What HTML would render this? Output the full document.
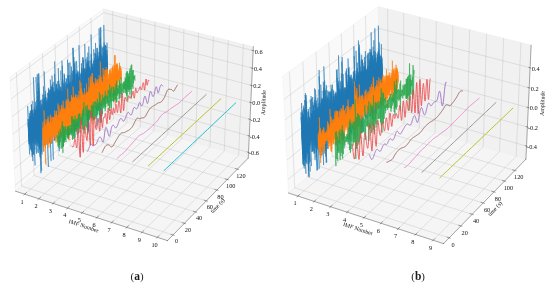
<!DOCTYPE html>
<html><head><meta charset="utf-8"><title>IMF decomposition</title>
<style>
html,body{margin:0;padding:0;background:#fff;}
body{width:550px;height:287px;overflow:hidden;font-family:"Liberation Serif",serif;}
svg{display:block;position:absolute;left:0;top:0;}
svg text{font-family:"Liberation Serif",serif;}
.cap{position:absolute;top:268.4px;width:40px;text-align:center;font-size:11.5px;line-height:16px;color:#1a1a1a;}
.cap b{font-weight:bold;}
.cap span{font-size:10.8px;position:relative;top:-0.2px;}
</style></head><body>
<svg width="550" height="287" viewBox="0 0 550 287">
<g id="panel-a">
<polygon points="15.47,191.16 104.84,116.51 103.59,8.83 9.95,76.94" fill="#f9f9f9" stroke="#ececec" stroke-width="0.40" stroke-linejoin="round"/>
<polygon points="104.84,116.51 248.25,158.05 253.36,46.67 103.59,8.83" fill="#f1f1f1" stroke="#ececec" stroke-width="0.40" stroke-linejoin="round"/>
<polygon points="15.47,191.16 167.49,240.64 248.25,158.05 104.84,116.51" fill="#f5f5f5" stroke="#ececec" stroke-width="0.40" stroke-linejoin="round"/>
<g fill="none" stroke="#b0b0b0" stroke-width="0.32">
<polyline points="24.67,194.16 113.56,119.03 112.68,11.13"/>
<polyline points="38.82,198.76 126.95,122.91 126.64,14.66"/>
<polyline points="53.11,203.42 140.46,126.83 140.74,18.22"/>
<polyline points="67.54,208.11 154.11,130.78 154.98,21.81"/>
<polyline points="82.12,212.86 167.88,134.77 169.35,25.45"/>
<polyline points="96.86,217.66 181.77,138.79 183.87,29.11"/>
<polyline points="111.74,222.50 195.80,142.86 198.52,32.81"/>
<polyline points="126.78,227.39 209.97,146.96 213.33,36.55"/>
<polyline points="141.97,232.34 224.27,151.10 228.28,40.33"/>
<polyline points="157.33,237.34 238.70,155.28 243.38,44.14"/>
<polyline points="173.05,234.96 21.59,186.04 16.39,72.26"/>
<polyline points="184.42,223.32 34.14,175.56 29.58,62.67"/>
<polyline points="195.53,211.97 46.41,165.32 42.45,53.30"/>
<polyline points="206.37,200.88 58.39,155.30 55.02,44.16"/>
<polyline points="216.95,190.05 70.11,145.51 67.29,35.24"/>
<polyline points="227.29,179.48 81.57,135.94 79.29,26.51"/>
<polyline points="237.40,169.14 92.78,126.57 91.01,17.99"/>
<polyline points="15.18,185.34 104.77,111.00 248.51,152.36"/>
<polyline points="14.37,168.55 104.59,95.12 249.26,135.96"/>
<polyline points="13.55,151.53 104.40,79.05 250.02,119.35"/>
<polyline points="12.72,134.27 104.22,62.77 250.80,102.52"/>
<polyline points="11.87,116.77 104.03,46.28 251.58,85.46"/>
<polyline points="11.01,99.02 103.83,29.58 252.37,68.17"/>
<polyline points="10.14,81.03 103.64,12.67 253.18,50.64"/>
</g>
<g fill="none" stroke-width="0.98" stroke-linejoin="round">
<polyline stroke="#1f77b4" stroke-width="0.52" points="28.16,126.95 27.86,119.09 28.08,123.44 28.99,144.12 28.51,131.96 28.70,135.42 28.23,123.45 28.79,135.83 28.35,124.43 29.64,154.42 27.65,105.94 29.18,141.80 28.51,124.76 29.06,137.04 28.99,134.65 28.63,125.15 28.73,126.51 29.26,138.37 29.03,131.99 28.74,124.22 29.60,143.81 29.52,141.04 28.64,119.08 29.56,140.18 29.83,145.92 29.13,128.27 29.29,131.27 29.70,140.11 29.91,144.33 29.04,122.46 29.10,122.97 29.78,138.67 29.75,137.05 29.22,123.31 29.39,126.59 29.91,138.18 29.37,124.23 29.41,124.28 30.06,139.08 30.04,137.69 29.47,123.03 29.82,130.67 29.49,121.85 30.67,149.55 29.90,129.91 30.15,135.18 30.50,142.74 29.58,119.54 29.89,126.09 30.54,141.01 29.41,112.91 30.19,130.86 30.17,129.43 30.25,130.46 30.01,123.67 31.09,149.18 29.79,116.68 30.31,128.29 31.29,151.37 29.90,116.57 30.69,135.04 30.16,121.21 30.95,139.45 30.51,127.98 30.50,126.86 31.13,141.15 30.26,119.02 30.95,134.97 30.56,124.68 31.16,138.49 30.28,115.99 30.92,130.72 31.16,135.67 30.66,122.59 30.63,121.09 30.60,119.44 32.18,156.97 30.33,111.08 31.17,130.68 31.34,133.83 31.62,139.77 30.46,110.43 32.14,150.73 30.75,115.96 30.95,119.73 32.40,154.55 31.15,122.85 31.95,141.59 31.05,118.80 30.94,115.13 31.09,117.78 32.89,161.09 31.43,124.36 31.22,118.33 31.20,117.10 31.98,135.17 32.22,140.21 31.49,121.42 32.02,133.49 31.97,131.52 32.47,142.77 31.59,120.34 31.96,128.51 32.15,132.33 32.14,131.09 32.61,141.79 32.01,126.10 31.50,112.65 32.61,139.18 32.83,143.64 31.29,104.65 32.43,132.07 31.54,109.13 32.92,142.26 32.64,134.51 32.97,141.88 31.50,104.40 31.72,109.07 33.61,154.85 32.66,130.58 32.19,117.85 33.19,141.95 32.60,126.24 32.82,130.83 32.59,124.24 32.37,117.75 33.12,135.71 32.46,118.29 33.34,139.37 32.69,122.12 34.01,154.24 33.09,130.38 32.31,109.87 33.56,140.26 32.71,118.05 33.07,126.26 32.46,110.04 33.22,128.16 32.81,116.95 33.62,136.25 33.61,135.22 33.51,131.69 33.43,128.76 33.81,137.35 33.42,126.73 33.41,125.55 33.41,124.75 33.80,133.42 35.11,165.49 33.18,116.19 33.57,125.07 33.31,117.62 33.79,128.73 34.22,138.58 33.97,131.53 32.80,101.22 34.09,132.66 33.34,112.91 33.53,116.67 34.89,149.99 33.67,118.32 33.98,125.27 33.99,124.63 34.06,125.44 34.23,128.91 34.18,126.76 34.92,144.45 33.98,119.72 34.59,134.32 34.12,121.40 34.62,133.15 34.05,117.93 34.28,122.67 34.57,129.27 34.48,125.96 34.61,128.31 34.81,132.53 34.60,126.16 34.84,131.36 34.43,120.02 34.83,129.44 34.23,113.15 35.50,144.46 34.15,109.40 35.41,140.47 35.03,129.90 34.85,124.46 35.17,131.60 34.77,120.36 35.37,134.70 35.39,134.43 35.21,128.99 34.41,107.66 35.50,134.55 35.72,139.22 34.98,119.29 35.94,143.01 33.40,77.28 36.44,153.75 34.83,111.84 35.34,123.89 36.21,145.26 34.93,111.51 34.92,110.37 35.64,127.89 35.63,126.68 35.32,117.92 35.86,130.80 35.63,123.80 35.90,129.90 35.50,118.64 36.39,140.57 35.29,111.40 36.32,136.92 36.27,134.82 35.53,114.93 35.37,109.79 36.07,126.73 36.55,138.19 35.67,114.80 36.53,135.78 36.12,124.36 36.15,124.15 37.28,152.49 35.35,101.65 36.83,138.88 36.39,126.80 36.99,141.13 36.71,133.08 36.48,126.19 35.87,109.54 36.00,112.05 37.03,137.63 36.10,112.65 37.06,136.43 37.47,146.18 36.11,110.14 36.58,121.34 37.10,133.84 36.55,118.80 36.67,120.78 37.44,139.96 37.36,137.01 36.64,117.30 37.03,126.34 37.13,128.13 36.49,110.49 36.38,106.78 37.82,143.15 36.56,109.63 36.95,118.69 37.16,123.33 36.97,117.34 38.01,143.45 36.86,112.70 36.60,104.80 37.84,136.23 37.98,139.09 36.99,112.32 37.07,113.31 37.74,129.98 37.97,135.10 36.67,100.04 38.73,153.11 37.05,108.20 38.04,133.11 38.36,140.41 35.97,76.99 38.02,129.85 38.56,143.04 37.22,107.00 38.34,135.32 38.81,146.73 37.77,118.40 37.68,115.27 37.67,113.91 38.22,127.47 38.17,125.22 37.94,118.30 38.47,131.24 37.55,106.11 38.58,132.12 38.21,121.47 38.13,118.56 39.12,143.56 38.46,125.31 37.40,96.32 38.97,136.74 38.95,135.42 38.29,116.87 38.97,133.84 38.33,115.98 39.11,135.88 38.34,114.35 39.67,148.68 37.52,90.97 40.05,156.83 39.53,142.03 38.48,113.47 39.04,127.25 38.74,118.45 39.64,141.42 37.77,90.82 37.19,74.46 40.95,173.24 38.52,107.79 39.43,131.00 38.74,111.77 40.25,150.84 39.30,124.56 38.68,107.07 39.50,128.00 38.47,99.73 40.29,147.16 39.12,114.97 37.96,83.11 40.81,158.35 39.77,129.61 39.31,116.20 39.62,123.64 39.19,111.06 39.87,128.50 40.14,134.78 39.40,113.95 38.47,87.98 39.98,127.43 41.64,170.89 39.10,102.01 40.32,133.80 39.37,107.34 40.27,130.40 38.19,73.72 40.18,126.03 39.86,116.57 40.30,127.53 40.24,124.90 40.02,118.02 39.70,108.36 40.39,125.97 40.63,131.51 39.62,103.27 40.65,130.10 40.50,125.16 41.08,139.86 40.52,123.79 40.65,126.35 41.66,152.62 38.76,73.30 40.64,123.06 40.91,129.34 40.15,107.90 40.81,124.76 40.71,121.08 41.98,154.63 40.27,107.20 40.56,114.05 40.33,106.88 40.55,111.91 40.83,118.47 41.86,145.47 41.67,139.41 40.26,100.30 41.24,125.71 40.74,111.36 41.46,129.95 41.09,118.76 41.90,139.94 40.73,107.12 41.60,129.71 41.10,115.26 41.26,118.47 41.57,126.06 41.30,117.77 41.56,123.96 41.23,113.81 41.54,121.30 41.91,130.39 41.72,124.35 40.88,100.41 42.11,133.08 41.35,111.16 41.84,123.59 42.08,129.38 41.98,125.53 41.67,116.03 41.84,119.74 41.78,117.10 42.53,136.78 41.95,119.87 41.95,118.95 41.51,105.93 43.21,151.52 41.52,104.22 42.45,128.57 41.97,114.40 42.50,127.97 42.07,115.27 41.88,109.09 42.54,126.34 42.32,119.16 42.39,120.09 42.77,129.62 42.17,112.27 42.70,125.69 42.78,126.98 42.45,117.02 42.76,124.38 42.38,113.10 42.86,125.18 42.89,125.23 41.99,99.32 42.77,119.78 42.62,114.83 42.92,122.08 43.06,124.86 43.05,123.78 42.99,120.90 42.66,110.73 43.19,124.64 43.58,134.28 42.84,112.93 43.60,132.93 42.86,111.32 43.64,132.17 43.43,125.33 43.00,112.40 43.37,121.74 43.89,135.10 42.81,104.11 42.85,104.30 44.38,145.91 42.58,94.61 44.13,136.86 43.59,120.96 43.56,119.04 44.18,135.42 42.92,99.12 43.80,122.84 44.10,130.17 43.71,118.33 44.56,141.09 43.64,114.42 43.26,102.61 44.71,142.37 43.73,113.94 43.83,115.75 43.67,110.10 43.79,112.48 44.54,132.62 44.47,129.53 43.82,110.49 44.42,126.22 44.26,120.62 43.79,106.37 43.90,108.66 44.60,127.43 44.56,125.12 44.14,112.23 45.26,143.04 44.04,107.50 44.90,130.67 43.36,86.36 44.84,127.10 44.71,122.52 44.74,122.38 45.59,145.33 43.83,94.59 43.89,95.19 45.44,138.02 44.37,106.66 44.72,115.68 45.66,141.20 44.17,97.93 44.63,110.09 45.21,125.68 45.10,121.32 44.72,109.53 45.89,141.89 44.70,107.18 44.75,107.34 45.95,140.46 44.51,98.49 45.67,130.63 46.04,140.07 44.85,105.30 45.73,129.42 45.02,108.03 46.13,138.54 44.73,97.68 46.07,134.86 45.20,109.05 45.90,128.23 45.59,118.17 45.05,101.79 45.88,124.52 45.93,124.80 46.17,130.67 44.13,71.45 45.79,117.97 46.17,127.65 45.69,113.01 46.41,132.55 46.11,123.13 46.07,120.92 45.65,107.86 46.01,117.20 46.47,129.40 45.29,94.36 45.81,108.25 46.31,121.74 45.82,106.63 46.64,129.11 46.27,117.31 46.10,111.40 46.49,121.84 46.05,108.00 47.15,138.78 45.54,91.16 47.18,137.58 46.40,114.15 47.10,133.21 46.00,100.40 46.25,106.67 46.54,114.02 46.62,115.40 48.44,166.96 46.71,115.82 46.80,117.54 47.11,125.45 46.17,97.26 47.11,123.37 47.00,119.13 46.77,111.49 47.52,132.17 47.18,121.43 47.22,121.39 46.70,105.17 47.13,116.84 47.03,112.91 46.92,108.65 48.06,140.64 47.18,114.26 47.01,108.16 47.93,133.92 47.28,113.92 46.89,101.46 47.26,111.33 47.33,112.23 47.77,124.06 47.66,119.79 47.11,102.90 48.03,128.76 47.44,110.41 47.15,100.88 48.20,130.59 47.92,121.37 47.66,112.70 47.60,109.81 47.82,115.36 48.03,120.36 47.76,111.38 48.73,138.78 47.97,115.52 47.78,108.81 48.75,136.34 48.42,125.58 48.30,121.19 48.36,121.75 48.07,112.22 48.60,126.96 47.95,106.67 47.71,98.44 48.80,129.71 47.85,100.63 48.60,121.80 48.95,131.07 48.15,106.28 48.84,125.73 48.03,100.58 49.21,134.58 47.84,92.88 48.85,121.85 49.60,142.98 47.95,93.02 48.34,103.63 49.46,135.60 48.26,99.23 49.77,143.00 48.38,100.68 49.62,136.45 48.40,98.95 49.79,139.31 49.63,133.47 48.31,93.20 48.32,92.35 49.88,137.87 48.72,102.26 49.35,120.09 49.39,120.08 48.97,106.54 48.83,101.28 50.17,140.24 48.89,100.93 49.41,115.49 50.05,133.54 48.56,87.83 48.74,92.15 51.07,160.88 48.73,89.77 49.98,126.17 49.72,117.52 49.10,97.77 49.96,122.63 49.69,113.27 49.31,100.90 49.69,111.17 49.81,113.92 50.57,135.70 50.18,122.92 49.22,92.99 50.55,131.92 49.78,107.64 50.46,127.20 49.94,110.20 50.82,135.69 49.33,89.83 50.88,135.44 50.07,109.86 50.31,116.07 49.85,101.27 51.05,136.54 50.09,106.44 50.50,117.77 50.22,108.10 50.42,113.17 50.75,122.20 50.37,109.45 50.75,119.83 50.38,107.66 50.77,118.42 50.97,123.60 50.59,110.89 50.62,110.72 50.10,93.95 51.41,132.71 50.65,108.44 50.46,101.64 51.87,143.38 51.25,123.66 51.03,115.74 50.82,108.33 50.23,89.09 51.43,124.86 50.65,99.75 51.46,123.59 51.94,137.21 51.49,122.46 50.46,89.77 51.43,118.35 51.78,128.15 50.73,94.76 52.11,136.13 50.31,79.63 51.20,106.09 52.03,130.47 51.74,120.51 51.06,98.30 52.13,130.20 51.12,98.04 52.24,131.38 51.18,97.82 51.90,118.95 52.03,121.79 52.02,120.34 51.57,105.45 53.36,159.58 51.61,104.43 52.02,116.02 51.65,103.69 52.58,131.24 51.17,86.60 52.54,127.89 52.44,123.74 51.40,90.61 51.88,104.23 52.63,126.33 52.52,121.89 52.08,107.17 52.56,121.04 52.30,111.90 51.74,93.49 52.61,119.29 52.48,114.18 52.39,110.20 52.64,116.82 52.23,103.04 52.45,108.76 53.13,128.91 52.53,109.23 51.80,85.51 53.10,124.79 53.13,124.78 51.97,87.45 53.28,127.05 53.27,125.70 52.38,97.06 53.41,128.05 52.94,112.26 52.75,105.33 53.15,116.52 53.32,120.81 53.13,113.76 53.23,115.75 51.98,75.55 53.73,129.42 53.28,114.21 52.34,83.70 53.97,133.59 52.63,90.45 53.20,107.37 53.76,123.66 54.34,141.02 52.97,96.61 53.19,102.66 53.32,105.52 53.76,118.36 53.16,98.26 53.10,95.30 54.38,134.57 52.92,87.31 54.20,126.56 54.02,120.07 53.80,111.84 53.06,87.29 53.93,113.72 54.79,139.79 53.51,98.28 54.05,114.18 54.07,113.83 54.19,116.65 54.50,125.17 53.47,91.56 54.67,128.54 54.11,109.56 54.51,121.34 54.38,115.92 53.86,98.21 54.34,112.39 54.67,121.82 54.57,117.69 54.38,110.51 54.01,97.60 54.64,116.58 54.40,107.79 54.71,116.63 54.61,112.14 54.49,107.40 55.32,132.60 53.76,81.77 55.31,130.04 54.79,112.60 54.23,93.35 55.01,117.41 54.89,112.22 55.09,117.59 55.32,123.77 54.59,99.48 54.64,99.89 55.54,127.66 54.45,91.43 55.71,130.78 55.15,111.63 54.86,101.38 55.36,116.44 55.01,103.98 55.62,122.50 55.48,116.77 55.72,123.29 55.39,111.69 55.51,114.34 55.67,118.53 55.11,99.19 55.76,119.11 56.02,126.31 54.43,73.95 56.30,133.34 55.86,118.04 55.06,90.89 55.45,102.37 56.59,138.28 56.01,118.19 55.84,111.64 55.31,93.41 56.17,120.12 56.09,116.52 55.79,105.63 55.39,91.30 56.64,130.94 55.90,105.89 56.42,121.60 54.61,61.51 55.99,105.15 56.22,111.60 56.42,117.14 56.02,102.81 57.03,134.70 55.84,94.71 56.80,124.97 56.54,115.27 56.38,109.12 56.42,109.27 56.24,102.06 56.40,106.35 56.60,111.51 56.92,121.00 56.23,97.19 56.81,115.19 56.04,88.75 57.22,126.30 57.43,132.25 56.41,97.53 56.04,84.33 57.12,118.53 57.03,114.58 56.60,99.18 56.96,109.88 56.93,107.91 57.27,117.81 56.93,105.47 57.04,107.85 57.64,126.61 57.39,117.20 56.93,100.75 56.93,99.90 57.23,108.65 57.25,108.20 57.25,107.06 56.60,84.35 57.81,123.19 57.13,99.54 56.69,83.75 57.86,121.40 57.45,106.59 57.26,99.32 57.24,97.30 58.15,126.31 57.52,104.49 57.79,112.27 58.15,123.01 57.13,88.13 58.11,119.28 58.36,126.48 57.56,98.80 58.71,135.85 57.92,108.47 57.75,101.66 58.31,119.36 57.47,89.98 59.34,151.26 57.70,95.41 57.99,104.01 57.77,95.52 58.18,108.04 58.37,113.34 58.30,109.83 58.33,109.74 57.92,94.70 59.46,145.12 57.82,89.11 58.57,113.13 58.36,104.87 58.64,113.09 57.72,81.06 59.24,130.88 58.37,100.59 58.59,106.75 58.51,102.96 58.67,107.15 58.68,106.31 58.51,99.48 59.53,132.63 58.51,97.19 59.30,122.63 58.56,96.41 59.40,123.56 59.06,110.91 58.82,101.78 58.53,90.76 59.16,110.95 59.12,108.43 58.62,90.32 59.79,128.86 59.74,125.76 58.95,97.80 59.28,107.99 58.81,90.89 58.85,90.90 60.28,138.33 58.24,68.02 59.41,106.64 59.51,108.73 59.55,109.12 58.76,80.99 60.05,123.70 59.79,113.62 59.49,102.37 60.47,134.66 59.26,91.90 59.88,111.98 59.64,102.59 59.75,105.35 60.28,122.27 59.19,83.90 60.53,128.37 59.42,89.34 60.70,132.02 59.54,91.11 60.40,119.33 59.89,100.74 60.34,114.98 60.75,127.93 60.11,104.68 59.96,98.26 60.04,100.07 60.90,128.32 60.73,121.34 60.21,102.13 60.27,103.17 60.58,112.68 60.59,111.76 60.02,90.93 60.36,101.42 60.49,104.81 61.39,134.74 60.40,99.24 60.73,109.36 61.11,121.56 60.13,86.46 60.89,111.57 60.96,112.62 60.25,86.87 60.88,107.43 60.75,101.91 60.69,98.62 60.95,106.40 61.52,125.26 60.89,102.16 60.65,92.40 61.52,121.45 60.96,100.69 60.90,97.65 60.80,92.83 61.08,101.38 61.21,104.83 61.51,114.03 60.99,94.83 61.36,106.29 61.53,111.22 60.96,90.17 61.55,109.43 61.80,117.24 60.99,87.34 61.86,116.73 61.35,97.89 62.18,125.73 61.38,96.29 61.96,115.67 61.84,110.06 62.15,119.68 60.79,70.64 62.24,120.70 61.75,102.24 61.60,95.52 62.34,120.48 61.78,99.48 62.51,124.26 61.72,95.00 62.21,111.03 61.86,97.72 62.15,106.71 62.59,120.79 62.48,115.91 62.19,104.41 61.86,91.44 62.29,105.53 62.28,103.80 63.52,146.69 62.81,120.34 62.09,93.44 62.44,104.80 62.60,109.32 62.31,97.83 62.66,109.06 62.90,116.13 62.67,106.81 62.46,98.21 62.69,105.18 62.75,106.22 62.09,81.26 63.25,121.37 62.74,102.12 63.16,115.72 62.82,102.47 62.71,97.35 62.88,102.29 63.13,109.85 62.88,99.84 63.10,106.61 63.62,123.94 63.72,126.21 61.93,60.81 63.54,117.28 63.38,110.23 63.73,121.66 63.35,106.93 62.24,65.78 64.35,140.22 63.01,90.90 63.12,93.77 63.59,109.39 63.30,97.71 63.68,110.25 62.86,79.38 64.26,128.78 63.83,111.77 63.35,93.33 63.33,91.56 63.97,113.35 63.45,93.36 64.10,115.74 64.06,112.80 63.27,82.88 63.68,96.82 63.55,90.90 64.32,117.56 64.23,112.92 64.15,108.76 63.92,99.21 63.89,96.77 64.03,100.59 64.63,121.19 63.89,93.27 64.25,104.85 64.23,103.03 64.31,104.58 64.37,105.65 64.15,96.57 64.45,106.02 64.38,102.20 64.68,111.94 64.26,95.48 64.62,107.22 65.11,123.98 64.10,85.79 64.85,111.98 64.35,92.52 64.88,110.71 64.72,103.44 64.68,100.71 64.82,104.81 64.94,107.83 65.27,118.72 64.07,73.37 65.65,130.27 64.78,97.10 64.74,94.49 65.02,103.34 64.96,99.73 64.96,98.79 64.89,94.93 65.28,107.82 64.42,74.86 65.97,131.00 65.02,94.44 65.42,108.11 65.51,110.38 65.18,96.62 65.02,89.62 65.85,119.15 65.53,105.82 65.16,90.90 65.48,101.70 65.06,84.74 65.66,105.88 65.72,106.77 65.78,107.57 65.56,98.39 65.80,105.84 66.30,123.33 65.55,93.95 65.86,104.48 65.88,103.90 65.96,105.58 65.36,81.90 66.03,105.83 65.83,96.99 66.34,114.70 66.23,109.33 65.98,98.69 65.99,97.98 66.28,107.52 66.17,102.10 65.90,90.84 66.32,105.20 66.60,114.52 66.26,100.47 66.46,106.43 66.21,96.01 66.77,115.64 66.29,96.53 66.25,93.51 66.73,110.33 66.80,111.91 66.59,102.72 66.47,96.68 66.52,97.57 66.52,96.05 66.89,108.78 67.11,115.92 66.14,77.94 66.96,107.75 66.77,99.35 66.85,101.09 67.25,114.71 66.85,98.46 66.84,96.87 66.76,92.24 67.19,107.58 67.95,134.85 66.64,84.05 67.00,96.23 66.86,89.92 67.22,102.19 66.65,79.27 67.29,102.19 67.16,96.15 67.30,99.96 68.36,139.37 66.93,83.35 67.41,100.34 67.71,110.69 67.25,91.61 67.51,100.53 67.76,108.81 67.56,99.52 67.69,103.17 67.56,96.98 67.85,107.09 67.51,92.52 68.38,124.77 67.56,91.72 68.25,117.08 67.72,95.32 67.67,92.29 68.01,104.00 68.00,102.32 67.96,99.42 67.60,84.34 68.63,122.62 67.66,84.00 68.69,122.59 68.04,95.98 68.07,95.91 68.52,111.90 68.06,92.88 68.12,94.05 68.78,118.21 68.18,93.61 68.48,104.15 68.90,119.13 68.18,89.75 68.68,107.98 67.47,59.68 69.03,118.80 67.95,75.58 69.06,117.46 68.01,75.03 68.87,107.24 68.68,98.84 68.60,94.29 68.67,95.54 68.57,90.50 68.60,90.12 69.28,115.71 69.22,111.87 69.50,121.71 68.63,86.20 68.73,88.71 69.09,101.44 69.12,101.28 69.24,104.77 69.28,104.88 69.15,98.77 69.05,93.45 69.83,122.71 68.75,79.03 69.87,121.56 69.14,91.47 69.54,106.01 69.41,99.62 69.69,109.28 69.63,105.81 69.38,94.30 69.82,110.63 68.65,62.90 70.16,121.46 69.76,104.32 69.72,101.38 69.93,108.16 70.27,120.46 69.42,85.23 69.67,94.05 70.33,118.95 69.61,88.82 70.26,113.41 69.74,91.33 69.86,94.91 69.93,96.18 70.00,97.62 70.35,110.38 69.73,84.09 70.42,110.43 69.99,92.03 70.06,93.45 70.45,107.47 70.59,111.71 69.90,83.09 70.76,115.97 70.43,101.56 70.56,105.49 70.00,81.67 70.66,106.57 71.11,123.22 69.94,74.93 70.10,80.18 70.44,92.49 71.09,117.42 70.55,94.04 70.57,93.52 70.56,92.06 70.90,104.40 71.11,111.28 69.93,62.42 70.82,96.81 71.37,117.73 70.81,93.71 70.82,93.02 71.04,100.41 70.88,92.55 70.92,93.04 71.07,97.74 71.25,103.42 71.51,112.85 70.79,82.13 70.93,86.61 70.94,85.40 71.63,112.08 71.33,98.47 70.94,81.48 71.23,91.73 71.57,104.15 71.31,92.39 71.82,111.64 71.23,86.23 71.88,111.46 71.49,94.09 71.63,98.48 71.76,102.54 72.19,118.76 71.59,92.94 71.51,88.45 71.85,100.92 71.91,102.00 71.66,90.25 71.76,92.91 71.79,92.85 72.31,112.81 71.84,91.98 72.11,101.74 72.23,105.50 72.35,108.80 71.88,88.47 72.37,106.99 71.42,66.49 72.59,113.51 72.29,99.49 72.35,100.59 71.71,72.96 73.16,131.60 72.26,92.82 72.59,105.20 72.34,93.54 72.46,96.89 72.19,84.38 73.11,121.11 72.33,87.71 72.14,78.32 73.04,114.29 72.63,95.77 72.91,106.24 73.31,121.17 72.35,80.04 72.45,82.69 73.15,110.69 73.30,115.19 72.51,80.97 72.97,98.95 72.69,85.86 72.91,93.37 73.25,106.48 72.90,90.36 73.66,120.57 72.50,70.93 73.29,102.51 72.91,85.36 73.00,87.42 73.51,107.62 73.28,96.49 73.54,105.96 74.36,138.99 73.07,83.54 73.33,92.82 73.78,110.49 73.10,80.37 73.61,100.47 73.32,87.12 73.87,108.83 73.98,111.88 73.12,74.47 73.63,94.54 73.84,102.08 73.84,100.63 73.78,96.67 73.80,96.00 73.96,101.40 74.35,116.48 72.77,48.01 74.49,119.48 73.81,89.48 74.03,97.47 73.91,90.85 74.56,117.10 73.49,69.89 74.15,96.90 74.02,89.93 73.97,86.39 74.67,114.45 75.00,127.24 73.17,47.72 74.02,82.59 74.26,91.41 74.77,111.88 74.36,93.09 74.37,91.74 75.04,119.04 74.41,90.77 74.62,98.50 74.04,72.20 75.06,114.45 74.11,72.23 74.94,106.51 75.43,126.12 73.86,57.00 75.41,122.30 74.49,81.28 74.48,79.68 75.72,131.69 75.47,119.47 74.46,74.41 75.13,101.85 75.35,109.98 75.14,99.29 75.01,92.26 74.38,63.49 75.37,105.19 74.96,85.61 74.87,80.56 75.17,91.94 75.09,87.33 75.21,90.85 75.95,121.62 74.79,69.83 75.51,99.61 75.52,98.63 75.73,106.34 75.74,105.49 75.57,96.68 75.40,87.61 75.90,107.81 75.66,96.15 75.70,96.21 75.43,83.21 75.90,102.42 75.75,94.38 75.04,61.53 76.24,112.59 75.66,85.96 76.24,109.96 75.69,84.09 75.98,95.41 75.93,91.98 76.16,100.65 76.24,102.51 76.01,91.06 76.19,97.50 75.83,80.42 76.12,91.35 77.13,134.49 75.93,80.12 76.48,103.23 76.14,86.49 76.52,102.10 76.65,106.42 75.97,74.46 76.48,95.81 76.82,109.43 76.78,105.91 76.40,87.96 76.77,102.82 76.53,90.55 76.45,85.50 76.42,82.86 76.98,106.43 76.37,77.81 76.66,88.93 77.06,105.24 77.15,107.92 76.45,75.12 76.88,92.84 76.48,73.73 76.96,93.38 77.01,94.50 76.76,81.46 77.52,114.13 76.91,85.40 77.21,97.52 76.73,74.38 77.30,98.37 77.97,127.14 76.53,60.97 77.67,110.72 77.02,80.12 77.56,102.90 77.27,88.03 77.31,88.43 77.49,95.23 77.78,106.97 77.07,73.15 77.65,97.74 77.64,95.82 77.25,76.77 77.86,102.93 77.17,70.35 77.91,102.38 77.69,90.71 77.74,91.74 78.41,120.38 77.98,99.49 77.66,83.36 77.85,90.64 77.67,81.00 78.05,96.63 78.31,107.11 77.76,80.32 77.95,87.39 77.98,87.39 78.19,95.63 78.49,107.89 77.74,72.17 78.56,108.03 78.02,81.63 79.06,127.80 77.88,72.18 78.83,114.25 78.01,75.32 78.15,80.14 78.43,91.28 78.94,113.20 78.58,95.19 78.62,95.86 78.29,78.93 78.63,92.98 78.66,92.92 78.63,89.88 78.61,87.77 78.67,88.77 78.45,77.09 79.08,104.66 78.78,89.44 79.37,115.24 78.96,94.65 78.90,90.18 79.17,101.26 78.76,80.93 78.80,81.15 79.34,104.74 79.16,94.74 79.19,94.68 79.05,86.68 79.36,99.54 79.03,82.73 79.25,91.38 79.25,89.90 79.18,85.02 79.47,97.11 79.36,90.30 78.98,70.98 79.75,105.34 79.27,81.51 79.63,97.01 79.68,97.80 79.63,93.97 79.76,98.45 79.52,85.37 79.84,99.21 79.73,92.36 79.35,73.11 80.01,102.28 79.49,76.26 79.95,96.70 79.69,82.72 80.20,105.39 79.81,85.04 78.99,45.13 80.20,100.69 79.90,84.70 80.17,95.88 79.91,82.43 80.57,111.77 80.21,93.16 79.96,79.66 80.09,84.31 80.49,102.18 80.28,90.46 80.39,94.18 80.35,90.77 80.67,104.21 80.61,99.66 80.26,81.65 80.91,111.18 80.51,90.25 80.57,91.87 80.75,98.78 80.40,80.58 80.80,97.89 80.64,88.71 80.95,102.17 80.78,92.47 80.55,79.61 80.80,90.19 81.01,98.72 80.72,83.33 80.92,91.13 80.93,90.21 80.62,73.45 81.33,106.10 80.88,83.16 81.03,88.74 81.22,96.12 81.37,102.07 80.84,74.95 81.24,92.27 81.26,91.74 81.27,90.60 81.30,90.43 81.53,100.39 81.17,81.39 81.83,111.78 81.19,78.95 81.78,106.27 81.37,84.52 81.32,80.42 81.71,97.65 81.66,93.75 81.45,81.82 81.78,96.33 81.75,93.42 81.75,91.78 81.38,71.95 81.83,92.69 81.80,89.32 82.15,105.19 81.60,76.45 82.25,106.88 81.68,77.32 82.26,104.10 81.47,63.46 82.61,118.20 81.62,67.58 82.09,89.28 82.58,111.99 82.00,81.77 81.88,74.23 82.18,87.22 82.72,112.36 82.20,85.19 82.49,98.06 82.46,94.89 82.40,89.99 81.99,68.28 82.64,98.88 82.55,92.55 82.56,91.51 82.39,81.41 82.53,86.84 82.87,101.97 82.27,70.55 83.04,107.63 82.64,86.01 82.63,83.73 82.51,76.07 83.06,101.96 82.75,84.83 82.67,78.95 82.94,91.03 82.80,82.42 82.90,85.97 83.07,92.53 82.95,84.91 82.97,84.32 83.20,94.35 82.84,74.54 83.68,115.25 83.15,86.66 82.59,57.25 83.42,97.33 83.45,97.00 83.06,75.61 83.20,81.30 83.60,99.61 83.22,79.11 83.55,94.01 83.49,89.20 83.51,88.83 83.34,78.61 83.89,104.37 83.53,84.58 83.49,80.96 83.95,102.78 83.85,96.08 83.17,59.99 83.83,91.58 83.83,89.89 83.79,86.55 84.05,97.73 83.29,57.66 84.39,112.09 83.94,87.11 84.19,98.52 83.95,84.60 83.75,72.81 84.24,96.16 84.02,83.24 84.30,95.63 83.83,69.79 84.37,96.31 84.48,99.96 84.02,74.85 84.46,95.45 84.20,80.87 84.42,90.11 84.38,86.53 84.45,88.28 84.64,96.75 84.69,97.36 84.17,68.88 84.69,94.37 84.54,84.70 84.74,93.59 84.96,103.40 84.71,88.46 84.35,68.33 85.04,102.35 84.78,87.02 85.04,98.93 84.80,84.57 84.90,88.26 84.92,87.71 84.94,87.16 85.18,97.74 85.05,89.45 84.99,84.57 85.02,84.54 85.17,90.70 84.82,70.39 85.33,95.38 85.20,87.16 85.38,94.57 85.02,73.94 85.60,102.94 85.52,96.97 85.37,87.44 85.18,75.73 85.71,101.92 85.10,67.95 85.64,95.07 85.81,101.91 85.43,80.55 84.77,44.02 85.98,106.23 85.81,95.08 85.44,74.10 85.53,77.05 85.68,83.12 85.96,96.59 85.74,83.14 85.81,84.87 85.69,76.90 85.63,71.97 86.22,101.42 85.71,72.62 86.23,98.67 85.88,78.49 86.58,113.91 86.14,89.03 85.96,77.45 86.40,99.07 85.91,71.30 86.45,98.46 86.18,82.28 86.32,88.14 86.39,89.81 86.29,83.00 86.04,67.93 85.91,58.88 87.08,120.35 86.27,75.11 86.59,90.57 86.72,95.68 86.40,76.93 86.84,98.51 86.43,74.80 86.40,71.44 87.30,118.17 86.42,69.21 86.71,82.86 87.07,100.69 86.58,72.64 86.86,85.85 87.02,92.93 86.62,69.10 87.84,133.92 86.68,68.84 87.17,93.65 87.39,104.34 86.99,80.54 87.18,89.07 86.92,73.37 87.63,110.32 87.06,77.30 87.33,90.20 86.86,62.77 87.78,111.46 86.95,64.08 87.92,115.61 87.09,68.16 87.52,90.19 87.32,77.15 87.72,97.58 88.34,130.20 87.66,90.56 87.08,56.84 87.77,93.08 87.89,98.39 87.36,67.37 88.03,102.12 87.83,89.43 87.97,95.54 87.38,60.79 87.52,67.02 88.38,113.00 87.72,74.28 87.73,73.34 87.62,65.55 88.85,132.22 87.68,64.82 87.95,78.17 88.86,127.15 87.84,68.49 88.19,86.01 87.96,71.57 88.47,98.47 88.09,75.34 88.50,96.35 88.11,72.67 88.41,87.91 88.51,91.32 88.70,100.48 87.88,52.56 88.46,83.61 88.47,82.37 88.83,100.34 88.58,84.46 88.19,60.73 88.71,88.32 88.97,101.48 88.59,77.84 88.72,83.50 88.84,88.53 88.99,95.29 88.43,61.60 88.91,86.89 89.03,91.72 89.26,102.95 88.89,80.20 88.92,80.37 88.84,73.74 89.26,95.72 88.80,67.93 89.24,91.09 89.34,94.80 89.69,113.26 89.11,78.28 89.42,94.13 89.12,75.25 89.19,77.21 89.09,69.68 89.56,94.68 89.65,98.31 88.78,46.53 89.70,97.60 89.60,89.70 89.56,85.47 89.82,98.58 89.29,66.50 89.63,84.21 89.37,67.50 89.63,80.65 89.68,81.53 89.58,73.83 90.00,96.38 89.88,87.21 89.81,81.31 90.13,98.34 89.72,72.68 90.00,86.72 89.80,73.42 90.09,88.69 90.42,106.10 89.83,69.67 89.82,66.99 90.67,115.03 90.10,79.56 90.10,77.99 90.50,99.21 90.21,80.61 90.22,78.95 90.59,99.26 90.14,70.63 90.34,80.67 90.78,104.67 90.26,72.17 90.10,60.54 90.68,92.85 90.44,76.94 90.50,78.78 90.73,90.38 90.42,70.08 90.71,85.50 90.94,97.15 90.52,70.12 90.55,70.39 90.74,79.72 91.05,95.86 90.70,73.22 90.68,70.31 91.04,89.65 90.75,70.87 90.87,76.10 91.17,92.06 90.92,75.01 91.21,90.50 90.88,68.60 91.28,90.91 91.39,95.39 91.15,79.21 91.25,83.25 91.19,77.81 91.26,79.91 91.91,117.46 91.36,81.97 91.26,74.13 91.38,79.51 91.50,84.63 91.01,53.74 91.60,87.37 91.69,90.43 91.44,73.84 91.45,72.46 91.72,86.92 92.02,103.13 91.51,69.84 91.74,82.20 91.40,59.55 92.34,114.63 91.05,34.42 92.29,107.76 91.72,71.21 92.07,90.76 91.90,78.27 91.82,71.24 92.12,87.94 91.67,58.46 92.29,94.46 92.18,85.45 92.15,81.46 92.24,85.44 92.18,79.86 92.01,67.30 92.59,101.16 92.46,91.01 92.18,71.93 92.10,64.86 92.40,81.16 92.32,74.74 92.31,72.01 92.72,95.55 92.44,76.07 92.98,107.11 92.42,70.99 92.47,72.10 92.94,99.23 92.85,91.77 92.73,81.82 92.60,71.89 92.51,64.72 92.53,63.61 92.86,82.22 93.22,102.66 93.11,93.88 92.71,66.88 92.83,72.14 93.32,101.22 92.96,76.86 93.08,82.12 93.01,75.40 93.15,82.62 93.07,75.18 93.08,74.05 93.30,85.74 93.15,74.37 93.06,66.85 93.62,100.22 93.40,84.46 93.21,70.43 93.19,66.74 93.57,88.86 93.33,71.65 93.63,88.97 93.38,70.62 93.73,90.77 93.45,71.01 93.63,80.41 93.63,78.90 93.53,70.10 93.68,78.08 93.92,91.16 93.61,69.05 94.12,99.81 93.56,62.08 93.57,60.70 94.19,98.24 93.91,78.29 94.00,82.11 93.89,72.79 94.16,88.37 93.93,71.37 94.19,85.86 94.16,82.13 94.10,76.33 94.21,80.93 94.46,94.96 93.78,49.18 94.44,89.62 94.56,95.67 94.05,60.35 94.47,85.69 94.34,75.18 94.36,74.13 94.66,91.52 94.84,101.39 94.29,63.96 94.52,76.60 94.47,71.40 94.82,91.88 94.61,76.18 94.61,74.06 94.80,84.44 94.76,79.81 94.72,75.40 94.98,89.96 94.53,58.39 95.15,96.74 94.82,73.50 94.99,82.42 95.04,83.92 94.86,69.81 94.93,72.37 94.94,70.78 95.14,81.77 95.24,86.63 94.99,67.88 95.48,97.83 95.09,69.90 95.13,70.91 95.25,76.36 95.54,93.38 95.47,86.71 94.99,53.19 95.63,93.61 95.64,91.98 95.51,81.20 95.39,71.10 95.15,53.25 95.71,88.15 95.42,66.47 95.70,83.59 95.61,75.19 95.59,71.44 95.87,88.34 95.68,73.20 95.87,84.28 95.88,82.62 95.69,67.77 96.06,90.89 95.82,72.51 96.07,87.05 95.91,74.40 96.08,83.28 95.51,42.91 96.16,84.34 96.08,77.30 95.88,61.46 96.87,126.35 95.98,63.83 96.54,99.86 96.00,60.94 96.22,73.59 96.26,74.22 96.37,79.47 96.54,89.09 96.06,53.87 96.56,86.06 96.55,82.86 96.66,88.34 96.37,66.46 96.69,85.99 96.63,79.74 96.56,72.98 96.65,77.05 96.84,88.13 96.45,59.26 97.03,96.56 96.87,83.46 96.67,67.47 96.86,78.54 96.88,77.98 97.07,88.97 96.90,74.78 97.07,84.12 97.21,91.76 96.77,59.24 97.29,93.23 96.97,68.86 97.00,68.42 97.23,82.14 96.77,48.18 97.69,109.83 97.24,76.67 97.21,71.86 97.12,63.57 97.51,88.91 97.58,91.23 97.11,55.89 97.69,94.64 97.42,73.68 97.34,65.85 97.72,90.26 97.58,77.97 97.49,69.22 97.71,82.72 97.60,72.95 97.87,89.35 97.66,72.46 97.91,88.28 97.93,87.00 97.40,47.77 97.94,83.71 97.78,70.19 98.14,93.58 97.86,71.13 98.00,79.19 98.20,91.20 97.82,61.70 98.23,88.51 98.07,74.51 98.34,92.26 97.87,55.87 98.17,75.16 98.23,77.64 98.43,89.52 98.29,76.76 98.06,58.62 98.55,91.31 98.31,71.99 98.42,77.21 98.63,90.15 98.13,51.91 98.95,108.85 98.32,60.69 98.60,79.17 98.84,94.20 98.43,61.80 98.61,72.96 98.73,79.53 98.86,86.28 98.61,65.69 98.65,66.82 98.97,88.03 98.60,58.08 98.91,78.44 98.84,71.46 98.79,65.62 99.21,93.52 99.02,77.76 98.90,66.65 99.03,73.83 98.91,62.23 99.09,73.42 99.24,82.16 99.17,74.83 99.28,80.89 99.28,78.45 99.32,78.81 99.12,62.11 99.50,87.93 99.39,76.84 99.35,71.53 99.53,83.12 99.46,74.95 100.10,120.58 99.26,55.58 99.65,82.09 99.49,68.55 99.58,72.67 99.98,100.33 99.05,28.47 99.92,90.85 99.73,74.45 100.08,97.98 99.53,54.71 99.83,74.76 99.96,82.49 99.82,69.47 99.74,61.21 100.13,88.29 100.10,83.42 99.71,51.89 100.13,81.28 100.13,78.87 99.72,45.09 100.55,105.92 100.22,77.97 100.14,70.14 100.32,81.48 100.19,69.06 100.29,74.35 100.45,83.67 100.34,72.94 100.24,62.75 100.39,72.14 100.40,70.20 100.41,69.17 100.55,77.20 100.49,69.97 100.69,82.88 100.61,74.79 100.45,59.78 101.08,105.77 100.45,55.29 100.26,38.04 101.39,122.56 100.19,27.63 101.24,106.35 100.63,57.07 100.67,57.22 100.84,68.19 101.23,96.05 101.10,83.54 101.12,82.34 100.80,55.20 101.20,84.26 101.02,67.78 101.05,67.73 101.13,71.30 101.16,70.89 101.26,76.70 101.64,104.23 100.92,45.20 101.86,116.55 100.76,27.20 101.59,90.04 101.39,72.29 101.51,78.95 101.49,74.85 101.48,71.44 101.58,77.26 101.81,92.59 101.38,56.50 101.79,86.62 101.42,54.42 101.84,85.01 101.82,81.03 101.64,64.13 101.60,59.00 102.03,90.38 101.78,68.46 101.66,55.74 102.17,94.58 101.98,76.66 101.88,66.24 102.19,88.39 102.28,92.95 102.09,75.85 101.91,58.43 102.07,68.95 102.13,71.49 102.19,73.27 102.42,89.61 102.06,58.03 102.18,65.43 102.50,88.59 102.16,58.67 102.50,83.58 102.35,69.04 102.41,70.72 102.69,91.72 102.19,47.76 102.76,91.92 102.51,68.92 102.72,83.57 102.52,65.19 102.63,71.60 102.72,75.81 102.53,58.15 102.82,79.25 102.85,79.25 103.15,101.08 102.65,57.59 102.90,75.13 102.99,80.51 102.98,76.67 102.82,61.12 102.90,65.63 102.86,59.36 103.05,72.90 103.26,87.76 103.03,65.61 103.34,89.03 102.98,56.17 103.22,73.71 103.35,81.64 103.21,67.56 103.33,74.78 103.40,77.96 103.14,54.28 103.10,47.56 103.56,83.81 103.29,58.79 103.55,77.72 103.57,77.39 103.24,46.32 103.79,90.61 103.53,65.84 103.69,76.35 103.59,65.27 103.75,76.81 103.65,65.64 103.97,89.90 103.71,65.19 103.64,56.68 104.09,92.37 103.89,72.91 103.69,52.81 104.03,79.40 103.87,63.17 104.37,103.29 103.85,55.79 104.24,87.00 104.18,78.98 103.97,58.36 104.04,61.75 104.47,96.09 104.25,74.35 104.25,71.13 104.26,69.53 104.48,85.74 103.81,24.94 104.48,80.39 104.50,79.77 104.48,75.23 104.13,42.32 104.39,62.42 104.76,92.01 104.48,64.66 104.46,60.04 104.87,93.16 104.64,70.36 104.47,52.60 104.91,88.34 104.75,71.85 104.92,83.73 104.80,71.10 104.70,58.80 105.03,85.31 105.01,80.61 104.91,69.83 104.69,47.30 105.11,81.38 105.11,78.93 105.00,65.99 105.04,67.53 105.14,73.05 105.38,92.24 105.01,55.87 105.26,75.75 105.12,60.48 105.50,91.88 105.07,50.44 105.47,83.74 105.54,86.85 105.10,44.85 105.59,85.72 105.37,63.63 105.53,75.45 105.37,57.97 105.49,66.19 105.50,63.73 105.60,70.61 105.89,93.29 105.76,78.84 105.56,57.78 105.86,82.66 105.48,45.04 105.81,72.21 106.00,87.22 105.88,72.96 105.95,76.41 105.94,73.11 105.91,67.38 105.88,62.22 105.90,60.88 106.24,89.48 106.07,70.57 105.88,50.63 106.14,71.12 106.20,73.86 106.47,96.40 106.18,66.47 106.17,62.68 106.36,77.67 106.05,46.16 106.47,81.85 106.35,68.18 106.55,83.41 106.48,74.39 106.47,70.86 106.52,72.72 106.51,68.98 106.46,60.89 106.59,70.23 106.53,61.72 106.92,95.45 106.57,60.09 106.69,68.10 106.59,55.90 106.90,81.70 106.76,65.70 106.98,83.58 106.77,61.20 106.88,68.72 107.02,78.49 106.96,70.67 106.97,67.81 106.96,64.23 107.33,96.30 106.92,54.77 107.26,84.60 106.93,49.72 107.14,66.83 107.33,82.00 107.27,73.49 106.98,42.69 107.38,77.77 107.31,67.98 107.43,76.93 107.37,68.56 107.33,61.38 107.43,68.44 107.59,80.81"/>
<polyline stroke="#ff7f0e" stroke-width="0.60" points="42.56,130.19 42.59,129.77 43.07,141.53 43.33,147.41 43.18,142.05 42.92,133.33 42.79,128.56 42.80,127.54 43.01,131.98 43.51,144.47 43.82,151.52 43.47,140.65 42.95,124.87 42.91,122.39 43.35,133.19 43.81,144.58 43.90,145.98 43.70,139.07 43.47,131.30 43.38,127.51 43.58,131.63 43.96,140.80 44.07,142.64 43.82,134.30 43.71,129.77 43.98,136.08 44.21,141.14 44.10,136.76 43.95,131.24 44.02,131.85 44.23,136.16 44.40,139.59 44.38,137.71 44.19,131.10 44.20,129.92 44.56,138.64 44.84,145.34 44.61,137.33 44.09,121.47 44.10,120.55 45.07,146.30 45.76,164.34 45.02,142.24 43.94,110.36 44.19,116.14 45.14,141.46 45.42,147.94 45.11,137.90 44.80,127.97 44.87,128.47 45.14,134.76 45.27,136.90 45.23,134.52 45.36,136.89 45.57,141.42 45.39,134.87 45.06,124.28 45.23,127.63 45.68,138.97 45.82,141.84 45.65,135.60 45.64,133.95 45.80,137.15 45.72,133.39 45.48,125.35 45.60,127.23 45.99,136.96 46.18,141.04 46.15,138.75 46.09,135.64 45.96,130.67 45.90,127.57 46.03,129.83 46.14,131.63 46.30,135.00 46.65,143.61 46.74,144.79 46.32,131.18 45.95,119.29 46.12,122.92 46.62,135.92 46.99,144.92 46.91,141.41 46.63,132.03 46.56,128.67 46.63,129.22 46.64,128.12 46.84,132.39 47.21,141.84 47.26,141.80 46.95,131.58 46.75,124.36 46.86,126.04 47.12,132.24 47.37,137.99 47.57,142.53 47.49,138.86 47.10,126.02 47.02,122.31 47.39,131.71 47.61,136.58 47.55,133.59 47.64,134.91 47.84,139.27 47.67,132.75 47.34,121.87 47.61,128.35 48.11,141.56 48.01,137.09 47.60,123.91 47.79,128.03 48.40,144.27 48.28,139.49 47.62,118.77 47.72,120.38 48.35,137.48 48.54,141.48 48.43,136.79 48.29,131.48 48.07,123.63 48.00,120.08 48.44,131.71 49.03,147.56 48.99,144.88 48.40,126.24 48.11,116.31 48.42,123.87 48.91,136.87 49.18,143.45 49.06,138.52 48.71,126.96 48.60,122.18 48.87,128.90 49.17,136.32 49.16,134.55 49.01,128.58 49.12,130.38 49.37,136.51 49.34,134.25 49.14,126.79 49.17,126.23 49.43,132.49 49.52,134.02 49.41,129.18 49.51,130.89 49.79,137.66 49.71,133.92 49.41,123.61 49.45,123.13 49.81,132.54 50.08,139.28 50.04,136.58 49.80,127.98 49.69,123.30 49.86,127.09 50.08,132.09 50.23,135.20 50.36,137.69 50.24,132.50 49.91,121.16 49.96,121.27 50.47,135.20 50.72,141.22 50.41,130.62 50.19,122.44 50.42,128.02 50.73,135.98 50.80,136.48 50.53,127.13 50.27,117.80 50.61,126.59 51.23,143.84 51.21,141.72 50.61,122.10 50.41,114.79 50.97,130.38 51.47,143.96 51.21,134.51 50.70,117.75 50.89,122.07 51.47,138.24 51.54,138.86 51.21,127.46 51.08,122.04 51.25,125.80 51.55,133.51 51.70,136.47 51.54,130.26 51.37,123.52 51.46,124.81 51.71,131.02 51.83,133.42 51.82,131.50 51.83,130.49 51.83,128.84 51.75,124.95 51.80,125.23 52.04,131.15 52.17,133.43 52.07,129.17 52.02,126.09 52.22,130.77 52.42,135.41 52.20,127.04 51.91,116.71 52.22,124.81 52.78,140.77 52.79,139.53 52.32,123.70 52.18,117.66 52.51,126.45 52.77,133.17 52.80,132.63 52.80,131.11 52.75,128.13 52.66,123.69 52.74,124.79 52.97,130.63 53.06,131.95 53.03,129.39 53.03,127.95 53.04,126.76 53.10,127.16 53.21,128.98 53.21,127.61 53.17,125.06 53.31,127.85 53.57,134.54 53.62,134.46 53.34,124.19 53.15,116.91 53.40,123.19 53.81,134.42 53.95,137.38 53.74,129.40 53.47,119.40 53.60,122.04 54.03,134.10 54.12,135.48 53.79,123.72 53.63,117.18 53.91,124.29 54.28,134.44 54.39,136.39 54.23,130.07 54.03,122.34 53.99,119.42 54.20,124.66 54.47,131.62 54.49,130.60 54.41,126.62 54.48,127.44 54.58,129.26 54.57,127.29 54.47,122.65 54.50,122.00 54.78,129.59 55.04,136.13 54.88,129.58 54.53,117.10 54.60,117.81 55.07,131.08 55.34,138.17 55.20,132.36 54.83,119.06 54.61,110.44 54.98,120.71 55.57,138.23 55.69,140.43 55.41,130.00 55.20,121.84 55.05,115.50 55.07,114.53 55.63,131.16 56.04,142.82 55.69,129.84 55.34,117.21 55.54,122.14 55.90,132.21 55.84,128.76 55.55,117.93 55.68,120.48 56.11,132.99 56.23,135.24 56.02,126.85 55.85,120.06 55.88,119.42 56.09,124.62 56.28,129.37 56.26,127.17 56.29,126.56 56.48,131.16 56.36,125.86 56.06,114.57 56.28,120.03 56.83,136.55 56.87,136.18 56.32,116.92 56.19,111.09 56.83,130.50 57.21,141.31 56.77,125.49 56.37,110.82 56.67,118.97 57.13,132.48 57.19,133.01 57.02,125.85 56.95,122.20 57.03,123.02 57.04,122.10 57.08,121.58 57.32,128.20 57.51,132.80 57.31,124.62 57.13,117.15 57.36,123.08 57.60,129.66 57.58,127.21 57.51,123.67 57.53,122.56 57.53,121.07 57.62,122.44 57.88,129.66 58.02,132.53 57.77,122.73 57.58,114.95 57.84,122.06 58.14,130.30 58.07,126.38 57.94,120.77 58.11,124.93 58.25,127.71 58.14,122.57 58.17,122.10 58.35,126.37 58.28,122.50 58.16,117.22 58.45,125.05 58.83,136.45 58.74,131.62 58.16,110.86 57.99,103.53 58.69,125.32 59.24,142.37 58.99,132.23 58.65,119.47 58.66,117.99 58.70,117.89 58.81,120.16 59.14,129.46 59.30,133.30 59.05,123.20 58.84,114.63 59.06,120.66 59.35,128.89 59.28,124.86 59.09,116.82 59.23,120.04 59.60,130.90 59.75,134.55 59.43,122.06 59.00,105.85 59.18,110.30 59.76,128.56 59.93,132.75 59.80,126.53 59.81,125.26 59.82,124.11 59.69,118.23 59.62,114.17 59.79,118.51 60.13,128.37 60.32,133.29 60.20,127.68 59.94,117.18 59.84,112.19 60.07,118.43 60.44,129.39 60.53,130.89 60.28,120.72 60.14,114.44 60.38,121.07 60.66,128.95 60.61,125.74 60.42,117.40 60.46,117.40 60.68,123.22 60.81,126.02 60.86,126.44 60.80,122.57 60.55,112.51 60.56,111.07 61.04,126.23 61.44,138.20 61.26,130.60 60.84,114.23 60.73,109.07 61.09,119.66 61.52,133.19 61.45,129.20 61.04,113.34 61.06,112.34 61.49,125.70 61.70,131.18 61.53,123.72 61.33,115.23 61.38,115.21 61.53,119.07 61.69,122.80 61.94,130.09 62.01,130.74 61.63,115.74 61.38,105.63 61.75,116.95 62.20,130.88 62.24,130.75 62.12,125.09 61.92,116.31 61.69,106.46 61.95,114.21 62.58,134.47 62.67,136.21 62.15,116.34 61.87,104.66 62.23,115.70 62.74,131.96 62.82,133.31 62.56,122.47 62.24,109.39 62.27,108.86 62.70,122.42 63.01,131.88 62.91,126.69 62.57,112.88 62.54,110.13 62.94,122.72 63.15,128.51 62.95,119.90 62.89,116.08 63.12,122.66 63.22,124.38 63.03,116.19 62.95,111.76 63.26,121.01 63.58,130.96 63.50,126.20 63.17,112.97 63.08,107.96 63.37,116.82 63.83,131.49 63.98,135.17 63.53,117.38 63.11,100.70 63.42,110.35 63.96,127.91 64.06,129.82 63.89,122.10 63.76,115.75 63.74,113.51 63.90,117.57 64.14,124.55 64.15,122.99 63.98,115.25 64.03,115.57 64.30,123.66 64.40,125.38 64.18,115.89 64.07,110.39 64.34,118.23 64.63,127.30 64.66,126.68 64.44,117.09 64.23,107.75 64.37,110.91 64.81,125.32 65.04,132.17 64.84,123.21 64.59,112.13 64.58,110.19 64.76,114.95 64.95,120.25 65.07,122.93 65.11,122.93 65.14,122.38 65.12,119.90 64.99,113.49 64.95,110.07 65.12,114.83 65.42,123.96 65.59,128.61 65.42,120.80 65.17,109.91 65.29,112.69 65.64,123.59 65.69,124.03 65.43,112.55 65.39,109.47 65.78,121.98 66.03,129.68 65.85,121.39 65.58,109.76 65.60,108.47 65.87,116.85 66.15,125.61 66.22,126.60 66.04,118.12 65.85,109.34 65.94,110.84 66.20,119.03 66.43,125.93 66.51,127.09 66.27,116.27 65.90,100.88 66.11,107.13 66.73,128.43 66.86,131.79 66.55,118.19 66.29,106.94 66.33,106.59 66.62,115.62 67.01,128.50 67.18,133.24 66.86,119.54 66.41,100.95 66.41,99.26 66.90,115.75 67.40,132.94 67.54,136.77 67.23,123.06 66.84,106.83 66.85,105.22 67.10,112.93 67.33,120.13 67.47,123.69 67.50,123.12 67.36,116.06 67.11,104.90 67.15,104.42 67.59,119.42 67.93,130.69 67.82,124.62 67.51,111.15 67.42,105.95 67.70,115.08 68.03,125.72 67.94,120.77 67.67,108.53 67.78,111.06 68.18,124.54 68.28,126.62 67.97,113.03 67.72,101.50 67.93,107.77 68.48,127.26 68.79,137.60 68.35,118.74 67.61,88.64 67.81,94.45 68.75,129.00 69.09,140.25 68.59,119.17 68.14,100.16 68.26,102.92 68.75,119.97 69.09,131.37 69.00,126.08 68.60,109.13 68.39,99.26 68.68,108.37 69.12,123.79 69.23,126.40 69.03,117.00 68.92,110.77 69.00,111.95 69.14,115.62 69.19,116.04 69.18,113.60 69.28,116.05 69.42,119.70 69.35,115.14 69.20,107.46 69.33,110.77 69.71,123.83 69.82,126.45 69.50,111.99 69.28,101.70 69.50,108.47 69.84,119.96 69.97,123.39 69.89,118.35 69.79,112.71 69.81,111.74 69.87,112.17 69.91,111.82 70.01,114.19 70.18,118.88 70.23,119.13 70.13,113.47 70.12,111.27 70.27,115.38 70.29,114.49 70.18,108.24 70.28,110.44 70.63,122.42 70.79,126.86 70.50,113.45 70.24,101.54 70.42,106.69 70.66,114.51 70.79,118.06 70.92,121.21 70.94,120.25 70.86,115.31 70.75,108.94 70.60,101.04 70.72,104.14 71.24,123.18 71.50,131.90 71.19,117.77 70.91,104.68 70.98,105.60 71.10,108.43 71.23,111.76 71.50,120.99 71.65,125.29 71.44,115.06 71.20,103.41 71.29,105.18 71.54,113.52 71.69,117.74 71.78,119.49 71.89,122.03 71.81,116.95 71.48,101.55 71.36,95.05 71.75,109.06 72.25,127.33 72.35,129.77 72.00,113.58 71.64,96.91 71.76,99.95 72.24,117.96 72.49,126.40 72.34,118.08 72.06,104.98 71.99,100.02 72.34,112.71 72.77,128.63 72.67,122.68 72.24,102.93 72.15,97.49 72.49,109.50 72.81,120.85 72.90,122.81 72.85,118.70 72.66,109.09 72.46,98.74 72.56,101.20 72.96,115.75 73.26,126.50 73.26,124.73 73.02,112.56 72.74,99.19 72.73,97.05 73.07,109.29 73.47,124.06 73.56,125.87 73.28,112.16 73.06,101.33 73.27,107.93 73.54,117.54 73.44,111.34 73.24,101.23 73.36,104.27 73.89,124.51 74.16,133.88 73.65,110.72 73.12,86.43 73.48,99.90 74.23,129.22 74.25,128.24 73.73,104.39 73.58,96.46 74.03,113.30 74.36,125.42 74.13,113.91 73.80,97.94 73.92,101.03 74.34,116.91 74.58,125.23 74.41,115.86 74.11,101.58 74.21,103.68 74.52,115.12 74.58,115.58 74.47,109.09 74.47,107.10 74.52,107.45 74.69,112.76 74.96,122.19 74.90,117.74 74.56,101.11 74.51,97.23 74.83,109.07 75.08,117.65 75.11,117.25 75.10,114.77 75.07,111.59 75.00,106.42 74.94,101.92 75.04,104.27 75.35,115.89 75.56,122.94 75.37,112.97 75.10,99.30 75.23,102.85 75.60,117.03 75.68,118.43 75.43,105.77 75.34,99.66 75.59,108.87 75.90,120.18 75.94,119.83 75.68,106.69 75.49,96.34 75.65,101.53 76.02,115.50 76.28,124.99 76.15,117.24 75.69,95.55 75.71,94.17 76.32,119.01 76.53,126.18 76.09,105.15 75.91,94.95 76.32,111.29 76.62,122.33 76.38,109.80 76.16,97.99 76.37,105.34 76.68,117.20 76.72,116.76 76.54,107.12 76.51,103.75 76.65,108.01 76.72,108.83 76.78,109.58 76.93,114.49 76.95,113.01 76.76,102.97 76.74,99.91 77.02,110.21 77.27,119.36 77.23,115.47 77.02,104.52 76.95,98.99 77.10,104.10 77.38,114.31 77.53,119.05 77.40,111.36 77.14,97.78 77.21,98.53 77.64,115.83 77.81,121.61 77.53,106.93 77.40,99.36 77.65,108.63 77.75,110.93 77.64,103.71 77.76,107.27 77.99,115.66 77.96,112.18 77.85,105.31 77.91,105.98 77.98,107.17 77.95,103.79 78.01,104.65 78.30,115.50 78.43,119.30 78.15,104.90 77.98,95.04 78.26,105.42 78.56,117.41 78.50,112.29 78.27,99.78 78.35,101.71 78.71,115.76 78.79,117.68 78.52,103.17 78.42,96.72 78.68,106.45 78.88,113.67 78.87,110.83 78.86,108.34 78.84,105.67 78.78,100.89 78.97,107.36 79.24,117.59 79.13,110.76 78.87,96.49 78.96,98.45 79.35,114.85 79.53,121.13 79.23,104.97 78.97,90.91 79.27,102.70 79.67,119.03 79.65,116.01 79.44,104.42 79.38,99.67 79.49,102.43 79.67,108.80 79.77,111.42 79.72,106.89 79.70,103.92 79.83,107.80 79.93,110.34 79.88,105.98 79.84,102.16 79.96,105.68 80.11,110.45 80.12,108.81 80.07,104.41 80.07,102.60 80.13,103.36 80.27,107.51 80.58,120.35 80.70,123.67 80.15,95.50 79.87,80.33 80.40,103.32 80.76,118.38 80.66,111.58 80.52,102.77 80.60,104.59 80.70,106.82 80.66,103.13 80.71,103.30 80.90,110.16 80.96,111.08 80.80,101.09 80.76,97.02 81.08,110.31 81.31,118.96 81.05,104.60 80.76,88.76 81.03,99.58 81.55,122.27 81.58,121.40 81.10,96.37 80.86,82.60 81.26,99.92 81.79,123.34 81.83,123.07 81.46,102.92 81.20,88.16 81.34,92.91 81.72,109.28 82.00,120.54 81.94,115.34 81.63,98.44 81.52,90.84 81.79,101.74 82.04,111.78 82.04,109.47 82.04,107.19 82.09,107.60 82.01,101.53 81.95,96.27 82.14,103.37 82.38,113.24 82.36,110.06 82.17,98.59 82.20,98.02 82.50,110.56 82.61,113.61 82.35,98.49 82.26,91.85 82.63,107.93 82.87,117.86 82.66,105.09 82.50,95.06 82.70,102.82 82.87,108.75 82.79,103.07 82.79,100.80 82.98,107.86 83.08,110.47 82.95,101.93 82.86,95.38 83.04,102.29 83.29,112.08 83.28,109.72 83.12,99.64 83.08,95.33 83.26,101.81 83.51,112.16 83.59,113.95 83.41,103.03 83.28,93.86 83.39,97.57 83.61,106.39 83.75,111.21 83.72,107.07 83.60,98.79 83.63,98.46 83.78,103.90 83.86,105.62 83.88,104.36 83.94,104.91 84.01,106.13 83.97,102.05 83.91,96.67 84.03,100.61 84.22,108.11 84.24,106.91 84.16,100.73 84.21,100.79 84.37,106.60 84.40,106.22 84.32,99.85 84.32,97.56 84.43,100.90 84.61,107.63 84.76,113.26 84.64,104.95 84.37,88.38 84.45,90.47 84.83,107.88 85.03,115.80 84.88,105.60 84.70,94.10 84.80,97.06 85.01,105.49 85.05,105.19 85.05,103.31 85.11,103.81 85.12,102.00 85.13,100.47 85.21,102.42 85.26,102.47 85.25,99.92 85.32,101.38 85.47,106.79 85.54,107.86 85.44,100.51 85.37,94.64 85.50,98.87 85.66,105.09 85.72,105.74 85.72,103.67 85.73,101.95 85.75,100.65 85.78,99.92 85.83,100.13 85.91,102.01 86.01,105.01 86.03,103.85 85.97,98.23 86.03,99.27 86.22,107.11 86.23,105.04 86.06,93.78 86.10,93.74 86.40,106.95 86.55,112.82 86.41,102.82 86.26,92.64 86.37,96.39 86.59,105.32 86.61,104.14 86.50,96.13 86.58,97.93 86.85,110.26 86.93,112.32 86.67,95.70 86.49,83.50 86.75,95.45 87.13,113.45 87.17,113.45 86.98,100.85 86.87,92.19 86.92,92.70 87.11,100.35 87.29,108.05 87.32,107.00 87.22,99.11 87.19,95.28 87.29,98.40 87.42,103.24 87.49,104.70 87.50,102.55 87.46,97.93 87.41,93.09 87.55,98.32 87.76,107.33 87.79,106.68 87.69,98.80 87.62,92.22 87.71,94.80 87.92,104.08 88.06,109.49 88.01,104.16 87.86,93.48 87.87,91.84 88.09,101.24 88.25,107.67 88.21,103.04 88.10,94.51 88.15,95.07 88.34,102.97 88.41,104.45 88.36,99.53 88.39,98.56 88.44,98.90 88.42,95.31 88.48,96.10 88.68,105.00 88.82,110.22 88.70,101.54 88.56,90.94 88.66,94.05 88.84,101.66 88.90,102.89 88.96,103.74 88.99,102.92 88.84,91.96 88.80,86.95 89.12,103.01 89.46,119.65 89.27,106.67 88.81,77.70 88.91,80.80 89.40,106.57 89.55,112.23 89.40,101.65 89.36,96.41 89.41,97.15 89.46,97.41 89.49,96.77 89.59,99.79 89.70,103.38 89.66,98.74 89.58,91.45 89.72,97.24 89.96,108.77 89.94,105.16 89.76,91.86 89.74,88.41 89.92,96.49 90.12,104.98 90.17,105.76 90.10,99.07 90.04,92.84 90.09,93.38 90.24,99.86 90.39,105.56 90.36,101.29 90.22,90.60 90.25,89.78 90.50,102.28 90.68,109.98 90.54,99.44 90.34,85.23 90.50,92.05 90.89,112.49 90.90,110.50 90.50,84.04 90.41,76.05 90.87,100.73 91.25,120.82 91.13,111.20 90.78,87.87 90.69,79.71 90.91,90.33 91.17,103.43 91.31,109.04 91.27,104.17 91.16,94.72 91.15,91.61 91.23,94.08 91.30,95.30 91.38,97.46 91.52,103.46 91.58,104.23 91.46,94.57 91.36,86.18 91.52,93.12 91.82,108.27 91.84,107.12 91.59,89.52 91.56,84.79 91.86,100.28 92.05,109.42 91.90,97.58 91.71,83.45 91.86,90.00 92.22,109.14 92.33,113.30 92.07,94.79 91.82,76.80 91.97,83.56 92.37,105.28 92.57,114.69 92.48,106.61 92.29,91.93 92.12,79.02 92.07,73.51 92.31,85.46 92.78,111.86 93.03,124.59 92.76,105.40 92.32,75.19 92.33,73.26 92.85,102.41 93.11,116.05 92.93,102.27 92.81,92.05 92.84,91.46 92.79,85.63 92.89,89.38 93.27,109.75 93.34,111.46 93.06,91.70 93.02,86.47 93.18,93.91 93.22,93.44 93.27,93.62 93.44,101.97 93.55,105.70 93.47,98.02 93.32,86.43 93.32,83.38 93.53,93.68 93.77,106.33 93.84,108.30 93.71,97.37 93.53,83.00 93.56,82.40 93.86,98.39 94.08,109.67 94.00,102.00 93.83,88.21 93.84,85.83 94.00,93.44 94.14,99.78 94.19,100.03 94.19,97.20 94.21,95.68 94.23,94.24 94.20,89.77 94.22,88.19 94.38,95.63 94.55,104.01 94.57,102.31 94.47,92.91 94.42,87.15 94.52,90.85 94.65,96.56 94.71,97.37 94.75,97.41 94.77,96.13 94.73,90.31 94.77,90.35 94.95,99.18 95.04,102.08 94.94,92.64 94.84,83.87 94.99,90.83 95.25,104.98 95.26,102.61 95.06,86.57 95.08,84.95 95.34,99.41 95.44,103.39 95.30,90.84 95.22,82.75 95.42,93.26 95.69,108.13 95.66,103.29 95.41,84.04 95.36,78.13 95.62,92.20 95.89,107.41 95.90,105.08 95.71,89.39 95.66,83.67 95.83,92.08 95.94,96.23 95.94,93.88 96.02,95.86 96.08,97.48 96.07,93.33 96.08,91.39 96.12,91.06 96.14,89.89 96.26,95.05 96.38,99.76 96.33,93.61 96.29,88.00 96.43,94.87 96.56,100.36 96.46,90.94 96.38,82.45 96.55,91.09 96.76,102.54 96.75,99.24 96.66,89.93 96.71,90.71 96.82,94.91 96.77,88.83 96.75,84.51 96.97,96.24 97.16,106.82 97.09,98.74 96.90,82.90 96.89,79.37 97.11,91.69 97.34,104.57 97.36,102.48 97.21,89.08 97.15,82.39 97.28,88.43 97.43,95.95 97.51,98.53 97.54,97.40 97.49,91.05 97.45,85.05 97.55,88.85 97.67,94.47 97.71,94.14 97.78,96.46 97.85,98.56 97.75,88.42 97.67,79.29 97.86,89.74 98.10,103.92 98.09,100.39 97.96,87.59 97.94,83.44 98.06,88.89 98.19,95.13 98.27,97.40 98.27,94.34 98.23,88.46 98.26,87.82 98.39,93.81 98.46,95.96 98.42,89.97 98.40,85.65 98.51,90.59 98.66,98.12 98.69,96.94 98.60,87.99 98.60,84.75 98.75,92.62 98.87,97.93 98.81,90.70 98.76,83.60 98.88,89.62 99.06,99.05 99.09,98.62 99.01,89.22 98.93,80.73 99.02,83.68 99.24,96.81 99.39,104.89 99.32,96.88 99.15,80.63 99.12,75.26 99.34,88.60 99.61,105.12 99.64,104.29 99.47,88.48 99.37,77.94 99.49,83.90 99.70,96.40 99.76,97.48 99.67,87.88 99.69,85.97 99.83,93.70 99.91,96.43 99.89,91.19 99.86,86.03 99.90,85.85 99.99,89.66 100.07,92.49 100.12,92.55 100.17,93.04 100.21,92.95 100.20,89.57 100.20,86.15 100.26,87.49 100.39,93.82 100.46,95.77 100.37,86.27 100.32,78.75 100.51,89.87 100.77,106.71 100.77,103.52 100.46,76.42 100.31,61.61 100.57,78.72 100.93,103.02 101.03,107.62 100.92,95.18 100.85,87.01 100.86,84.12 100.88,82.44 101.00,88.52 101.08,91.88 101.10,89.37 101.17,92.19 101.24,94.41 101.17,85.61 101.15,80.09 101.32,90.44 101.50,101.13 101.47,95.12 101.31,79.83 101.32,76.71 101.54,90.67 101.71,101.01 101.69,95.88 101.60,85.67 101.59,81.63 101.68,85.20 101.79,90.94 101.87,93.50 101.88,90.77 101.87,87.25 101.93,88.14 101.99,89.99 102.01,87.55 102.03,86.12 102.15,92.09 102.20,93.07 102.12,83.46 102.15,82.09 102.32,92.10 102.41,96.56 102.39,91.14 102.34,83.66 102.36,82.25 102.49,88.66 102.58,92.91 102.57,88.59 102.58,85.90 102.67,89.96 102.74,91.92 102.73,87.80 102.73,84.02 102.79,85.98 102.88,90.16 102.94,90.81 102.95,88.56 102.99,88.24 103.03,88.20 103.02,83.79 103.03,81.50 103.20,91.74 103.39,104.38 103.36,97.77 103.15,76.72 103.08,67.97 103.28,80.84 103.53,98.07 103.63,102.77 103.51,89.71 103.38,74.78 103.48,79.53 103.70,95.04 103.75,95.59 103.63,81.39 103.62,76.99 103.82,90.93 103.98,100.82 103.91,91.07 103.80,78.03 103.85,78.64 103.98,86.48 104.09,92.33 104.15,93.39 104.13,88.41 104.12,84.09 104.19,86.19 104.24,86.65 104.24,83.40 104.30,84.82 104.39,89.34 104.45,90.39 104.48,89.36 104.52,89.39 104.55,87.88 104.52,82.01 104.50,76.24 104.58,80.03 104.80,95.22 104.95,104.74 104.87,93.87 104.69,74.93 104.68,69.71 104.85,81.40 105.05,95.08 105.13,98.63 105.10,92.35 105.06,85.15 105.04,79.63 105.08,79.19 105.18,84.14 105.23,85.08 105.28,85.48 105.37,90.01 105.43,91.43 105.43,87.70 105.43,84.24 105.44,81.09 105.46,79.65 105.56,84.32 105.70,93.72 105.79,97.74 105.70,85.83 105.57,70.26 105.69,77.01 105.98,99.63 106.02,99.23 105.78,74.29 105.82,73.64 106.08,93.48 106.14,95.58 106.06,84.28 106.03,77.88 106.08,78.34 106.22,86.76 106.39,98.57 106.40,95.86 106.23,76.53 106.17,67.27 106.37,81.98 106.58,97.35 106.59,94.67 106.55,86.55 106.54,82.18 106.53,76.61 106.60,79.47 106.78,92.38 106.81,91.24 106.70,77.23 106.79,81.81 107.00,97.97 106.96,89.86 106.79,69.55 106.88,73.82 107.12,93.30 107.23,99.34 107.15,87.66 107.03,72.42 107.09,73.80 107.30,90.55 107.41,96.66 107.33,84.81 107.26,74.66 107.34,78.42 107.51,90.22 107.62,96.96 107.56,87.07 107.42,69.32 107.48,71.06 107.74,92.56 107.88,102.02 107.77,86.96 107.67,73.31 107.75,77.52 107.86,84.25 107.92,85.26 107.96,85.03 108.00,85.02 108.04,85.21 108.09,85.40 108.11,83.27 108.13,81.85 108.20,84.83 108.25,84.72 108.24,79.71 108.28,79.77 108.40,87.93 108.50,93.43 108.47,86.02 108.39,74.14 108.44,74.76 108.59,85.64 108.69,91.51 108.69,87.35 108.66,80.41 108.69,79.45 108.78,83.43 108.83,84.98 108.87,84.47 108.90,82.90 108.92,80.69 108.96,81.48 109.04,85.35 109.10,86.63 109.11,83.38 109.12,80.76 109.17,81.42 109.22,82.41 109.28,84.00 109.33,85.18 109.34,81.46 109.35,78.32 109.45,84.70 109.58,93.06 109.55,86.47 109.44,69.84 109.48,70.08 109.69,87.94 109.82,96.77 109.79,89.02 109.72,78.08 109.72,72.88 109.78,75.34 109.92,85.64 110.04,94.22 110.03,88.24 109.93,73.16 109.94,69.64 110.12,84.84 110.28,97.28 110.23,88.07 110.13,72.31 110.17,71.69 110.30,81.75 110.41,89.59 110.46,89.89 110.43,82.42 110.39,73.62 110.45,75.17 110.60,86.96 110.67,90.72 110.63,81.08 110.62,75.93 110.70,80.18 110.76,81.55 110.80,81.74 110.90,87.74 110.93,87.09 110.85,73.61 110.87,70.88 111.06,87.99 111.17,95.08 111.07,79.12 111.01,68.09 111.15,78.91 111.30,91.17 111.31,87.79 111.26,77.37 111.27,73.73 111.36,79.74 111.48,88.44 111.51,87.13 111.45,75.67 111.47,73.19 111.60,83.02 111.68,87.06 111.68,82.59 111.70,80.14 111.74,80.50 111.77,78.37 111.79,76.86 111.88,82.53 111.97,88.05 111.97,83.22 111.94,74.45 111.99,75.08 112.10,83.88 112.17,86.63 112.17,81.43 112.17,77.59 112.20,76.13 112.27,78.76 112.38,87.28 112.43,88.52 112.36,74.70 112.33,66.29 112.49,81.20 112.67,96.85 112.62,86.34 112.50,66.73 112.58,71.06 112.76,88.11 112.78,86.29 112.73,75.13 112.81,79.88 112.92,87.13 112.87,77.04 112.85,68.56 113.00,81.89 113.14,94.05 113.09,83.34 113.01,67.91 113.07,70.91 113.23,85.62 113.30,89.25 113.26,78.29 113.27,74.73 113.37,82.41 113.40,80.72 113.39,74.21 113.47,79.40 113.56,85.36 113.56,80.53 113.56,75.55 113.61,76.69 113.69,80.39 113.76,84.92 113.78,81.96 113.75,72.39 113.80,73.36 113.94,86.81 114.01,90.68 113.92,72.93 113.89,64.83 114.06,81.41 114.17,89.92 114.12,78.51 114.11,71.35 114.21,78.51 114.31,86.77 114.33,83.64 114.30,74.59 114.32,71.22 114.40,76.70 114.48,82.47 114.53,83.10 114.58,83.83 114.62,83.54 114.59,74.47 114.57,67.17 114.64,70.42 114.74,77.97 114.84,86.03 114.92,91.59 114.90,83.55 114.78,62.10 114.78,55.21 114.99,79.19 115.22,104.81 115.22,98.26 115.05,69.91 114.98,55.17 115.09,64.49 115.27,83.18 115.40,95.47 115.41,90.48 115.33,74.34 115.30,65.24 115.37,68.55 115.49,79.09 115.60,88.96 115.62,85.59 115.57,72.92 115.60,72.14 115.70,79.96 115.72,76.93 115.72,71.02 115.81,78.62 115.92,87.77 115.93,83.72 115.91,74.67 115.92,70.66 115.96,70.43 116.03,74.02 116.13,83.02 116.21,88.94 116.21,82.76 116.17,71.60 116.20,68.94 116.27,73.41 116.33,75.89 116.40,81.36 116.50,89.03 116.48,81.02 116.41,64.37 116.48,68.00 116.62,83.53 116.66,83.10 116.65,75.81 116.72,78.97 116.77,81.22 116.75,71.88 116.74,64.27 116.84,72.59 116.96,85.36 117.02,87.21 117.03,82.84 117.03,77.16 117.01,68.14 117.02,63.14 117.12,72.34 117.27,87.90 117.33,91.13 117.29,79.01 117.26,68.50 117.30,68.02 117.36,70.54 117.44,77.15 117.55,87.29 117.58,85.90 117.53,72.10 117.52,64.56 117.61,71.24 117.71,81.60 117.77,83.21 117.77,77.95 117.79,74.98 117.83,73.63 117.86,72.30 117.91,74.20 117.97,77.23 118.02,78.71 118.07,79.74 118.10,78.06 118.11,72.97 118.13,70.44 118.19,73.37 118.26,77.47 118.32,80.51 118.35,79.71 118.36,73.55 118.38,70.41 118.44,74.22 118.51,77.70 118.55,77.81 118.58,76.90 118.61,74.73 118.64,72.85 118.69,75.10 118.75,77.97 118.78,75.31 118.79,71.34 118.85,73.81 118.93,80.34 118.97,80.94 118.97,73.34 118.98,68.34 119.04,72.04 119.11,77.24 119.16,78.05 119.19,75.96 119.22,75.27 119.28,77.50 119.31,75.90 119.31,68.31 119.34,67.11 119.45,78.85 119.54,87.98 119.55,81.70 119.51,68.22 119.52,62.76 119.60,70.09 119.70,79.53 119.75,82.22 119.77,78.92 119.78,73.49 119.79,67.12 119.82,65.78 119.91,74.94 120.01,84.55 120.04,82.51 120.01,70.38 120.03,66.00 120.10,71.95 120.16,74.83 120.19,73.76 120.23,72.32 120.27,73.61 120.34,78.44 120.38,78.65 120.38,70.68 120.40,67.73 120.48,75.05 120.54,78.55 120.56,73.09 120.59,71.04 120.64,74.47 120.69,74.84 120.72,73.96 120.77,75.47 120.81,74.68 120.83,71.66 120.87,71.09 120.91,71.79 120.97,74.22 121.03,78.52 121.06,76.07 121.06,68.46 121.11,71.41 121.20,79.34 121.21,74.57"/>
<polyline stroke="#22a447" stroke-width="0.60" points="57.38,141.89 57.38,139.57 57.35,136.70 57.37,135.01 57.46,135.75 57.62,138.73 57.80,142.57 57.96,145.62 58.05,146.66 58.08,145.44 58.07,142.72 58.05,139.82 58.05,137.78 58.09,136.86 58.15,136.57 58.21,136.39 58.27,136.34 58.36,137.02 58.49,139.06 58.65,142.36 58.82,145.84 58.95,147.90 59.00,147.32 58.96,143.91 58.87,138.79 58.79,133.92 58.78,131.24 58.86,131.81 59.03,135.27 59.24,139.98 59.42,143.81 59.52,145.11 59.54,143.55 59.51,140.15 59.47,136.79 59.49,135.15 59.58,135.78 59.70,137.92 59.83,140.08 59.93,141.14 59.99,140.98 60.04,140.44 60.11,140.48 60.20,141.31 60.29,142.14 60.34,141.72 60.34,139.30 60.29,135.29 60.23,131.19 60.23,128.79 60.31,129.27 60.47,132.66 60.69,137.88 60.91,143.29 61.10,147.29 61.21,148.78 61.23,147.44 61.19,143.81 61.12,139.19 61.07,135.13 61.07,132.73 61.11,132.10 61.19,132.43 61.26,132.71 61.33,132.63 61.40,132.78 61.50,134.20 61.66,137.42 61.85,141.82 62.03,145.79 62.15,147.48 62.17,145.78 62.09,140.95 61.97,134.43 61.86,128.26 61.82,124.69 61.92,125.69 62.16,131.78 62.49,141.00 62.79,149.36 62.95,152.85 62.93,149.70 62.76,141.33 62.54,131.32 62.38,123.65 62.38,121.00 62.51,123.54 62.74,129.36 63.00,135.94 63.22,141.39 63.38,144.85 63.48,146.09 63.52,145.13 63.49,142.01 63.42,137.22 63.34,131.94 63.29,127.81 63.31,126.12 63.41,127.25 63.56,130.51 63.74,134.64 63.92,138.45 64.06,141.27 64.17,142.83 64.24,142.93 64.26,141.33 64.23,138.03 64.17,133.60 64.12,129.34 64.11,126.87 64.19,127.36 64.35,130.79 64.56,135.81 64.74,140.18 64.86,141.95 64.88,140.40 64.84,136.52 64.79,132.45 64.80,130.38 64.89,131.32 65.04,134.55 65.21,138.09 65.32,139.90 65.36,138.87 65.33,135.32 65.27,130.77 65.23,127.19 65.27,126.14 65.39,128.11 65.57,132.33 65.77,137.15 65.93,140.77 66.03,142.00 66.06,140.70 66.04,137.66 66.01,134.13 65.99,131.22 66.01,129.56 66.07,129.30 66.16,130.20 66.27,131.79 66.38,133.46 66.48,134.64 66.55,134.95 66.60,134.35 66.63,133.18 66.67,132.08 66.72,131.70 66.81,132.45 66.92,134.20 67.04,136.17 67.13,137.31 67.18,136.78 67.19,134.50 67.16,131.25 67.15,128.35 67.18,127.02 67.27,127.83 67.40,130.50 67.56,134.01 67.71,137.05 67.81,138.47 67.85,137.72 67.85,134.99 67.81,131.23 67.79,127.81 67.80,126.04 67.88,126.63 68.02,129.40 68.19,133.30 68.34,136.78 68.45,138.37 68.49,137.33 68.47,134.03 68.42,129.92 68.41,126.86 68.46,126.19 68.57,128.03 68.72,131.26 68.86,134.20 68.96,135.50 69.00,134.73 69.01,132.50 69.01,130.01 69.03,128.50 69.10,128.70 69.21,130.50 69.34,132.97 69.45,134.77 69.52,134.78 69.53,132.75 69.51,129.51 69.50,126.62 69.54,125.52 69.63,126.74 69.77,129.61 69.92,132.74 70.03,134.74 70.10,134.87 70.12,133.30 70.12,130.88 70.13,128.72 70.17,127.73 70.25,128.30 70.36,130.08 70.48,132.17 70.58,133.45 70.63,133.16 70.65,131.26 70.64,128.50 70.65,126.04 70.68,124.86 70.76,125.32 70.87,127.17 71.00,129.76 71.13,132.37 71.24,134.44 71.33,135.39 71.37,134.61 71.37,131.84 71.34,127.89 71.32,124.83 71.39,124.82 71.53,128.13 71.70,132.40 71.81,134.20 71.81,131.49 71.72,125.21 71.63,118.96 71.63,116.59 71.77,119.51 71.99,125.95 72.23,132.84 72.41,137.77 72.53,139.79 72.57,138.85 72.54,135.26 72.47,129.70 72.38,123.54 72.32,118.52 72.33,116.23 72.43,117.56 72.61,122.17 72.83,128.54 73.03,134.53 73.19,138.26 73.27,138.84 73.27,136.49 73.23,132.24 73.18,127.39 73.14,123.02 73.13,119.98 73.17,118.85 73.26,119.91 73.39,122.96 73.56,127.25 73.73,131.63 73.87,134.89 73.96,136.09 74.00,134.82 73.98,131.33 73.93,126.62 73.89,122.32 73.90,120.07 73.98,120.75 74.12,124.00 74.29,128.34 74.43,131.77 74.52,132.68 74.53,130.58 74.50,126.46 74.46,122.23 74.47,119.91 74.56,121.13 74.75,126.18 74.97,133.05 75.15,137.90 75.20,137.47 75.13,131.58 75.00,123.38 74.92,117.14 74.95,115.63 75.08,118.82 75.27,124.22 75.44,128.59 75.54,129.98 75.57,128.70 75.58,126.45 75.61,124.93 75.67,124.94 75.77,126.37 75.88,128.41 75.97,129.74 76.02,129.13 76.02,126.34 76.00,122.43 75.99,119.33 76.04,118.74 76.16,121.10 76.32,125.31 76.47,129.42 76.59,131.72 76.65,131.54 76.66,129.29 76.65,125.97 76.64,122.68 76.65,120.32 76.69,119.50 76.78,120.45 76.90,122.89 77.03,125.94 77.15,128.46 77.23,129.46 77.28,128.57 77.29,126.24 77.29,123.51 77.31,121.67 77.37,121.58 77.47,123.24 77.59,125.66 77.69,127.33 77.75,127.02 77.76,124.53 77.74,120.94 77.74,118.08 77.79,117.66 77.92,120.30 78.09,125.11 78.26,130.14 78.39,133.25 78.45,133.10 78.44,129.62 78.38,124.06 78.32,118.46 78.30,114.79 78.35,114.18 78.46,116.42 78.61,120.27 78.76,124.20 78.89,127.14 78.99,128.79 79.06,129.36 79.12,129.10 79.16,127.97 79.17,125.77 79.16,122.48 79.14,118.65 79.14,115.45 79.17,114.24 79.27,115.91 79.43,120.24 79.61,125.83 79.78,130.57 79.89,132.59 79.91,131.01 79.88,126.37 79.81,120.40 79.77,115.33 79.78,113.02 79.87,114.10 80.01,117.87 80.17,122.62 80.32,126.59 80.43,128.67 80.49,128.67 80.52,127.11 80.53,124.72 80.54,122.13 80.55,119.73 80.58,117.86 80.62,116.85 80.68,116.97 80.77,118.28 80.88,120.42 80.99,122.68 81.09,124.30 81.16,124.81 81.21,124.28 81.25,123.22 81.30,122.24 81.35,121.66 81.40,121.33 81.46,120.84 81.50,119.96 81.54,118.92 81.59,118.39 81.67,119.02 81.77,120.88 81.88,123.23 81.98,124.88 82.04,124.76 82.06,122.58 82.05,119.06 82.04,115.66 82.07,113.90 82.15,114.71 82.28,118.01 82.43,122.67 82.58,126.94 82.69,129.06 82.73,127.94 82.70,123.70 82.65,117.84 82.61,112.72 82.63,110.55 82.72,112.33 82.89,117.32 83.07,123.44 83.23,128.20 83.33,129.76 83.34,127.60 83.31,122.55 83.24,116.36 83.20,111.00 83.20,108.07 83.27,108.37 83.40,111.80 83.58,117.48 83.77,124.04 83.95,129.90 84.08,133.53 84.15,133.72 84.14,129.89 84.05,122.59 83.94,113.67 83.85,105.92 83.84,102.05 83.93,103.49 84.11,109.60 84.34,117.94 84.55,125.47 84.69,129.85 84.76,130.26 84.77,127.41 84.75,122.95 84.72,118.59 84.72,115.47 84.76,113.87 84.81,113.48 84.88,113.75 84.95,114.26 85.03,114.96 85.11,116.10 85.21,118.04 85.33,120.83 85.45,123.92 85.55,126.15 85.62,126.22 85.62,123.43 85.59,118.24 85.53,112.27 85.51,107.64 85.54,105.93 85.63,107.55 85.77,111.71 85.94,116.96 86.09,121.89 86.22,125.55 86.32,127.47 86.38,127.45 86.41,125.55 86.40,122.12 86.39,117.86 86.37,113.68 86.37,110.34 86.39,108.20 86.44,107.31 86.51,107.68 86.60,109.51 86.73,113.09 86.89,118.27 87.06,124.08 87.21,128.70 87.30,130.22 87.31,127.63 87.26,121.55 87.18,114.08 87.13,107.88 87.14,104.92 87.22,105.73 87.35,109.41 87.50,114.32 87.64,118.91 87.76,122.06 87.85,123.20 87.89,122.20 87.90,119.45 87.90,115.79 87.90,112.39 87.92,110.41 87.99,110.55 88.09,112.69 88.21,115.93 88.32,118.86 88.41,120.22 88.46,119.50 88.48,117.15 88.49,114.31 88.51,112.19 88.56,111.55 88.64,112.46 88.74,114.45 88.84,116.79 88.93,118.61 89.00,119.14 89.05,117.96 89.06,115.31 89.07,112.18 89.09,109.93 89.14,109.61 89.24,111.38 89.35,114.44 89.47,117.46 89.56,119.28 89.62,119.40 89.66,118.00 89.68,115.72 89.70,113.29 89.73,111.36 89.78,110.41 89.84,110.67 89.93,112.03 90.02,114.04 90.12,116.01 90.20,117.27 90.27,117.38 90.31,116.34 90.34,114.54 90.37,112.65 90.41,111.36 90.46,111.07 90.54,111.70 90.62,112.75 90.69,113.57 90.76,113.77 90.81,113.47 90.87,113.22 90.94,113.57 91.02,114.73 91.11,116.33 91.19,117.56 91.25,117.59 91.28,115.95 91.29,112.84 91.29,109.18 91.31,106.31 91.35,105.43 91.44,106.94 91.55,110.21 91.68,113.91 91.79,116.69 91.87,117.82 91.92,117.44 91.96,116.32 92.01,115.31 92.06,114.77 92.11,114.38 92.16,113.37 92.18,111.23 92.20,108.22 92.21,105.56 92.26,104.82 92.36,106.92 92.49,111.36 92.63,116.20 92.74,119.08 92.79,118.47 92.79,114.66 92.77,109.62 92.77,106.03 92.83,105.79 92.94,109.01 93.09,114.07 93.22,118.53 93.31,120.33 93.34,118.69 93.34,114.33 93.31,108.93 93.30,104.35 93.32,101.90 93.38,101.96 93.48,104.25 93.60,108.09 93.73,112.59 93.86,116.77 93.97,119.55 94.04,120.06 94.07,118.12 94.07,114.36 94.06,110.14 94.07,106.81 94.10,105.17 94.17,105.12 94.24,106.04 94.32,107.33 94.41,108.90 94.50,110.94 94.60,113.43 94.70,115.71 94.77,116.61 94.81,115.17 94.81,111.39 94.80,106.52 94.80,102.62 94.84,101.53 94.94,103.84 95.07,108.57 95.21,113.77 95.33,117.52 95.41,118.76 95.45,117.46 95.46,114.30 95.46,110.24 95.46,106.20 95.47,103.04 95.51,101.41 95.58,101.64 95.67,103.58 95.77,106.71 95.89,110.29 96.00,113.58 96.09,115.91 96.17,116.80 96.22,115.98 96.24,113.55 96.25,110.06 96.25,106.41 96.28,103.69 96.32,102.75 96.40,103.85 96.50,106.42 96.60,109.22 96.69,110.93 96.74,110.82 96.78,109.20 96.81,107.21 96.86,106.24 96.93,107.24 97.04,110.10 97.15,113.49 97.23,115.45 97.28,114.51 97.29,110.59 97.27,105.17 97.26,100.54 97.30,98.77 97.38,100.67 97.51,105.31 97.65,110.47 97.75,113.85 97.82,114.26 97.85,111.94 97.86,108.23 97.87,104.87 97.91,103.31 97.98,104.11 98.08,106.69 98.18,109.57 98.26,111.16 98.31,110.60 98.34,108.21 98.36,105.30 98.39,103.49 98.46,103.77 98.55,105.96 98.65,108.83 98.74,110.74 98.79,110.58 98.82,108.29 98.84,104.95 98.86,102.22 98.91,101.57 99.00,103.56 99.11,107.61 99.24,112.13 99.34,115.10 99.39,114.92 99.40,111.14 99.37,104.72 99.34,97.65 99.33,92.57 99.38,92.08 99.52,97.34 99.71,106.86 99.90,116.78 100.04,122.95 100.10,123.17 100.09,117.99 100.05,109.83 100.00,101.64 99.98,96.02 100.02,94.36 100.11,96.44 100.23,100.77 100.35,105.42 100.45,108.87 100.53,110.45 100.59,110.19 100.63,108.63 100.66,106.52 100.70,104.63 100.74,103.36 100.79,102.79 100.85,102.84 100.92,103.44 100.99,104.45 101.07,105.58 101.14,106.43 101.20,106.67 101.26,106.24 101.31,105.44 101.36,104.68 101.41,104.29 101.47,104.35 101.54,104.75 101.60,105.28 101.67,105.71 101.73,105.84 101.79,105.50 101.84,104.57 101.88,103.09 101.91,101.34 101.96,99.93 102.01,99.67 102.09,101.33 102.20,105.11 102.32,110.01 102.43,113.83 102.49,114.22 102.50,110.32 102.48,103.66 102.46,97.47 102.49,94.60 102.56,95.87 102.67,99.66 102.78,103.29 102.86,104.95 102.91,104.68 102.96,103.74 103.02,103.39 103.09,104.15 103.16,105.69 103.24,107.13 103.31,107.53 103.35,106.35 103.38,103.86 103.40,100.96 103.44,98.69 103.49,97.70 103.55,98.06 103.63,99.44 103.71,101.47 103.80,103.89 103.89,106.37 103.97,108.28 104.03,108.74 104.07,107.16 104.09,103.83 104.11,99.99 104.14,97.34 104.19,97.02 104.28,99.01 104.37,102.18 104.47,105.05 104.54,106.53 104.60,106.28 104.64,104.56 104.67,101.89 104.69,98.98 104.73,96.67 104.78,95.88 104.85,97.26 104.95,100.70 105.06,105.23 105.17,109.20 105.25,110.98 105.29,109.62 105.30,105.29 105.29,99.39 105.29,94.08 105.32,91.45 105.39,92.53 105.50,96.68 105.62,101.92 105.72,105.96 105.80,107.39 105.84,106.31 105.88,104.05 105.92,102.22 105.97,101.64 106.03,101.92 106.09,101.95 106.14,100.89 106.18,98.82 106.21,96.72 106.26,95.73 106.33,96.40 106.41,98.39 106.49,100.79 106.57,102.70 106.64,103.69 106.70,103.82 106.76,103.49 106.82,103.08 106.87,102.70 106.92,102.13 106.97,101.03 107.01,99.27 107.05,97.17 107.09,95.51 107.15,95.17 107.22,96.56 107.31,99.19 107.39,101.83 107.47,103.18 107.52,102.59 107.56,100.47 107.59,98.12 107.64,97.04 107.71,98.09 107.80,100.94 107.89,104.24 107.97,106.19 108.02,105.47 108.04,101.96 108.05,96.87 108.06,92.23 108.10,89.89 108.16,90.67 108.26,94.05 108.36,98.54 108.46,102.55 108.54,104.98 108.61,105.57 108.66,104.70 108.70,103.04 108.74,101.21 108.79,99.57 108.83,98.14 108.87,96.69 108.92,94.93 108.96,92.93 109.00,91.27 109.05,90.97 109.13,92.93 109.23,97.29 109.35,103.03 109.46,108.24 109.54,110.93 109.59,109.81 109.60,104.95 109.59,97.73 109.58,90.42 109.59,85.46 109.64,84.56 109.73,88.03 109.85,94.56 109.98,101.67 110.09,106.68 110.16,107.87 110.19,105.18 110.20,100.12 110.21,95.01 110.24,91.83 110.30,91.47 110.37,93.53 110.46,96.82 110.55,99.98 110.63,101.98 110.69,102.41 110.74,101.40 110.78,99.39 110.82,96.82 110.85,94.01 110.88,91.24 110.92,89.14 110.98,88.65 111.05,90.65 111.15,95.18 111.26,101.06 111.37,106.21 111.45,108.59 111.49,107.18 111.51,102.49 111.51,96.20 111.52,90.51 111.55,87.16 111.61,86.92 111.69,89.42 111.78,93.44 111.88,97.46 111.96,100.23 112.02,101.15 112.08,100.40 112.12,98.67 112.16,96.81 112.21,95.49 112.26,94.92 112.32,94.90 112.38,94.97 112.44,94.70 112.49,94.02 112.54,93.29 112.60,93.19 112.67,94.26 112.74,96.48 112.82,99.12 112.90,100.98 112.96,100.97 112.99,98.72 113.02,94.64 113.04,89.97 113.07,86.65 113.13,86.54 113.22,90.16 113.32,95.86 113.42,100.57 113.49,101.77 113.52,99.07 113.54,94.31 113.57,90.53 113.63,90.21 113.71,93.54 113.81,98.34 113.89,101.64 113.95,101.68 113.98,98.65 114.01,94.02 114.03,89.64 114.07,87.10 114.13,87.28 114.21,89.89 114.29,93.78 114.38,97.50 114.46,99.76 114.52,99.82 114.56,97.86 114.59,94.88 114.63,92.30 114.68,91.16 114.74,91.61 114.81,93.07 114.88,94.65 114.95,95.65 115.01,95.76 115.06,95.01 115.11,93.61 115.15,91.91 115.20,90.34 115.25,89.46 115.31,89.74 115.38,91.39 115.46,94.13 115.54,97.15 115.61,99.35 115.67,99.78 115.72,97.99 115.75,94.26 115.77,89.65 115.80,85.71 115.85,83.94 115.92,85.14 116.00,89.07 116.10,94.49 116.19,99.63 116.27,102.76 116.33,102.68 116.36,99.09 116.38,92.91 116.39,86.17 116.41,81.44 116.47,80.73 116.55,84.47 116.65,91.11 116.76,97.85 116.84,101.96 116.90,102.00 116.93,98.35 116.95,92.86 116.98,87.91 117.02,85.36 117.08,85.87 117.16,88.72 117.24,92.33 117.31,94.98 117.38,95.61 117.43,94.19 117.47,91.63 117.51,89.29 117.56,88.31 117.62,89.12 117.69,91.17 117.77,93.29 117.83,94.33 117.88,93.76 117.93,91.95 117.97,89.92 118.02,88.71 118.08,88.80 118.15,89.98 118.22,91.58 118.28,92.90 118.34,93.52 118.40,93.39 118.45,92.63 118.50,91.35 118.55,89.63 118.59,87.63 118.64,85.88 118.70,85.25 118.76,86.57 118.84,89.96 118.92,94.45 119.00,98.16 119.07,99.21 119.11,96.71 119.14,91.37 119.16,85.28 119.19,81.00 119.24,80.35 119.32,83.49 119.41,89.01 119.50,94.59 119.58,98.16 119.64,98.59 119.68,96.02 119.71,91.60 119.74,87.01 119.78,83.81 119.83,82.85 119.90,84.01 119.97,86.47 120.04,89.19 120.11,91.43 120.18,92.92 120.24,93.62 120.29,93.55 120.35,92.67 120.40,91.01 120.44,88.85 120.49,86.62 120.53,84.79 120.59,83.80 120.65,84.14 120.71,86.19 120.79,89.80 120.87,93.99 120.94,97.22 121.00,98.07 121.05,95.99 121.08,91.43 121.11,85.62 121.14,80.37 121.19,77.61 121.25,78.48 121.33,82.50 121.41,87.78 121.49,92.20 121.56,94.44 121.61,94.39 121.66,92.68 121.71,90.32 121.76,88.29 121.81,87.16 121.86,86.80 121.92,86.63 121.97,86.16 122.03,85.33 122.08,84.53 122.14,84.24 122.20,84.76 122.26,86.03 122.32,87.81 122.39,89.73 122.45,91.40 122.52,92.40 122.57,92.39 122.62,91.28 122.67,89.33 122.72,87.13 122.77,85.23 122.82,83.91 122.87,83.13 122.93,82.76 122.99,82.83 123.05,83.65 123.11,85.51 123.18,88.27 123.25,91.14 123.31,92.98 123.37,92.82 123.42,90.52 123.46,86.96 123.50,83.62 123.55,81.79 123.61,81.91 123.67,83.53 123.74,85.74 123.80,87.77 123.87,89.12 123.93,89.54 123.98,88.91 124.03,87.35 124.08,85.38 124.13,83.82 124.19,83.42 124.25,84.39 124.31,86.21 124.37,87.88 124.43,88.40 124.48,87.30 124.53,84.91 124.58,82.38 124.63,81.15 124.69,82.21 124.76,85.47 124.83,89.59 124.90,92.59 124.96,92.84 125.00,89.88 125.04,84.81 125.08,79.86 125.13,77.33 125.19,78.36 125.26,82.32 125.33,87.13 125.40,90.36 125.46,90.49 125.51,87.62 125.55,83.35 125.59,79.93 125.65,79.18 125.71,81.61 125.78,86.17 125.86,90.84 125.92,93.52 125.98,92.99 126.02,89.31 126.06,83.68 126.10,77.95 126.14,74.00 126.20,73.10 126.26,75.64 126.33,80.88 126.41,87.22 126.48,92.72 126.55,95.74 126.60,95.51 126.65,92.20 126.69,86.81 126.73,80.79 126.77,75.43 126.82,71.89 126.87,71.44 126.94,75.17 127.02,82.85 127.10,92.13 127.17,99.05 127.23,100.15 127.28,94.67 127.31,85.15 127.34,76.00 127.38,71.35 127.44,72.79 127.51,78.46 127.59,84.68 127.65,88.57 127.71,89.26 127.76,87.49 127.81,84.37 127.86,80.86 127.91,77.87 127.96,76.56 128.02,77.85 128.09,81.65 128.15,86.61 128.22,90.64 128.28,91.87 128.33,89.60 128.37,84.66 128.42,79.00 128.47,74.77 128.52,73.49 128.58,75.42 128.65,79.67 128.71,84.64 128.78,88.53 128.83,89.76 128.89,87.71 128.93,83.25 128.98,78.58 129.03,76.15 129.09,77.22 129.15,81.24 129.22,86.21 129.28,89.67 129.34,89.76 129.39,86.07 129.43,79.98 129.48,74.01 129.53,70.72 129.59,71.54 129.65,76.38 129.72,83.66 129.79,90.75 129.85,94.74 129.90,93.79 129.95,88.11 129.99,79.90 130.04,72.35 130.09,68.23 130.15,68.77 130.21,73.31 130.27,79.77 130.34,85.64 130.40,88.99 130.46,89.26 130.51,87.23 130.56,84.35 130.61,82.03 130.67,81.18 130.72,81.52 130.78,81.51 130.83,79.37 130.88,74.69 130.93,69.16 130.99,65.59 131.04,66.11 131.10,71.13 131.17,79.28 131.24,88.12 131.30,95.12 131.36,98.50 131.41,97.58 131.46,92.78 131.51,85.42 131.56,77.28 131.61,70.18 131.66,65.62 131.72,64.51 131.77,66.72 131.83,71.13 131.89,76.13 131.95,80.42 132.01,83.47 132.07,85.38 132.12,86.45 132.18,86.84 132.24,86.37 132.29,84.71 132.34,81.84 132.40,78.18 132.45,74.53 132.51,71.75 132.56,70.46 132.62,70.90 132.67,72.98 132.73,76.35 132.79,80.51 132.85,84.66 132.90,87.80 132.96,88.92 133.01,87.42 133.07,83.49 133.12,78.21 133.18,73.24 133.23,70.20 133.29,70.03 133.34,72.58 133.40,76.65 133.46,80.57 133.51,82.93 133.57,83.26 133.62,81.83 133.68,79.50 133.73,77.43 133.79,76.62 133.84,77.16 133.90,78.12 133.96,78.39 134.01,77.63 134.07,76.56 134.12,76.15 134.18,76.81 134.23,78.07 134.29,79.04 134.34,79.25 134.40,78.92 134.45,78.45 134.51,78.02 134.57,77.50 134.62,76.72 134.68,75.77 134.73,75.07 134.79,75.24 134.84,76.56 134.90,78.59 134.95,80.25 135.01,80.54 135.06,79.41"/>
<polyline stroke="#ec4346" stroke-width="0.85" points="72.09,146.26 72.22,146.65 72.34,146.90 72.47,147.02 72.59,147.03 72.71,146.97 72.83,146.86 72.95,146.73 73.06,146.59 73.18,146.46 73.30,146.32 73.42,146.16 73.53,145.97 73.65,145.71 73.76,145.36 73.87,144.90 73.98,144.32 74.08,143.63 74.18,142.86 74.28,142.04 74.39,141.20 74.49,140.41 74.59,139.72 74.70,139.17 74.81,138.81 74.93,138.68 75.05,138.77 75.18,139.11 75.32,139.66 75.45,140.41 75.59,141.31 75.74,142.31 75.88,143.37 76.03,144.43 76.17,145.44 76.31,146.33 76.45,147.05 76.58,147.56 76.71,147.81 76.83,147.75 76.94,147.36 77.04,146.63 77.13,145.54 77.22,144.12 77.30,142.39 77.38,140.42 77.45,138.27 77.52,136.05 77.59,133.87 77.67,131.87 77.75,130.16 77.84,128.89 77.94,128.18 78.06,128.11 78.20,128.75 78.35,130.12 78.51,132.19 78.69,134.88 78.88,138.07 79.08,141.58 79.28,145.23 79.48,148.77 79.67,152.00 79.84,154.69 80.00,156.64 80.14,157.28 80.25,157.18 80.36,156.81 80.44,154.82 80.49,151.88 80.53,148.14 80.56,143.79 80.58,139.07 80.59,134.23 80.61,129.57 80.64,125.34 80.69,121.80 80.77,120.12 80.89,120.02 81.01,119.92 81.13,119.83 81.24,119.73 81.41,121.90 81.60,125.27 81.80,129.16 82.00,133.34 82.21,137.55 82.41,141.55 82.60,145.14 82.78,148.12 82.95,150.37 83.09,151.80 83.22,152.37 83.33,152.11 83.43,151.08 83.51,149.37 83.59,147.13 83.65,144.49 83.71,141.64 83.77,138.72 83.83,135.88 83.90,133.26 83.97,130.95 84.05,129.03 84.14,127.54 84.24,126.49 84.34,125.88 84.46,125.65 84.58,125.76 84.71,126.16 84.84,126.79 84.97,127.59 85.11,128.52 85.24,129.54 85.38,130.62 85.52,131.73 85.66,132.86 85.80,133.98 85.94,135.08 86.08,136.13 86.21,137.11 86.35,137.99 86.48,138.85 86.61,139.61 86.74,140.19 86.87,140.54 86.98,140.60 87.10,140.34 87.20,139.72 87.30,138.74 87.39,137.40 87.48,135.75 87.56,133.84 87.64,131.75 87.72,129.57 87.79,127.43 87.87,125.44 87.96,123.72 88.05,122.38 88.16,121.51 88.27,121.17 88.39,121.41 88.52,122.22 88.66,123.57 88.81,125.39 88.97,127.57 89.13,130.00 89.29,132.52 89.45,135.11 89.62,137.73 89.78,140.21 89.93,142.37 90.08,144.04 90.21,145.06 90.33,145.30 90.43,144.67 90.52,143.12 90.60,140.68 90.66,137.40 90.70,133.44 90.74,128.99 90.78,124.31 90.82,119.68 90.86,115.40 90.92,111.81 91.03,111.71 91.15,111.62 91.26,111.52 91.38,111.43 91.49,111.33 91.65,113.66 91.84,117.89 92.03,122.70 92.23,127.79 92.43,132.80 92.63,137.41 92.81,141.34 92.97,144.36 93.12,146.18 93.23,146.08 93.34,145.99 93.45,145.45 93.53,143.17 93.59,140.19 93.65,136.72 93.71,133.03 93.76,129.33 93.82,125.86 93.89,122.79 93.97,120.25 94.05,118.35 94.15,117.11 94.26,116.51 94.37,116.50 94.49,117.00 94.62,117.90 94.76,119.09 94.90,120.47 95.03,121.92 95.17,123.36 95.31,124.73 95.44,125.97 95.57,127.04 95.70,127.93 95.83,128.63 95.95,129.15 96.07,129.48 96.19,129.66 96.30,129.67 96.41,129.54 96.53,129.28 96.63,128.87 96.74,128.35 96.85,127.69 96.95,126.93 97.05,126.06 97.15,125.10 97.25,124.07 97.35,123.02 97.45,121.96 97.55,120.94 97.65,120.01 97.75,119.23 97.86,118.63 97.97,118.28 98.08,118.20 98.20,118.42 98.32,118.96 98.45,119.81 98.58,120.95 98.71,122.33 98.85,123.87 98.99,125.50 99.12,127.10 99.26,128.57 99.39,129.80 99.51,130.68 99.63,131.12 99.75,131.06 99.85,130.46 99.95,129.32 100.04,127.68 100.13,125.63 100.21,123.26 100.29,120.73 100.37,118.18 100.45,115.80 100.54,113.72 100.63,112.10 100.73,111.04 100.84,110.61 100.96,110.82 101.08,111.66 101.21,113.03 101.35,114.84 101.49,116.94 101.63,119.16 101.78,121.36 101.92,123.37 102.05,125.07 102.18,126.36 102.30,127.18 102.42,127.52 102.53,127.38 102.64,126.82 102.74,125.91 102.84,124.75 102.93,123.45 103.03,122.11 103.13,120.83 103.23,119.69 103.33,118.75 103.43,118.04 103.54,117.58 103.65,117.34 103.76,117.29 103.88,117.37 103.99,117.54 104.11,117.71 104.22,117.83 104.33,117.85 104.45,117.74 104.56,117.47 104.66,117.04 104.77,116.48 104.88,115.82 104.98,115.12 105.08,114.44 105.19,113.86 105.30,113.43 105.41,113.21 105.52,113.27 105.64,113.61 105.76,114.24 105.88,115.15 106.01,116.28 106.13,117.58 106.26,118.96 106.39,120.33 106.51,121.58 106.64,122.63 106.76,123.40 106.87,123.80 106.98,123.80 107.09,123.38 107.19,122.55 107.29,121.34 107.39,119.82 107.48,118.06 107.57,116.18 107.67,114.27 107.76,112.45 107.86,110.81 107.95,109.46 108.06,108.47 108.16,107.88 108.27,107.72 108.39,107.99 108.51,108.65 108.63,109.67 108.75,110.96 108.88,112.43 109.01,113.98 109.13,115.51 109.26,116.92 109.38,118.12 109.50,119.03 109.62,119.59 109.73,119.78 109.84,119.58 109.94,119.02 110.05,118.14 110.15,116.99 110.25,115.67 110.34,114.27 110.44,112.87 110.54,111.57 110.64,110.45 110.75,109.59 110.85,109.01 110.96,108.76 111.07,108.81 111.19,109.16 111.30,109.74 111.42,110.51 111.54,111.37 111.66,112.27 111.78,113.11 111.89,113.83 112.01,114.37 112.12,114.69 112.23,114.76 112.34,114.58 112.45,114.18 112.56,113.57 112.66,112.81 112.76,111.95 112.87,111.06 112.97,110.21 113.07,109.44 113.18,108.82 113.29,108.37 113.40,108.14 113.51,108.12 113.62,108.32 113.73,108.70 113.85,109.24 113.96,109.89 114.08,110.60 114.19,111.31 114.31,111.95 114.42,112.49 114.54,112.86 114.65,113.02 114.76,112.97 114.86,112.67 114.97,112.14 115.07,111.41 115.18,110.50 115.28,109.48 115.38,108.39 115.48,107.31 115.59,106.32 115.69,105.46 115.80,104.81 115.90,104.41 116.01,104.28 116.12,104.44 116.24,104.86 116.35,105.54 116.47,106.40 116.58,107.41 116.70,108.48 116.82,109.55 116.93,110.54 117.05,111.38 117.16,112.04 117.27,112.45 117.38,112.60 117.49,112.48 117.60,112.10 117.70,111.46 117.81,110.62 117.91,109.62 118.01,108.49 118.11,107.30 118.22,106.09 118.32,104.92 118.42,103.83 118.52,102.85 118.63,102.03 118.73,101.38 118.84,100.93 118.95,100.68 119.06,100.65 119.17,100.83 119.28,101.22 119.39,101.82 119.50,102.60 119.62,103.54 119.73,104.63 119.85,105.82 119.96,107.08 120.08,108.35 120.20,109.58 120.31,110.71 120.42,111.67 120.54,112.41 120.65,112.85 120.75,112.95 120.86,112.67 120.97,111.99 121.07,110.91 121.17,109.45 121.27,107.66 121.37,105.61 121.46,103.40 121.56,101.14 121.66,98.94 121.76,96.94 121.86,95.26 121.96,93.99 122.07,93.21 122.17,92.98 122.28,93.31 122.40,94.18 122.51,95.53 122.63,97.27 122.74,99.29 122.86,101.45 122.98,103.62 123.10,105.67 123.21,107.47 123.33,108.92 123.44,109.95 123.55,110.53 123.66,110.62 123.76,110.27 123.87,109.51 123.97,108.41 124.07,107.07 124.17,105.57 124.27,104.02 124.38,102.51 124.48,101.11 124.58,99.89 124.69,98.89 124.79,98.13 124.90,97.62 125.00,97.33 125.11,97.24 125.22,97.31 125.33,97.51 125.43,97.78 125.54,98.11 125.65,98.44 125.76,98.77 125.87,99.08 125.98,99.36 126.08,99.61 126.19,99.84 126.30,100.04 126.41,100.24 126.52,100.44 126.62,100.64 126.73,100.84 126.84,101.03 126.95,101.20 127.05,101.34 127.16,101.43 127.27,101.46 127.37,101.40 127.48,101.25 127.59,100.99 127.69,100.64 127.80,100.20 127.90,99.68 128.01,99.11 128.11,98.52 128.22,97.91 128.32,97.32 128.43,96.77 128.54,96.30 128.64,95.93 128.75,95.67 128.85,95.54 128.96,95.54 129.07,95.66 129.17,95.89 129.28,96.19 129.39,96.55 129.49,96.93 129.60,97.30 129.71,97.64 129.82,97.91 129.92,98.11 130.03,98.22 130.13,98.24 130.24,98.18 130.35,98.04 130.45,97.84 130.56,97.60 130.66,97.34 130.77,97.10 130.87,96.87 130.98,96.66 131.09,96.48 131.19,96.33 131.30,96.22 131.40,96.13 131.51,96.05 131.61,95.96 131.72,95.84 131.83,95.67 131.93,95.43 132.04,95.11 132.14,94.71 132.25,94.23 132.35,93.70 132.46,93.13 132.56,92.56 132.67,92.04 132.77,91.61 132.88,91.32 132.99,91.19 133.09,91.26 133.20,91.54 133.30,92.01 133.41,92.67 133.51,93.47 133.62,94.37 133.72,95.30 133.83,96.19 133.93,96.99 134.04,97.63 134.14,98.05 134.25,98.24 134.35,98.16 134.46,97.81 134.56,97.22 134.67,96.41 134.77,95.43 134.88,94.34 134.98,93.20 135.09,92.06 135.20,90.99 135.30,90.05 135.41,89.26 135.51,88.67 135.62,88.29 135.72,88.13 135.83,88.17 135.93,88.40 136.04,88.78 136.14,89.29 136.24,89.88 136.35,90.50 136.45,91.11 136.56,91.68 136.66,92.17 136.77,92.56 136.87,92.83 136.97,92.97 137.08,93.00 137.18,92.91 137.29,92.74 137.39,92.50 137.50,92.23 137.60,91.94 137.71,91.65 137.81,91.40 137.91,91.18 138.02,91.00 138.12,90.86 138.23,90.76 138.33,90.67 138.44,90.59 138.54,90.49 138.64,90.36 138.75,90.19 138.85,89.97 138.96,89.69 139.06,89.36 139.17,88.99 139.27,88.60 139.38,88.19 139.48,87.80 139.59,87.44 139.69,87.14 139.79,86.90 139.90,86.74 140.00,86.67 140.11,86.69 140.21,86.79 140.31,86.94 140.42,87.15 140.52,87.43 140.62,87.76 140.72,88.13 140.83,88.51 140.93,88.87 141.03,89.20 141.13,89.47 141.24,89.66 141.34,89.76 141.44,89.76 141.55,89.65 141.65,89.43 141.76,89.12 141.86,88.71 141.96,88.24 142.07,87.71 142.17,87.14 142.28,86.56 142.38,85.99 142.49,85.42 142.59,84.84 142.70,84.30 142.80,83.80 142.91,83.36 143.01,83.02 143.12,82.78 143.22,82.67 143.32,82.71 143.43,82.90 143.53,83.24 143.63,83.74 143.73,84.37 143.83,85.12 143.93,85.95 144.03,86.82 144.13,87.69 144.23,88.50 144.33,89.20 144.43,89.73 144.53,90.06 144.63,90.13 144.73,89.94 144.84,89.40 144.94,88.60 145.05,87.60 145.16,86.44 145.26,85.19 145.37,83.91 145.48,82.66 145.59,81.52 145.69,80.54 145.80,79.78 145.91,79.26 146.01,79.02 146.11,79.05 146.21,79.33 146.31,79.84 146.41,80.52 146.51,81.33 146.61,82.18 146.70,83.03 146.80,83.80 146.90,84.44 147.00,84.91 147.10,85.18 147.20,85.24 147.31,85.10 147.41,84.76 147.51,84.28 147.62,83.68 147.72,83.02 147.83,82.35 147.93,81.71 148.04,81.15 148.14,80.69 148.25,80.36 148.35,80.16 148.45,80.08 148.55,80.12 148.65,80.24 148.75,80.44 148.86,80.66 148.96,80.88 149.06,81.08"/>
<polyline stroke="#9467bd" stroke-width="0.85" points="86.96,151.65 87.17,151.56 87.38,151.39 87.58,151.15 87.78,150.83 87.99,150.46 88.19,150.03 88.39,149.56 88.59,149.07 88.79,148.56 88.99,148.06 89.19,147.58 89.39,147.07 89.59,146.56 89.79,146.06 89.99,145.59 90.19,145.15 90.39,144.77 90.59,144.47 90.80,144.26 91.00,144.14 91.21,144.12 91.42,144.18 91.63,144.33 91.84,144.53 92.05,144.79 92.26,145.02 92.48,145.21 92.68,145.36 92.89,145.45 93.10,145.49 93.31,145.49 93.51,145.45 93.72,145.38 93.92,145.29 94.13,145.19 94.33,145.09 94.54,144.99 94.74,144.91 94.95,144.84 95.15,144.77 95.36,144.71 95.56,144.64 95.77,144.53 95.97,144.34 96.17,144.09 96.37,143.79 96.57,143.42 96.77,142.99 96.97,142.50 97.16,141.98 97.36,141.43 97.56,140.87 97.75,140.34 97.95,139.85 98.15,139.40 98.35,139.02 98.55,138.68 98.75,138.28 98.95,137.91 99.15,137.60 99.35,137.34 99.55,137.15 99.75,137.04 99.95,137.00 100.16,137.04 100.36,137.14 100.57,137.31 100.77,137.53 100.98,137.80 101.19,138.10 101.40,138.51 101.61,139.01 101.82,139.59 102.03,140.21 102.24,140.82 102.45,141.38 102.65,141.81 102.86,142.08 103.06,142.12 103.26,141.90 103.45,141.40 103.65,140.61 103.84,139.57 104.02,138.30 104.21,136.86 104.39,135.32 104.57,133.77 104.76,132.27 104.94,130.90 105.13,129.72 105.32,128.77 105.51,128.07 105.71,127.62 105.91,127.42 106.11,127.43 106.31,127.63 106.52,127.99 106.73,128.48 106.93,129.07 107.14,129.74 107.35,130.48 107.56,131.27 107.77,132.09 107.97,132.92 108.18,133.74 108.39,134.50 108.60,135.18 108.80,135.73 109.00,136.11 109.20,136.30 109.40,136.27 109.60,136.01 109.79,135.54 109.99,134.88 110.18,134.06 110.37,133.13 110.56,132.13 110.74,131.12 110.93,130.14 111.12,129.21 111.31,128.38 111.51,127.66 111.70,127.05 111.89,126.55 112.09,126.15 112.28,125.79 112.48,125.49 112.67,125.29 112.87,125.18 113.07,125.16 113.27,125.22 113.46,125.29 113.66,125.40 113.86,125.58 114.06,125.82 114.26,126.10 114.46,126.42 114.66,126.76 114.86,127.09 115.06,127.39 115.26,127.65 115.45,127.84 115.65,127.95 115.85,127.99 116.04,127.94 116.24,127.81 116.43,127.61 116.62,127.34 116.82,127.01 117.01,126.62 117.20,126.18 117.40,125.71 117.59,125.21 117.78,124.69 117.97,124.15 118.16,123.61 118.35,123.07 118.55,122.53 118.74,122.00 118.93,121.49 119.12,120.99 119.31,120.53 119.51,120.09 119.70,119.70 119.89,119.34 120.08,119.04 120.28,118.79 120.47,118.60 120.66,118.47 120.86,118.41 121.05,118.43 121.25,118.51 121.44,118.67 121.64,118.88 121.83,119.14 122.03,119.44 122.22,119.76 122.41,120.08 122.61,120.39 122.80,120.67 123.00,120.91 123.19,121.09 123.38,121.19 123.58,121.21 123.77,121.15 123.96,121.00 124.15,120.77 124.34,120.47 124.53,120.10 124.72,119.69 124.91,119.24 125.10,118.76 125.29,118.26 125.48,117.75 125.67,117.23 125.86,116.70 126.05,116.17 126.24,115.64 126.43,115.13 126.62,114.63 126.81,114.17 127.00,113.74 127.19,113.35 127.38,113.02 127.57,112.74 127.77,112.53 127.96,112.40 128.15,112.33 128.34,112.34 128.53,112.42 128.72,112.56 128.91,112.75 129.10,112.99 129.29,113.25 129.48,113.54 129.67,113.83 129.86,114.11 130.05,114.38 130.24,114.61 130.43,114.80 130.62,114.94 130.81,115.02 131.00,115.03 131.19,114.97 131.38,114.81 131.57,114.56 131.75,114.21 131.94,113.76 132.13,113.21 132.32,112.58 132.51,111.88 132.70,111.15 132.88,110.40 133.07,109.69 133.26,109.03 133.45,108.47 133.64,108.02 133.82,107.70 134.01,107.50 134.20,107.42 134.39,107.43 134.58,107.51 134.76,107.64 134.95,107.79 135.14,107.95 135.33,108.10 135.51,108.25 135.70,108.40 135.89,108.55 136.07,108.67 136.26,108.75 136.45,108.79 136.64,108.82 136.82,108.79 137.01,108.70 137.20,108.53 137.38,108.27 137.57,107.91 137.76,107.47 137.94,106.94 138.13,106.35 138.32,105.70 138.50,105.03 138.69,104.37 138.88,103.75 139.06,103.22 139.25,102.82 139.44,102.55 139.62,102.45 139.81,102.51 139.99,102.72 140.18,103.06 140.36,103.48 140.55,103.96 140.73,104.45 140.91,104.91 141.10,105.31 141.28,105.63 141.47,105.85 141.65,105.96 141.83,105.96 142.02,105.83 142.20,105.58 142.39,105.21 142.57,104.71 142.76,104.10 142.95,103.38 143.13,102.57 143.32,101.70 143.51,100.78 143.69,99.86 143.88,98.97 144.07,98.15 144.25,97.44 144.44,96.86 144.63,96.44 144.81,96.20 144.99,96.14 145.18,96.26 145.36,96.56 145.54,97.02 145.72,97.62 145.90,98.34 146.08,99.13 146.26,99.97 146.44,100.81 146.61,101.60 146.79,102.30 146.97,102.88 147.15,103.29 147.33,103.51 147.51,103.53 147.70,103.33 147.88,102.92 148.06,102.32 148.25,101.53 148.44,100.59 148.62,99.53 148.81,98.40 149.00,97.24 149.19,96.09 149.38,95.00 149.56,94.02 149.75,93.17 149.93,92.47 150.12,91.95 150.30,91.61 150.48,91.45 150.66,91.46 150.84,91.63 151.02,91.93 151.20,92.33 151.38,92.82 151.55,93.34 151.73,93.88 151.91,94.42 152.08,94.92 152.26,95.39 152.44,95.80 152.61,96.14 152.79,96.40 152.97,96.56 153.15,96.62 153.33,96.54 153.51,96.33 153.69,95.97 153.87,95.48 154.06,94.86 154.24,94.12 154.43,93.30 154.61,92.40 154.80,91.48 154.99,90.55 155.17,89.65 155.36,88.81 155.54,88.07 155.73,87.47 155.91,87.03 156.09,86.78 156.27,86.74 156.45,86.91 156.62,87.28 156.79,87.84 156.97,88.55 157.14,89.36 157.31,90.20 157.48,91.03 157.65,91.76 157.82,92.35 157.99,92.74 158.17,92.91 158.35,92.84 158.53,92.54 158.71,92.05 158.89,91.40 159.07,90.65 159.26,89.85 159.44,89.06 159.63,88.30 159.81,87.61 159.99,87.01 160.18,86.51 160.36,86.10 160.54,85.69 160.72,85.34 160.90,85.07 161.07,84.88 161.25,84.78 161.43,84.76 161.60,84.81 161.78,84.93 161.95,85.10 162.12,85.30 162.30,85.52 162.47,85.75 162.64,85.95 162.82,86.13 162.99,86.26 163.17,86.33"/>
<polyline stroke="#8c564b" stroke-width="0.85" points="101.93,152.72 102.20,152.23 102.47,151.72 102.73,151.19 103.00,150.65 103.27,150.10 103.54,149.54 103.81,149.00 104.08,148.46 104.35,147.94 104.62,147.45 104.89,146.98 105.15,146.54 105.42,146.15 105.70,145.80 105.97,145.51 106.24,145.28 106.51,145.11 106.78,144.99 107.05,144.91 107.33,144.86 107.60,144.82 107.87,144.81 108.14,144.82 108.42,144.86 108.69,144.95 108.96,145.08 109.24,145.27 109.51,145.50 109.78,145.76 110.06,146.04 110.33,146.30 110.60,146.54 110.88,146.73 111.15,146.87 111.42,146.93 111.69,146.92 111.96,146.83 112.23,146.67 112.49,146.43 112.76,146.13 113.02,145.78 113.29,145.37 113.56,144.94 113.82,144.47 114.08,144.00 114.35,143.51 114.61,143.02 114.88,142.55 115.14,142.08 115.41,141.62 115.67,141.18 115.93,140.75 116.20,140.33 116.46,139.90 116.73,139.48 116.99,139.05 117.25,138.60 117.52,138.14 117.78,137.67 118.04,137.20 118.31,136.74 118.57,136.30 118.83,135.87 119.10,135.47 119.36,135.10 119.62,134.75 119.89,134.43 120.15,134.13 120.41,133.85 120.68,133.60 120.94,133.37 121.20,133.18 121.47,133.02 121.73,132.89 121.99,132.81 122.26,132.76 122.52,132.73 122.78,132.73 123.05,132.74 123.31,132.74 123.57,132.73 123.83,132.69 124.10,132.64 124.36,132.55 124.62,132.44 124.88,132.30 125.14,132.15 125.40,132.00 125.66,131.85 125.92,131.69 126.18,131.54 126.44,131.40 126.70,131.28 126.96,131.16 127.22,131.05 127.48,130.94 127.74,130.83 128.00,130.71 128.26,130.57 128.52,130.41 128.78,130.24 129.04,130.05 129.30,129.84 129.56,129.63 129.81,129.42 130.07,129.20 130.33,128.97 130.59,128.74 130.85,128.50 131.10,128.25 131.36,127.98 131.62,127.68 131.88,127.36 132.13,127.00 132.39,126.61 132.65,126.19 132.90,125.74 133.16,125.27 133.41,124.77 133.67,124.25 133.93,123.71 134.18,123.17 134.44,122.63 134.70,122.10 134.95,121.59 135.21,121.08 135.46,120.60 135.72,120.14 135.97,119.70 136.23,119.30 136.49,118.93 136.74,118.60 137.00,118.30 137.25,118.05 137.50,117.90 137.76,117.95 138.01,118.07 138.27,118.22 138.52,118.40 138.77,118.56 139.03,118.69 139.28,118.76 139.53,118.66 139.78,118.58 140.04,118.50 140.29,118.43 140.54,118.36 140.79,118.30 141.05,118.24 141.30,118.17 141.55,118.10 141.80,118.02 142.05,117.93 142.30,117.83 142.56,117.72 142.81,117.70 143.06,117.73 143.31,117.75 143.56,117.75 143.81,117.72 144.06,117.63 144.31,117.50 144.56,117.30 144.81,117.04 145.06,116.73 145.31,116.37 145.56,115.96 145.81,115.52 146.06,115.06 146.31,114.59 146.56,114.11 146.81,113.63 147.07,113.16 147.32,112.70 147.57,112.25 147.82,111.82 148.07,111.40 148.32,110.98 148.57,110.58 148.82,110.18 149.06,109.79 149.31,109.42 149.56,109.07 149.81,108.74 150.06,108.44 150.31,108.17 150.56,107.92 150.80,107.70 151.05,107.49 151.30,107.31 151.55,107.13 151.79,106.97 152.04,106.81 152.29,106.65 152.53,106.50 152.78,106.35 153.02,106.20 153.27,106.05 153.52,105.90 153.76,105.76 154.01,105.62 154.25,105.48 154.50,105.34 154.74,105.20 154.99,105.05 155.23,104.90 155.48,104.74 155.72,104.57 155.96,104.39 156.21,104.21 156.45,104.03 156.70,103.85 156.94,103.67 157.19,103.51 157.43,103.35 157.67,103.21 157.91,103.09 158.16,102.98 158.40,102.89 158.64,102.81 158.88,102.75 159.13,102.69 159.37,102.64 159.61,102.59 159.85,102.53 160.09,102.46 160.33,102.38 160.57,102.28 160.81,102.16 161.06,102.01 161.30,101.82 161.54,101.60 161.78,101.35 162.02,101.07 162.27,100.76 162.51,100.43 162.75,100.09 162.99,99.74 163.24,99.38 163.48,99.01 163.72,98.63 163.96,98.22 164.21,97.79 164.45,97.33 164.70,96.83 164.94,96.30 165.18,95.73 165.43,95.12 165.67,94.48 165.92,93.82 166.17,93.16 166.41,92.53 166.66,91.93 166.90,91.34 167.14,90.79 167.39,90.35 167.63,89.98 167.87,89.70 168.11,89.49 168.34,89.36 168.58,89.29 168.82,89.26 169.05,89.26 169.29,89.28 169.52,89.31 169.76,89.34 169.99,89.36 170.23,89.37 170.46,89.37 170.70,89.38 170.93,89.40 171.17,89.44 171.40,89.52 171.63,89.64 171.86,89.81 172.09,90.02 172.32,90.26 172.55,90.51 172.78,90.76 173.01,90.97 173.24,91.11 173.47,91.17 173.71,91.12 173.94,90.96 174.18,90.69 174.41,90.32 174.65,89.88 174.89,89.39 175.13,88.89 175.37,88.39 175.61,87.94 175.85,87.62 176.09,87.28 176.32,86.91 176.56,86.52 176.80,86.11 177.04,85.69 177.27,85.24 177.51,84.79"/>
<polyline stroke="#e377c2" stroke-width="0.85" points="117.12,158.60 117.53,158.14 117.93,157.70 118.34,157.28 118.74,156.88 119.15,156.51 119.55,156.16 119.96,155.82 120.36,155.49 120.76,155.17 121.17,154.84 121.57,154.52 121.97,154.19 122.37,153.85 122.78,153.51 123.18,153.17 123.58,152.81 123.98,152.44 124.38,152.04 124.78,151.62 125.18,151.17 125.58,150.71 125.98,150.23 126.37,149.74 126.77,149.26 127.17,148.79 127.57,148.34 127.97,147.90 128.36,147.48 128.76,147.07 129.16,146.66 129.55,146.24 129.95,145.80 130.34,145.35 130.74,144.89 131.13,144.43 131.53,143.97 131.92,143.53 132.32,143.08 132.71,142.65 133.11,142.22 133.50,141.79 133.89,141.36 134.28,140.93 134.68,140.48 135.07,140.03 135.46,139.57 135.85,139.10 136.24,138.62 136.64,138.14 137.03,137.68 137.42,137.23 137.81,136.82 138.20,136.48 138.59,136.16 138.98,135.85 139.36,135.55 139.75,135.27 140.14,135.03 140.53,134.81 140.91,134.61 141.30,134.42 141.69,134.25 142.07,134.07 142.46,133.89 142.84,133.70 143.23,133.50 143.61,133.27 144.00,133.03 144.38,132.74 144.77,132.44 145.15,132.14 145.53,131.83 145.92,131.53 146.30,131.22 146.68,130.91 147.06,130.61 147.45,130.31 147.83,130.03 148.21,129.74 148.59,129.45 148.97,129.15 149.35,128.83 149.73,128.50 150.11,128.15 150.49,127.79 150.87,127.40 151.25,127.01 151.63,126.61 152.01,126.21 152.39,125.82 152.76,125.43 153.14,125.06 153.52,124.68 153.90,124.30 154.27,123.92 154.65,123.54 155.03,123.16 155.40,122.77 155.78,122.39 156.16,122.00 156.53,121.61 156.91,121.23 157.28,120.84 157.66,120.46 158.03,119.94 158.41,119.41 158.78,118.86 159.16,118.30 159.53,117.75 159.91,117.20 160.28,116.68 160.66,116.19 161.03,115.75 161.40,115.35 161.77,115.00 162.14,114.67 162.51,114.35 162.88,114.04 163.25,113.73 163.62,113.42 163.99,113.12 164.36,112.85 164.73,112.61 165.09,112.41 165.46,112.23 165.83,112.06 166.19,111.89 166.56,111.71 166.92,111.50 167.29,111.28 167.65,111.03 168.02,110.76 168.38,110.48 168.75,110.19 169.11,109.89 169.48,109.58 169.84,109.28 170.21,108.99 170.57,108.71 170.93,108.45 171.30,108.20 171.66,107.96 172.02,107.72 172.38,107.49 172.74,107.26 173.10,107.03 173.46,106.80 173.82,106.56 174.18,106.32 174.54,106.07 174.90,105.82 175.26,105.57 175.62,105.32 175.98,105.07 176.34,104.82 176.70,104.58 177.05,104.34 177.41,104.11 177.77,103.87 178.12,103.63 178.48,103.38 178.84,103.12 179.19,102.84 179.55,102.55 179.91,102.24 180.26,101.91 180.62,101.57 180.98,101.22 181.33,100.86 181.69,100.51 182.04,100.16 182.40,99.83 182.75,99.50 183.11,99.18 183.46,98.85 183.82,98.53 184.17,98.18 184.52,97.81 184.88,97.41 185.23,97.01 185.59,96.61 185.94,96.23 186.29,95.88 186.64,95.57 186.99,95.29 187.34,95.03 187.69,94.79 188.04,94.54 188.39,94.29 188.74,94.03 189.09,93.76 189.44,93.48 189.79,93.19 190.13,92.89 190.48,92.57 190.83,92.23 191.18,91.85 191.53,91.46 191.88,91.06"/>
<polyline stroke="#7f7f7f" stroke-width="0.80" points="132.46,161.97 133.82,160.73 135.17,159.49 136.52,158.26 137.86,157.03 139.20,155.81 140.53,154.59 141.87,153.37 143.20,152.15 144.52,150.94 145.84,149.73 147.16,148.53 148.47,147.33 149.78,146.13 151.09,144.93 152.40,143.74 153.70,142.55 154.99,141.36 156.29,140.18 157.58,139.00 158.86,137.83 160.14,136.65 161.42,135.48 162.70,134.32 163.97,133.15 165.24,131.99 166.51,130.84 167.77,129.68 169.03,128.53 170.28,127.38 171.53,126.24 172.78,125.10 174.03,123.96 175.27,122.82 176.51,121.69 177.75,120.56 178.98,119.43 180.21,118.31 181.43,117.19 182.66,116.07 183.87,114.95 185.09,113.84 186.30,112.73 187.51,111.63 188.72,110.52 189.92,109.42 191.13,108.32 192.32,107.23 193.52,106.14 194.71,105.05 195.90,103.96 197.08,102.88 198.26,101.80 199.44,100.72 200.62,99.64 201.79,98.57 202.96,97.50 204.13,96.43 205.29,95.37 206.45,94.31"/>
<polyline stroke="#bcbd22" points="147.98,166.21 150.70,163.69 153.41,161.19 156.10,158.70 158.78,156.23 161.44,153.77 164.09,151.32 166.72,148.88 169.34,146.46 171.94,144.06 174.53,141.66 177.10,139.28 179.67,136.91 182.21,134.56 184.74,132.22 187.26,129.89 189.77,127.57 192.26,125.27 194.74,122.98 197.20,120.70 199.66,118.43 202.09,116.18 204.52,113.93 206.93,111.70 209.33,109.48 211.72,107.28 214.09,105.08 216.45,102.90 218.80,100.73 221.14,98.57"/>
<polyline stroke="#17becf" points="163.66,170.95 166.35,168.41 169.03,165.88 171.69,163.36 174.34,160.86 176.97,158.37 179.59,155.90 182.19,153.44 184.78,150.99 187.35,148.56 189.91,146.14 192.46,143.74 194.99,141.35 197.51,138.97 200.01,136.60 202.50,134.25 204.98,131.91 207.44,129.58 209.89,127.27 212.33,124.96 214.75,122.67 217.16,120.40 219.56,118.13 221.94,115.88 224.31,113.64 226.67,111.41 229.02,109.19 231.35,106.99 233.67,104.79 235.98,102.61"/>
</g>
<g fill="none" stroke="#000" stroke-width="0.33" stroke-linecap="square">
<polyline points="15.47,191.16 167.49,240.64"/>
<polyline points="167.49,240.64 248.25,158.05"/>
<polyline points="248.25,158.05 253.36,46.67"/>
<line x1="23.75" y1="194.93" x2="26.35" y2="192.74"/>
<line x1="37.91" y1="199.55" x2="40.48" y2="197.33"/>
<line x1="52.20" y1="204.21" x2="54.76" y2="201.96"/>
<line x1="66.65" y1="208.91" x2="69.18" y2="206.65"/>
<line x1="81.24" y1="213.67" x2="83.75" y2="211.38"/>
<line x1="95.98" y1="218.47" x2="98.47" y2="216.16"/>
<line x1="110.87" y1="223.33" x2="113.34" y2="220.99"/>
<line x1="125.92" y1="228.23" x2="128.36" y2="225.87"/>
<line x1="141.12" y1="233.18" x2="143.54" y2="230.79"/>
<line x1="156.48" y1="238.19" x2="158.88" y2="235.78"/>
<line x1="174.19" y1="235.33" x2="170.95" y2="234.28"/>
<line x1="185.57" y1="223.69" x2="182.33" y2="222.66"/>
<line x1="196.67" y1="212.32" x2="193.43" y2="211.31"/>
<line x1="207.51" y1="201.23" x2="204.26" y2="200.23"/>
<line x1="218.10" y1="190.40" x2="214.85" y2="189.41"/>
<line x1="228.44" y1="179.82" x2="225.18" y2="178.85"/>
<line x1="238.55" y1="169.48" x2="235.28" y2="168.52"/>
<line x1="249.31" y1="152.59" x2="247.24" y2="151.99"/>
<line x1="250.07" y1="136.19" x2="247.99" y2="135.61"/>
<line x1="250.83" y1="119.58" x2="248.75" y2="119.00"/>
<line x1="251.61" y1="102.74" x2="249.52" y2="102.17"/>
<line x1="252.39" y1="85.67" x2="250.30" y2="85.12"/>
<line x1="253.19" y1="68.38" x2="251.10" y2="67.84"/>
<line x1="253.99" y1="50.85" x2="251.90" y2="50.32"/>
</g>
<g font-size="6.30" text-anchor="middle" fill="#111">
<text x="21.97" y="203.54">1</text>
<text x="36.12" y="208.14">2</text>
<text x="50.41" y="212.79">3</text>
<text x="64.84" y="217.49">4</text>
<text x="79.42" y="222.24">5</text>
<text x="94.16" y="227.03">6</text>
<text x="109.04" y="231.88">7</text>
<text x="124.08" y="236.77">8</text>
<text x="139.27" y="241.72">9</text>
<text x="154.63" y="246.72">10</text>
<text x="176.55" y="243.44">0</text>
<text x="187.92" y="231.80">20</text>
<text x="199.03" y="220.44">40</text>
<text x="209.87" y="209.36">60</text>
<text x="220.45" y="198.53">80</text>
<text x="230.79" y="187.96">100</text>
<text x="240.90" y="177.62">120</text>
<text x="254.01" y="155.24">-0.6</text>
<text x="254.76" y="138.84">-0.4</text>
<text x="255.52" y="122.23">-0.2</text>
<text x="256.30" y="105.40">0.0</text>
<text x="257.08" y="88.34">0.2</text>
<text x="257.87" y="71.05">0.4</text>
<text x="258.68" y="53.52">0.6</text>
<text transform="translate(83.70 225.90) rotate(18.0)" y="1.93" font-size="5.85">IMF Number</text>
<text transform="translate(217.50 205.80) rotate(-46.0)" y="1.93" font-size="5.85">time (s)</text>
<text transform="translate(263.40 102.60) rotate(-88.0)" y="1.93" font-size="5.85">Amplitude</text>
</g>
</g>
<g id="panel-b">
<polygon points="288.48,193.03 379.64,116.67 378.37,6.53 282.85,76.20" fill="#f9f9f9" stroke="#ececec" stroke-width="0.40" stroke-linejoin="round"/>
<polygon points="379.64,116.67 525.92,159.16 531.14,45.23 378.37,6.53" fill="#f1f1f1" stroke="#ececec" stroke-width="0.40" stroke-linejoin="round"/>
<polygon points="288.48,193.03 443.54,243.65 525.92,159.16 379.64,116.67" fill="#f5f5f5" stroke="#ececec" stroke-width="0.40" stroke-linejoin="round"/>
<g fill="none" stroke="#b0b0b0" stroke-width="0.32">
<polyline points="297.86,196.10 388.53,119.25 387.64,8.88"/>
<polyline points="314.11,201.40 403.91,123.72 403.67,12.94"/>
<polyline points="330.54,206.76 419.45,128.23 419.88,17.05"/>
<polyline points="347.16,212.19 435.15,132.79 436.27,21.20"/>
<polyline points="363.97,217.67 451.01,137.40 452.83,25.39"/>
<polyline points="380.97,223.22 467.05,142.06 469.58,29.64"/>
<polyline points="398.17,228.84 483.25,146.76 486.51,33.93"/>
<polyline points="415.57,234.52 499.63,151.52 503.64,38.26"/>
<polyline points="433.18,240.27 516.19,156.33 520.95,42.65"/>
<polyline points="449.22,237.83 294.73,187.80 289.42,71.40"/>
<polyline points="460.82,225.93 307.53,177.07 302.87,61.59"/>
<polyline points="472.15,214.31 320.04,166.59 316.00,52.02"/>
<polyline points="483.20,202.97 332.26,156.35 328.82,42.67"/>
<polyline points="494.00,191.90 344.22,146.34 341.34,33.54"/>
<polyline points="504.55,181.08 355.91,136.54 353.58,24.61"/>
<polyline points="514.85,170.51 367.34,126.97 365.53,15.90"/>
<polyline points="287.83,179.68 379.49,104.04 526.52,146.12"/>
<polyline points="286.89,160.08 379.28,85.52 527.39,126.98"/>
<polyline points="285.93,140.17 379.06,66.73 528.28,107.56"/>
<polyline points="284.96,119.94 378.84,47.67 529.19,87.84"/>
<polyline points="283.96,99.39 378.62,28.33 530.11,67.82"/>
</g>
<g fill="none" stroke-width="0.98" stroke-linejoin="round">
<polyline stroke="#1f77b4" stroke-width="0.52" points="301.84,137.44 301.96,139.32 302.03,140.14 303.06,163.82 301.13,116.88 303.18,164.96 301.03,112.53 302.09,137.15 301.93,132.43 302.04,133.98 302.33,140.03 302.95,153.95 302.29,137.35 301.52,117.93 303.09,154.76 302.35,136.20 303.14,154.27 302.52,138.51 302.52,137.48 302.34,132.34 302.95,146.11 302.72,139.52 302.86,142.13 302.48,131.97 303.42,153.67 302.35,127.17 302.18,122.13 304.03,165.80 302.66,131.77 301.50,103.06 304.26,168.62 303.49,149.28 302.76,130.60 302.03,112.24 302.63,125.64 304.33,165.88 302.52,121.32 303.38,141.02 303.54,144.04 304.07,155.99 302.21,110.11 304.09,154.60 302.98,126.89 303.47,137.98 302.54,114.38 303.47,136.08 304.46,159.29 303.33,130.99 303.00,121.90 304.62,160.47 303.47,131.56 303.48,130.83 304.64,158.06 303.92,139.81 304.31,148.40 303.18,120.04 304.27,145.55 303.28,120.48 304.19,141.91 303.74,130.00 304.26,141.66 303.35,118.70 304.40,143.23 304.62,147.79 303.25,113.58 303.88,127.97 303.37,114.66 305.07,155.08 304.58,142.36 304.93,149.98 305.94,173.64 303.91,123.06 303.80,119.59 305.12,150.94 305.61,162.11 303.43,107.76 305.11,148.10 304.65,135.90 304.80,138.56 304.66,134.16 304.46,128.54 305.85,161.58 304.40,125.09 305.06,140.47 304.13,116.75 305.84,157.74 303.76,105.80 305.21,140.41 304.37,118.95 306.21,163.16 304.46,119.26 305.22,137.00 306.10,157.71 304.56,118.89 305.42,139.22 305.67,144.42 305.52,139.85 305.89,148.11 305.19,129.96 305.11,127.03 306.00,148.07 306.10,149.59 304.47,108.49 306.12,148.28 305.49,131.71 305.79,138.35 305.91,140.31 305.23,122.54 306.24,146.78 305.61,130.26 307.01,163.86 306.29,145.14 305.59,126.83 304.55,100.10 306.50,147.65 305.02,109.99 306.43,144.18 305.99,132.22 306.59,146.10 305.98,130.20 305.21,110.07 306.17,133.07 306.99,152.40 306.36,135.77 305.46,112.50 307.08,152.04 305.75,117.78 307.23,153.89 305.85,118.49 305.90,118.80 306.60,135.38 306.73,137.72 306.63,134.32 306.75,136.47 306.68,133.82 305.17,95.07 306.53,128.15 306.96,137.89 307.64,153.94 306.75,130.92 306.59,125.89 307.02,135.67 307.71,152.14 305.40,93.10 305.89,104.56 308.53,170.00 306.71,123.30 305.84,100.47 308.90,176.56 307.40,137.81 307.06,128.33 307.07,127.65 307.73,143.35 306.75,117.73 309.15,177.19 306.53,110.32 307.50,133.87 307.72,138.36 307.32,127.35 307.69,135.80 306.11,95.07 308.29,149.15 307.59,130.43 308.41,150.25 307.92,136.95 307.60,127.91 308.53,150.57 307.78,130.59 308.31,143.18 307.81,129.50 307.79,128.12 307.61,122.52 309.24,162.95 307.64,121.45 307.67,121.21 307.76,122.73 307.93,126.12 309.29,159.54 307.98,125.33 307.91,122.66 308.07,125.87 308.64,139.36 308.38,131.70 308.42,131.85 308.90,143.14 308.25,125.63 308.24,124.57 308.96,141.95 308.03,117.11 310.20,171.61 308.10,117.17 307.91,111.40 308.84,134.14 308.42,122.37 309.16,140.31 309.42,146.15 308.84,130.27 308.18,112.56 310.13,161.47 308.97,130.75 309.72,149.01 308.76,123.49 309.18,133.31 308.83,123.46 309.68,144.35 308.34,109.02 309.62,141.04 309.66,140.93 309.64,139.58 309.74,141.25 309.01,121.56 308.70,112.45 310.02,145.55 309.89,141.28 309.34,126.26 309.79,136.68 309.86,137.76 310.19,145.24 309.29,120.96 309.15,116.55 309.61,127.43 309.72,129.24 309.99,135.40 309.75,128.20 309.64,124.38 310.30,140.54 309.87,128.42 310.24,137.09 309.54,117.86 311.43,166.07 309.66,119.13 310.00,126.95 310.08,128.15 310.16,129.24 310.62,140.10 310.42,134.10 310.37,131.96 310.43,132.48 310.76,140.16 310.36,128.83 310.80,139.09 310.74,136.79 310.20,121.57 310.98,140.90 310.12,117.63 310.14,117.33 310.38,122.63 311.13,141.12 310.37,120.34 311.08,137.95 309.94,107.13 310.79,128.55 310.81,127.93 311.29,139.45 311.05,132.35 310.74,123.17 311.21,134.50 311.19,133.05 310.78,121.38 311.85,148.59 312.02,152.02 311.16,128.47 311.50,136.50 311.05,123.64 311.69,139.55 311.24,126.73 312.22,151.63 310.28,99.64 311.70,135.81 312.00,142.77 311.19,120.68 311.14,118.21 311.58,129.01 311.92,137.03 311.40,122.36 311.51,124.08 312.54,150.25 312.12,138.41 311.72,126.86 311.27,114.08 311.51,119.44 312.29,138.83 311.34,112.84 311.98,128.74 312.36,137.85 312.41,138.22 312.21,132.15 311.95,124.13 311.57,113.26 312.23,129.75 313.09,151.42 312.51,135.05 311.07,96.09 312.51,133.14 312.90,142.49 311.87,114.21 312.04,117.70 312.53,129.74 312.88,138.25 311.99,113.66 313.42,150.69 312.82,133.79 312.96,136.31 311.58,98.69 311.97,108.01 313.41,145.41 312.55,121.52 312.81,127.50 312.60,120.86 312.34,113.03 312.99,129.50 313.24,135.26 313.26,134.76 313.51,140.38 314.04,153.70 312.46,110.41 313.55,138.55 312.98,122.23 313.32,130.38 313.74,140.83 313.19,125.10 313.03,119.78 313.44,129.73 313.89,140.97 313.58,131.49 313.03,115.76 313.59,129.93 313.50,126.52 313.78,132.93 313.26,117.97 313.85,132.90 312.55,97.08 314.68,153.19 314.07,135.90 312.85,102.09 314.36,141.66 314.24,137.56 313.51,116.96 315.15,160.23 313.14,105.02 314.16,131.36 313.96,125.00 314.56,140.22 313.31,105.45 314.40,134.06 314.31,130.71 314.08,123.40 314.77,141.13 314.15,123.37 315.01,145.63 314.49,130.50 313.99,116.03 314.49,128.66 314.19,119.57 315.04,141.51 314.34,121.52 315.10,141.13 314.04,111.38 314.40,120.06 314.44,120.42 314.78,128.60 315.29,141.46 314.52,119.35 315.37,141.68 315.46,143.22 314.34,111.58 314.97,127.85 314.69,119.27 314.87,123.04 315.82,147.88 315.18,129.50 314.91,121.13 315.14,126.58 315.06,123.17 316.34,157.24 315.06,121.21 314.98,118.19 314.72,109.85 316.97,170.63 314.43,99.95 316.38,152.39 316.18,146.03 314.62,102.26 316.32,147.94 315.82,133.04 315.06,111.30 315.43,120.42 315.93,133.19 316.05,135.39 316.20,138.54 315.42,116.11 316.78,152.70 315.91,127.55 314.52,88.40 315.96,127.11 315.66,117.87 316.15,130.30 316.59,141.38 315.25,103.34 317.70,170.02 315.11,97.58 315.85,116.93 316.91,145.36 315.67,109.91 316.52,132.59 316.41,128.55 317.06,145.54 316.04,116.19 316.10,116.87 317.29,148.80 316.33,121.07 316.71,130.64 317.02,138.39 315.90,106.30 316.88,132.40 316.69,126.10 316.40,116.94 317.24,139.38 315.49,89.67 317.68,149.51 317.18,134.81 316.45,113.25 316.94,126.16 317.39,137.49 317.13,129.21 316.57,112.79 317.18,128.82 317.04,123.67 316.94,119.97 317.57,136.53 316.67,110.32 317.50,132.67 317.05,119.09 317.78,138.41 316.92,113.33 317.45,127.26 316.65,103.68 318.01,140.89 316.96,110.22 317.63,128.13 316.68,100.47 317.84,132.01 317.53,122.21 319.22,168.74 317.69,124.84 317.14,108.22 317.85,127.18 317.64,120.38 318.09,131.99 317.57,116.33 318.20,132.90 317.91,123.66 317.45,109.80 317.91,121.80 318.67,142.05 317.99,122.08 318.06,123.05 318.26,127.63 318.21,125.09 318.53,133.21 317.89,114.13 318.77,137.90 318.56,130.99 317.76,107.13 318.06,114.61 318.20,117.58 318.74,131.89 319.13,142.01 318.19,114.44 318.00,107.89 318.90,132.39 319.05,135.70 319.67,152.18 318.96,131.15 317.83,97.76 319.65,148.53 318.76,122.38 318.84,123.43 318.76,120.24 319.44,138.46 318.51,111.03 318.90,121.03 319.14,127.02 319.42,133.96 319.12,124.23 319.75,141.18 318.56,106.20 319.54,133.21 319.63,134.78 319.02,116.18 319.15,118.84 319.34,123.50 319.25,119.88 319.15,115.87 319.91,136.63 319.32,118.78 319.49,122.52 320.16,140.68 318.89,103.20 320.01,134.24 319.52,119.22 319.64,121.58 320.62,148.78 319.30,109.75 319.64,118.63 320.01,128.26 321.01,155.89 318.74,89.52 320.33,134.24 320.21,129.81 320.11,125.84 320.35,131.74 320.00,120.48 319.81,114.17 320.75,140.05 319.87,113.63 320.53,131.66 320.24,122.36 320.40,125.91 320.14,117.34 319.59,100.31 320.67,130.51 320.09,112.77 320.11,112.19 321.46,150.46 318.94,76.36 320.91,132.30 320.63,123.26 320.22,110.14 321.03,132.89 320.94,128.96 320.08,103.07 320.68,119.46 320.93,125.57 319.05,69.92 322.02,155.36 321.60,142.00 320.65,113.37 321.44,135.23 320.59,109.57 321.43,132.84 321.22,125.77 320.91,115.66 321.55,133.30 322.21,151.67 321.07,117.15 320.79,107.90 321.41,124.90 321.01,112.27 320.90,107.87 321.49,124.14 321.72,129.99 321.82,131.68 321.13,110.34 320.97,104.77 321.40,116.23 321.60,121.18 322.28,140.18 321.23,107.99 321.58,117.39 321.41,111.39 322.72,148.70 321.78,120.05 321.63,114.55 321.90,121.47 322.27,131.25 321.39,104.21 322.30,130.03 320.79,84.59 322.62,137.58 321.64,107.45 323.62,165.05 321.51,101.49 322.60,132.62 321.75,106.30 322.69,133.18 321.60,99.76 323.12,143.73 322.93,137.18 321.92,106.09 322.27,115.44 323.03,136.86 322.95,133.46 321.85,99.65 322.33,112.98 322.60,120.03 322.85,126.37 322.75,122.16 321.97,97.90 322.87,123.86 323.48,140.98 323.11,128.86 322.28,102.92 322.76,116.09 323.47,136.19 323.19,126.75 322.34,100.55 323.50,133.90 322.61,106.23 323.90,143.98 323.33,125.69 324.30,153.65 322.76,106.52 323.46,126.46 324.00,141.51 322.78,103.96 323.68,129.82 323.37,119.45 322.71,98.45 323.42,118.89 323.56,122.02 323.86,129.76 324.06,134.96 323.60,119.84 323.65,120.37 322.98,98.97 324.53,144.68 323.76,120.40 323.65,115.94 323.64,114.75 323.46,108.14 323.58,110.59 324.39,134.04 323.00,90.88 324.24,127.35 324.61,137.44 324.32,127.62 324.03,117.86 324.15,120.28 323.73,106.57 324.83,138.74 324.29,121.35 324.64,130.82 323.95,108.86 325.30,148.73 323.71,99.36 324.96,136.16 324.34,116.30 324.23,111.85 324.51,119.42 323.31,81.79 325.80,156.62 325.36,141.92 324.70,120.73 323.93,96.34 325.47,142.20 323.72,87.79 325.20,131.71 324.43,107.09 326.29,162.81 323.98,91.19 324.70,111.97 325.74,142.76 324.13,92.33 324.18,92.87 325.82,141.99 325.55,132.83 325.17,119.98 325.16,118.44 324.67,102.43 324.69,101.84 326.70,162.47 325.32,118.99 325.94,136.93 325.25,114.89 325.07,108.10 326.50,151.12 323.79,66.38 325.32,112.38 325.26,109.71 326.19,137.09 326.19,136.05 325.38,109.81 326.33,138.25 326.25,134.69 325.65,114.87 326.23,131.76 324.60,80.47 326.06,124.45 325.73,112.96 326.66,140.89 325.09,90.90 326.54,134.85 325.59,104.18 326.75,139.08 325.56,101.14 327.03,145.67 325.84,107.55 326.35,122.47 326.78,134.56 325.94,107.39 326.58,126.15 326.39,119.20 325.99,105.76 326.08,107.37 326.87,130.92 325.92,100.25 326.45,115.39 326.52,116.49 326.14,103.73 327.63,149.00 325.77,89.77 327.05,128.66 326.99,125.89 326.76,117.32 326.37,104.13 326.62,110.75 326.89,118.10 327.54,137.47 327.25,127.38 326.52,103.29 326.62,105.29 327.47,130.87 326.59,102.04 327.10,116.85 327.12,116.38 327.60,130.37 326.58,97.16 327.11,112.97 327.00,108.40 327.50,122.80 327.93,135.21 326.37,85.18 327.20,109.99 327.81,128.29 327.90,129.90 327.08,102.80 327.46,113.86 328.21,136.41 327.63,117.11 328.05,129.10 327.27,103.46 327.76,117.55 327.19,98.39 328.52,139.63 327.17,95.54 328.25,128.85 327.78,112.65 328.45,133.02 327.47,100.59 328.22,123.31 327.99,114.80 328.01,114.28 328.00,112.85 327.97,110.95 328.38,122.83 328.54,126.76 327.72,99.49 328.49,122.83 328.56,124.11 327.77,97.62 328.59,122.69 328.25,110.77 329.19,139.81 328.37,112.47 327.72,90.54 328.82,124.33 328.55,114.71 328.98,127.34 328.58,113.54 328.56,111.75 328.88,120.71 328.81,117.28 329.37,134.29 328.77,113.80 328.88,116.20 328.65,107.66 328.90,114.57 329.10,119.80 329.31,125.57 329.15,119.38 328.88,109.26 329.61,131.79 328.98,110.19 329.26,118.15 329.26,116.95 328.69,97.48 329.66,127.86 329.04,106.43 329.03,105.07 329.61,122.65 329.64,122.56 329.87,128.83 328.76,91.62 330.19,137.09 330.01,129.97 328.89,92.44 330.30,137.25 329.78,119.21 329.72,115.90 329.99,123.66 330.25,130.82 329.35,100.52 329.74,112.12 329.75,111.10 330.08,120.80 330.08,119.75 330.09,118.79 329.54,99.92 330.03,114.61 330.40,125.43 329.77,103.93 330.60,129.73 329.82,103.09 330.67,129.82 330.11,110.44 330.35,117.13 331.14,141.79 329.64,91.55 330.55,120.05 330.69,123.51 330.56,118.11 330.31,108.72 330.58,116.56 330.41,109.66 330.66,116.69 330.48,109.91 330.72,116.63 331.21,131.53 330.94,121.27 330.36,101.29 330.79,114.04 330.93,117.75 331.44,133.24 330.90,114.29 331.08,119.21 330.62,102.75 331.42,127.83 331.56,131.34 331.09,114.80 330.88,106.55 330.45,91.26 331.66,130.17 330.77,99.67 331.63,126.68 331.35,116.52 331.74,128.19 330.95,100.82 331.71,124.82 331.04,101.46 331.78,124.86 330.87,93.40 331.80,123.20 331.60,115.29 331.99,127.25 331.00,93.14 331.86,120.65 331.74,115.40 331.75,114.53 331.93,119.53 331.88,116.51 331.64,107.33 332.19,124.53 331.81,110.59 331.08,85.10 332.43,129.21 332.13,117.89 331.72,102.99 332.54,129.32 331.51,93.56 332.40,122.30 332.54,125.62 332.05,108.20 332.63,126.39 331.54,88.80 332.58,122.48 332.06,103.73 333.08,136.87 332.21,106.56 332.22,105.42 332.45,111.99 332.60,115.94 332.35,106.57 332.50,110.32 332.77,118.04 332.60,111.41 332.48,105.97 332.84,117.00 333.52,138.67 332.81,113.74 332.75,110.56 332.57,103.03 333.00,116.56 332.77,107.48 332.80,107.41 333.04,114.44 333.39,125.07 332.69,99.92 333.62,130.39 333.28,117.57 333.09,110.08 333.76,131.68 332.41,84.63 332.91,100.42 333.75,127.76 333.43,115.70 333.89,130.21 332.94,96.49 333.73,122.46 333.80,123.66 333.71,119.17 333.37,106.45 333.67,115.72 333.63,113.01 333.81,117.95 334.07,125.49 333.06,89.84 333.78,113.36 334.09,122.87 334.11,122.15 333.92,114.70 333.55,100.65 333.91,111.92 333.99,113.37 333.73,103.06 334.42,125.80 333.59,95.91 334.30,119.17 334.38,120.69 333.91,103.37 334.21,112.43 334.49,121.06 333.66,91.02 335.07,138.47 333.99,100.17 334.31,109.93 334.69,121.70 334.31,107.62 334.12,99.63 335.06,130.98 334.67,116.34 334.49,109.10 334.41,105.03 334.42,103.91 334.74,113.92 335.15,126.94 334.23,93.70 334.78,111.57 334.52,101.44 335.53,135.33 335.10,119.30 334.76,106.33 334.98,112.55 334.92,109.33 335.36,123.50 335.19,116.40 334.77,100.55 335.86,137.26 335.14,110.99 334.98,103.99 335.01,103.92 335.33,113.79 334.86,96.11 335.55,119.01 335.21,106.00 335.29,107.48 335.58,116.73 335.90,126.68 335.35,106.07 335.56,112.18 335.82,120.15 335.23,98.19 335.95,122.27 336.06,125.02 335.26,95.41 336.08,123.14 335.42,98.55 336.77,145.13 335.90,113.13 335.55,99.61 335.75,105.51 335.98,112.37 335.50,94.23 336.41,125.03 336.18,115.77 335.71,97.95 336.40,121.11 335.96,104.39 335.67,92.85 336.54,122.21 336.27,111.42 336.48,117.72 336.07,102.11 336.13,102.76 336.17,103.12 336.42,110.51 335.92,91.61 336.85,123.46 336.52,110.48 336.69,115.23 336.10,93.17 337.08,126.69 336.78,114.80 337.08,124.33 336.51,102.70 336.44,99.11 337.99,152.99 336.68,105.18 336.95,113.55 336.99,113.75 336.75,103.86 337.19,118.43 336.88,105.92 336.96,107.77 336.66,95.77 337.46,123.19 336.97,104.11 337.32,115.46 337.10,106.50 337.41,116.32 337.67,124.43 336.93,96.66 336.97,96.74 337.91,129.30 337.22,103.41 337.44,110.09 338.18,135.38 336.40,69.95 337.44,106.18 337.47,106.11 337.44,103.50 338.13,127.38 338.32,133.14 337.23,92.42 337.70,107.94 337.89,113.56 337.91,113.01 337.42,94.27 337.82,107.30 338.08,115.47 338.11,115.48 337.11,77.78 338.20,115.98 338.27,117.33 338.54,125.89 338.37,118.64 338.76,131.46 337.09,69.30 338.07,103.93 338.37,113.54 338.23,107.29 338.24,106.27 337.89,92.25 339.13,136.39 338.48,111.34 337.91,89.20 338.57,112.14 338.41,105.01 339.43,140.88 337.89,83.27 338.88,118.39 338.76,112.58 338.94,117.82 338.49,100.12 338.74,108.17 338.86,111.37 338.27,88.18 338.79,106.05 339.13,117.34 339.11,115.50 338.99,109.69 338.79,101.20 339.99,144.03 338.41,84.37 339.23,113.30 338.38,80.75 339.43,118.40 339.34,113.50 339.18,106.41 339.48,116.18 339.40,112.02 339.21,103.85 340.00,131.73 339.00,93.35 339.98,128.31 339.36,104.28 339.59,111.64 339.16,94.07 339.19,93.90 339.44,101.96 340.07,124.10 339.65,107.11 339.64,105.67 339.69,106.14 339.43,95.08 339.80,107.67 339.98,113.06 338.47,55.40 339.98,110.74 339.50,91.45 340.35,121.78 339.80,99.92 340.04,107.61 340.07,107.69 340.48,121.60 339.84,96.36 340.70,127.21 339.78,91.49 339.74,88.50 340.23,105.90 340.43,111.98 340.49,113.03 340.06,95.31 340.90,125.82 340.63,114.40 340.66,114.33 340.11,92.19 341.06,126.48 340.11,89.42 340.38,98.57 340.59,105.20 340.85,113.45 340.54,100.73 341.23,125.21 340.47,95.11 340.12,80.69 340.69,101.01 341.70,137.78 340.61,95.53 341.04,110.50 340.60,92.41 341.11,110.23 341.13,110.04 341.28,114.09 340.93,99.73 341.23,109.65 341.13,104.70 341.28,108.98 341.63,121.15 340.89,91.65 341.25,103.85 341.37,107.14 341.30,103.24 341.06,92.63 341.33,101.79 340.86,82.44 341.65,111.56 341.41,100.74 341.74,112.10 342.23,129.49 341.84,113.23 341.27,90.33 341.78,108.53 341.56,98.59 342.66,139.70 341.43,91.07 341.78,103.10 342.04,111.90 341.94,106.79 342.51,127.19 341.67,93.73 341.58,89.02 342.69,130.44 341.68,90.24 342.48,119.64 341.96,98.25 341.35,73.41 342.50,116.31 342.15,101.68 342.01,94.65 342.47,111.29 341.93,89.11 343.30,140.65 342.14,94.58 343.03,127.56 342.62,110.60 342.24,94.28 342.96,120.96 342.50,101.69 342.11,85.30 342.75,109.05 341.57,61.58 343.49,134.96 342.73,103.91 343.60,136.72 342.36,87.05 343.15,116.48 342.66,96.01 343.01,108.51 343.18,113.69 343.50,124.70 342.42,81.14 343.43,119.63 343.82,133.41 342.69,87.70 343.86,132.43 343.03,98.23 343.76,125.87 342.98,93.78 343.77,123.55 342.12,57.10 343.57,112.75 343.47,107.71 343.42,104.13 343.34,99.89 343.37,99.78 343.61,107.93 343.95,119.84 343.37,95.48 344.13,124.35 343.51,98.35 343.53,97.82 344.13,120.26 343.46,92.37 344.03,113.45 343.07,74.16 344.39,125.20 343.71,96.65 343.85,101.20 344.04,107.35 343.95,102.08 344.17,109.76 344.00,101.38 344.08,103.44 343.95,96.63 343.96,96.01 344.42,112.81 343.85,88.87 344.50,113.44 344.56,114.33 344.30,102.79 344.48,108.44 344.36,102.28 344.39,101.96 344.36,99.58 344.23,93.03 344.53,103.56 344.80,113.05 344.40,95.50 344.74,108.04 344.46,95.42 344.51,95.81 344.96,112.60 344.56,95.18 344.57,94.34 344.95,108.34 345.40,125.04 344.77,98.11 345.15,112.02 344.59,87.99 345.11,107.58 344.99,101.55 344.68,87.48 345.19,106.69 345.22,106.59 345.64,122.31 345.07,97.81 345.34,107.21 345.22,101.15 345.59,114.63 344.95,87.41 345.16,94.53 345.68,114.33 345.75,115.72 345.23,93.38 345.65,108.94 345.26,91.77 345.74,109.74 345.78,110.24 346.15,123.60 345.47,94.62 346.28,126.45 345.67,100.05 345.43,89.02 345.96,108.93 345.83,102.49 345.93,105.10 346.22,115.52 345.83,98.30 345.80,95.78 345.95,100.37 346.38,116.63 345.90,95.55 345.89,93.69 346.22,105.87 345.81,87.52 346.44,112.01 346.66,119.74 346.03,92.41 346.27,100.87 346.20,96.48 346.35,101.48 346.10,89.52 346.52,105.75 346.52,104.23 346.68,109.26 346.52,101.56 346.20,86.64 345.90,72.74 346.85,110.83 346.68,102.42 346.79,105.70 346.55,94.26 346.80,103.14 346.95,107.98 346.09,70.77 347.31,120.20 346.69,93.05 346.91,100.75 346.75,92.70 347.19,109.73 347.27,111.63 346.95,96.58 347.37,112.89 347.07,98.93 347.50,115.37 346.41,68.44 348.26,144.38 347.25,100.56 346.77,79.09 347.60,112.64 347.72,116.14 347.01,84.76 346.96,81.39 347.82,115.91 347.27,91.61 348.06,123.24 347.51,98.97 347.44,94.30 347.63,100.82 347.89,110.68 347.76,103.57 347.82,104.61 347.89,106.31 347.83,102.31 347.91,104.21 347.65,91.92 348.38,121.21 347.56,85.20 347.56,83.89 348.26,111.73 348.20,107.92 348.26,108.91 348.10,100.65 348.39,111.77 347.90,89.44 348.28,104.07 348.01,91.24 348.35,104.42 348.13,93.33 348.05,88.60 348.35,100.06 347.79,74.65 348.58,106.67 348.78,114.08 348.25,89.99 348.42,95.79 348.66,104.51 348.41,92.38 348.59,98.78 348.39,88.62 348.95,111.03 348.97,110.38 348.73,98.74 349.25,119.71 349.71,138.17 348.72,93.89 348.87,99.17 349.04,104.81 348.00,58.47 349.49,121.24 349.19,106.85 348.32,68.14 350.04,140.66 348.67,80.32 349.32,106.78 349.86,128.89 348.55,70.41 349.51,110.83 348.99,86.84 349.33,100.04 349.31,97.59 349.21,91.75 348.86,75.09 349.74,111.90 349.59,103.93 349.26,87.89 349.58,100.66 350.34,132.14 349.10,76.60 349.84,107.44 349.70,99.75 350.31,124.96 349.01,66.89 349.97,107.15 350.03,108.37 349.90,101.37 349.88,98.82 349.93,99.51 349.73,89.53 350.02,100.50 350.23,108.17 350.04,98.72 349.89,90.58 350.90,133.17 350.08,95.65 349.87,85.12 350.38,106.02 349.87,82.26 350.82,122.51 350.26,96.44 350.50,105.41 350.49,103.54 350.08,83.95 350.29,91.86 350.63,105.23 350.57,100.92 350.06,76.90 350.44,92.43 351.41,133.82 350.34,85.09 351.20,121.69 350.80,102.53 350.68,95.56 350.98,107.45 350.48,83.44 351.05,107.68 350.88,98.35 350.87,96.50 350.48,77.40 351.18,107.07 350.63,81.39 351.05,98.70 350.85,87.84 351.53,117.12 351.17,99.38 350.84,82.86 351.37,105.25 351.68,117.86 351.36,101.75 351.23,94.48 351.15,89.36 351.65,110.51 350.90,75.23 351.57,103.63 351.61,104.00 351.90,115.33 351.17,81.40 351.53,95.78 352.00,115.48 351.13,74.63 351.57,93.03 351.52,89.43 351.98,108.70 351.54,87.02 352.46,127.32 351.43,79.01 352.04,105.44 351.85,95.30 351.82,92.09 352.22,108.82 351.95,95.18 352.26,107.71 352.13,100.04 352.27,105.07 351.89,86.29 351.92,85.96 352.90,129.20 352.49,109.01 352.09,89.44 352.18,91.83 352.34,97.51 352.69,112.24 352.24,89.88 352.65,106.96 352.45,96.68 352.48,96.28 352.63,101.45 352.40,89.69 352.79,106.08 352.20,77.48 352.86,106.09 352.99,110.49 352.34,79.22 352.71,94.47 352.86,100.08 352.88,99.10 352.79,93.61 352.75,90.19 353.09,104.19 352.76,87.40 353.25,108.74 352.84,88.03 353.37,111.14 352.88,86.83 353.05,93.14 353.64,118.99 353.04,89.55 354.14,139.22 353.03,85.87 353.35,99.52 353.15,88.38 353.46,101.44 353.15,85.44 353.12,82.64 353.71,108.17 353.30,87.77 353.26,84.09 353.57,97.26 353.47,90.89 353.83,106.10 353.54,90.83 353.98,110.12 353.37,80.05 353.78,97.45 353.75,94.45 354.32,119.66 353.34,72.21 353.67,86.00 353.80,90.82 354.04,100.35 353.73,84.16 354.20,104.54 354.21,103.54 354.00,92.13 354.28,103.70 353.62,70.99 355.01,135.06 353.80,76.26 354.80,122.29 354.29,96.33 354.06,83.93 354.46,101.52 354.10,82.80 354.60,104.93 354.45,96.28 354.44,93.83 354.22,82.16 354.89,112.09 354.55,94.68 354.70,99.97 354.71,98.72 354.91,106.69 354.61,90.79 354.59,88.54 354.50,82.45 354.90,100.06 355.24,114.82 353.84,46.39 355.52,125.11 354.11,55.83 355.33,112.79 354.86,88.71 355.43,114.51 355.24,103.78 355.02,91.32 354.63,71.02 355.42,107.31 355.04,87.51 355.44,105.37 355.22,92.80 355.49,104.23 355.36,96.73 355.36,94.99 355.13,82.04 355.49,97.99 355.68,105.80 355.43,92.07 355.71,103.85 355.31,82.97 355.61,95.71 355.61,93.95 355.53,88.64 355.66,93.35 355.46,82.08 356.13,113.13 355.51,81.29 355.97,101.76 355.61,83.00 356.22,110.75 356.25,110.66 355.82,88.24 356.07,98.86 356.18,102.52 355.99,91.49 355.77,79.00 356.60,118.33 355.95,84.57 355.96,83.62 356.17,92.14 356.28,96.07 356.13,87.19 356.53,105.25 356.58,105.92 356.54,102.42 355.99,73.67 356.26,85.31 357.06,122.86 356.46,91.93 357.06,119.79 356.10,70.52 356.73,100.16 357.04,113.90 356.31,76.09 356.64,90.69 356.51,82.48 356.91,100.80 356.73,90.39 357.07,105.29 356.00,50.77 357.16,106.91 356.60,77.43 357.02,96.22 357.12,99.87 356.70,77.45 357.38,109.67 356.92,85.05 357.15,94.79 357.21,95.96 357.13,90.52 357.09,86.79 357.44,102.44 357.35,96.47 357.30,92.30 357.45,98.27 357.54,100.78 357.23,83.60 357.88,114.74 357.12,74.86 357.62,98.28 357.46,88.54 357.51,89.32 357.63,93.80 357.69,95.32 357.39,78.17 358.02,108.42 357.95,103.51 357.68,87.83 357.63,83.57 357.24,62.47 357.65,81.48 358.12,103.33 357.45,68.07 357.75,81.55 358.67,126.31 357.63,71.82 358.18,98.18 358.20,97.39 358.00,85.43 358.10,88.91 358.76,121.06 357.94,77.36 358.21,89.69 358.50,102.70 358.20,85.50 358.49,98.79 358.54,99.59 358.35,88.32 358.92,115.89 358.11,72.77 358.47,89.22 358.57,92.75 358.51,88.13 358.82,102.06 358.74,96.41 359.04,110.15 358.90,101.04 358.69,88.96 358.46,75.31 358.97,99.74 358.53,75.36 358.90,92.91 359.29,111.04 358.96,92.21 359.17,101.74 359.22,102.52 358.78,78.02 358.96,85.71 359.44,108.86 358.76,71.67 359.13,89.07 359.49,106.16 359.08,83.35 359.57,107.03 359.17,84.41 359.22,85.43 359.91,119.55 358.43,40.47 360.07,124.64 359.21,77.60 359.64,98.77 359.26,76.73 359.92,109.65 359.60,91.28 358.79,47.30 359.71,93.82 359.74,93.57 360.03,107.16 359.58,81.70 360.25,115.04 359.73,85.82 359.39,66.10 359.77,84.78 360.13,101.80 359.74,79.57 359.90,86.43 360.38,109.96 359.86,80.89 360.14,93.87 359.78,73.02 360.65,117.26 359.61,60.40 360.41,100.99 359.38,44.57 361.09,133.61 359.60,52.85 360.63,106.02 360.24,83.23 360.83,113.19 360.55,96.21 360.37,84.70 360.47,88.40 361.11,120.92 360.13,66.54 360.63,91.87 360.63,89.76 360.51,81.81 360.74,92.19 360.85,96.37 361.02,103.65 361.01,101.36 360.61,78.32 360.57,74.31 361.10,101.04 360.74,80.07 361.76,133.05 360.66,71.98 361.20,99.57 361.02,88.05 360.98,83.76 361.06,86.47 361.22,93.58 361.15,87.97 361.21,89.49 361.46,100.90 361.27,89.18 361.26,86.91 361.02,71.85 361.84,114.80 361.26,81.25 361.26,79.75 361.47,89.38 362.18,126.24 361.77,101.97 361.53,87.11 361.49,83.29 361.53,83.16 361.83,98.02 361.67,87.47 361.85,95.39 361.91,96.79 361.47,70.88 361.64,78.69 362.12,103.36 362.06,98.13 361.71,77.26 362.35,110.52 362.10,95.01 361.85,79.38 361.72,70.54 362.40,106.21 362.08,86.64 361.87,72.96 362.75,119.85 362.41,99.24 361.64,54.80 362.36,92.92 362.53,100.83 362.21,81.23 362.28,82.97 362.59,98.65 361.92,59.26 363.25,131.79 362.00,60.12 362.68,95.96 362.60,90.04 362.59,87.77 362.82,98.36 362.65,87.28 362.80,93.67 362.98,102.22 362.49,72.76 363.16,108.28 362.89,91.22 362.37,60.35 363.25,108.25 362.57,68.08 362.90,84.66 363.25,102.51 362.75,72.75 363.38,106.22 363.22,95.38 363.13,88.40 363.19,90.03 363.06,80.91 362.90,69.84 363.68,112.02 363.24,85.44 363.31,87.39 363.31,85.77 363.50,94.54 363.12,70.78 363.71,102.86 363.64,96.96 363.07,62.72 363.39,78.89 363.77,98.63 363.80,98.86 363.52,80.69 363.57,81.45 363.49,75.53 363.47,72.35 364.04,103.10 363.77,85.59 363.90,91.21 363.85,86.41 364.01,93.98 363.99,90.60 363.97,87.67 363.97,85.95 364.41,109.51 363.94,80.45 363.92,77.11 364.14,88.13 364.09,83.36 364.14,84.46 364.22,87.11 364.13,79.94 364.42,94.75 364.57,101.74 363.98,65.83 364.47,92.39 364.79,109.03 364.11,67.15 364.44,84.87 364.86,107.18 364.33,74.61 364.65,91.16 364.55,83.60 364.85,99.13 364.32,65.90 365.21,116.18 364.84,92.94 364.75,85.71 364.78,85.55 364.95,93.47 364.56,68.45 365.25,107.45 364.42,56.86 365.47,116.56 364.78,74.05 364.79,72.30 364.85,74.34 365.61,117.37 365.37,101.22 365.11,83.54 365.22,88.28 365.07,77.44 365.50,100.90 365.04,71.96 365.58,102.12 365.13,73.54 365.05,66.53 365.55,94.65 365.34,79.83 365.58,91.99 365.59,91.05 365.44,79.90 365.54,83.97 366.14,117.93 365.50,77.82 365.26,61.55 365.82,93.16 365.77,88.29 365.86,91.63 365.83,88.07 365.83,85.93 366.37,116.57 365.32,51.01 366.04,92.80 366.14,96.45 365.72,69.27 366.18,95.39 365.83,72.29 366.33,100.50 365.94,75.01 366.50,106.94 365.90,68.57 366.55,105.66 366.12,77.64 366.23,82.58 366.62,104.14 366.18,75.69 366.48,91.42 366.36,82.54 366.31,77.51 366.58,91.81 366.32,74.07 366.80,101.29 366.67,91.60 366.37,71.33 366.91,102.38 366.52,76.50 366.88,96.42 366.67,81.73 366.71,81.75 366.97,95.61 366.88,88.42 367.04,96.08 366.64,69.41 367.46,118.14 367.04,90.15 366.92,81.10 367.09,89.12 367.17,91.99 366.97,77.88 367.15,87.04 367.29,93.39 367.21,86.82 366.98,70.31 367.37,92.52 367.39,91.83 367.29,83.81 367.26,79.82 367.13,69.85 367.80,109.14 367.27,74.23 367.62,94.02 367.41,79.25 367.67,93.23 367.65,89.76 367.67,88.88 367.65,86.11 367.58,79.63 367.23,55.24 368.09,107.53 367.84,89.78 367.80,85.15 367.54,66.59 367.78,79.58 367.81,79.77 367.98,88.52 368.02,88.63 368.19,97.57 367.90,77.03 368.02,82.41 368.20,91.79 368.19,89.01 368.29,93.51 368.00,73.28 368.28,88.99 368.09,74.64 368.49,98.37 368.35,87.26 367.86,53.50 368.48,91.49 368.68,101.77 368.41,82.89 368.67,97.33 368.44,80.50 368.83,103.53 368.27,65.65 368.56,82.07 368.72,90.08 368.67,85.10 368.72,85.79 368.81,89.40 368.54,69.97 369.29,116.76 368.33,52.74 369.27,110.78 368.74,74.74 369.11,96.51 368.99,86.53 368.94,81.44 369.25,99.25 368.82,69.06 369.11,85.83 369.04,79.68 369.08,79.90 369.38,97.58 369.16,81.13 369.26,85.50 369.07,70.78 369.44,92.58 369.47,92.46 369.23,74.96 369.50,90.73 369.25,72.21 369.33,74.96 369.47,82.25 369.75,98.47 369.34,69.41 369.82,98.92 369.57,80.39 369.31,60.75 369.75,87.58 369.44,65.32 369.80,86.80 369.83,87.01 369.64,72.27 369.94,90.01 369.68,70.18 370.39,115.55 369.74,70.34 370.12,93.01 369.94,79.23 370.12,88.88 369.70,58.69 370.20,89.93 370.21,88.48 370.01,73.25 370.69,115.98 369.76,52.02 370.73,114.73 370.07,68.27 370.02,62.77 370.74,108.79 370.43,85.79 370.70,102.13 370.64,95.51 369.98,48.85 370.52,83.28 370.65,89.64 370.48,76.10 370.73,90.87 370.87,98.35 370.65,81.20 370.87,93.94 371.01,101.38 370.58,70.06 370.71,76.58 370.68,72.18 370.88,83.91 371.02,90.87 371.05,90.62 370.89,78.20 370.92,77.97 371.07,85.88 371.14,88.40 370.97,74.66 371.56,112.54 370.73,53.89 370.95,66.70 371.61,109.86 371.01,66.14 371.42,91.80 371.52,96.93 370.90,52.09 371.28,75.98 371.51,89.21 371.11,59.42 371.63,93.38 371.88,108.39 371.06,49.47 371.71,92.14 371.32,63.12 371.98,106.22 371.72,86.16 371.68,81.07 371.62,74.52 371.66,75.49 372.21,111.25 371.11,32.28 372.39,119.34 371.86,80.15 371.50,53.01 371.83,73.47 371.91,77.03 372.11,88.62 372.06,83.18 371.68,54.06 372.57,114.75 372.11,79.72 371.99,69.51 372.17,79.67 372.06,69.84 372.44,93.76 372.23,77.03 372.28,78.20 372.47,89.11 372.32,76.44 372.66,98.15 372.50,84.59 372.25,64.81 372.58,86.19 372.40,71.14 372.64,85.76 372.56,77.96 372.51,71.54 373.08,110.41 372.72,82.36 372.66,75.73 372.42,56.15 373.07,100.26 372.47,55.39 372.88,82.23 372.99,87.53 372.87,76.95 372.91,77.08 373.13,90.91 372.73,59.55 373.13,86.49 373.14,84.54 373.23,88.59 372.99,69.53 373.15,78.23 373.13,74.73 372.94,58.93 373.40,89.92 373.48,93.14 373.39,84.40 373.52,91.31 373.44,83.50 373.56,89.43 373.18,59.46 373.96,114.28 373.07,46.77 373.86,102.51 373.76,92.59 373.63,80.83 373.59,75.37 373.68,79.64 373.81,87.06 373.53,64.33 374.10,103.52 373.84,82.39 373.64,65.25 374.16,100.99 373.91,80.51 373.78,68.48 373.93,77.03 373.97,77.72 373.99,76.72 374.14,85.17 374.07,77.78 374.13,79.98 374.19,81.89 374.04,68.83 374.31,86.37 374.13,70.20 374.37,85.96 374.18,69.52 374.79,112.75 373.85,40.19 374.73,103.59 374.42,77.79 374.52,83.11 374.18,54.81 374.93,108.68 374.50,73.83 374.62,80.52 374.26,51.19 374.67,80.01 375.22,119.31 374.70,76.92 374.72,76.37 374.92,89.23 374.55,58.49 374.94,85.56 375.16,99.99 374.66,59.81 374.97,80.65 375.05,84.39 374.94,73.65 374.97,73.53 375.18,86.75 375.18,84.47 375.04,71.60 375.44,99.93 374.92,57.72 375.50,99.54 375.14,69.40 375.34,82.15 375.25,72.53 375.49,88.60 375.30,71.46 375.68,98.68 374.80,28.23 375.56,84.84 375.44,72.85 375.70,90.32 375.51,73.43 375.69,84.80 375.62,76.77 375.82,89.94 375.64,73.14 376.08,104.85 375.43,51.67 376.25,113.57 375.63,62.49 375.59,57.19 375.92,80.35 376.27,104.97 375.83,68.60 375.93,73.51 375.93,71.12 376.06,79.19 376.11,80.43 376.17,82.30 376.16,79.41 376.08,70.64 376.24,80.39 376.29,82.06 376.30,80.31 376.28,75.83 376.42,84.65 376.21,65.54 376.47,83.45 376.29,66.83 376.65,92.69 376.56,83.02 376.53,78.43 376.54,76.20 376.59,77.61 376.43,62.87 376.99,105.23 376.50,62.82 376.95,96.48 376.74,77.67 376.73,74.29 376.79,76.47 376.68,64.54 377.01,88.69 376.73,63.66 376.95,79.13 377.05,83.98 376.86,66.79 377.16,88.56 376.96,68.95 376.89,60.86 377.19,82.48 377.31,89.91 377.31,87.64 377.21,76.45 377.32,82.76 376.99,53.39 377.35,80.12 377.39,81.44 377.33,73.39 377.17,58.11 377.63,93.32 377.50,79.54 377.26,57.11 377.56,79.58 377.77,94.13 377.42,62.65 377.73,85.58 377.69,79.92 377.72,79.83 377.76,80.10 377.67,70.54 377.68,68.02 378.02,94.23 377.70,64.67 378.13,98.31 377.82,69.03 377.68,54.77 378.06,84.10 378.05,80.85 377.78,55.62 378.16,84.80 378.10,76.98 378.07,71.61 378.40,97.08 378.12,70.30 377.92,51.40 378.30,80.55 378.10,61.01 378.60,100.33 378.32,74.46 378.21,62.53 378.35,71.20 378.82,108.59 378.28,59.98 378.59,83.24 378.61,82.43 378.45,66.55 378.77,91.20 378.50,65.19 378.61,72.17 378.85,89.23 378.68,72.46 379.12,107.78 378.51,52.52 378.88,81.35 379.12,99.30 379.00,86.37 378.79,65.61 378.36,25.57 379.15,91.30 379.20,93.14 379.00,72.27 379.36,101.47 379.03,69.43 379.21,82.84 379.09,69.55 379.05,62.90 379.39,89.84 378.96,49.52 379.48,92.69 379.29,73.06 379.41,81.16 379.53,88.52 379.43,77.51 379.49,79.23 379.24,54.63 379.84,105.06 379.74,93.20 379.19,42.41 379.59,74.91 379.82,92.00 379.49,60.23 379.71,77.07 379.93,93.39 379.54,55.88 380.06,99.29 379.83,76.55 379.71,62.60 380.15,98.94 380.23,103.48 379.84,65.58 379.92,70.04 380.03,77.06 380.11,81.35 380.22,88.26 379.87,54.26 380.11,72.95 380.22,80.18 380.16,71.67 380.49,99.08 380.05,56.07 380.18,65.21 380.33,75.72 380.31,71.09 380.43,78.97 380.42,75.16 380.73,100.31 380.39,67.00 380.45,69.68 380.67,87.03 380.69,85.41 380.55,70.02 380.72,82.38 380.47,56.54 380.83,87.02 380.72,74.29 380.60,60.10 381.01,94.76 380.72,65.41 380.70,60.29 381.09,93.88 380.91,73.84 380.81,62.03 380.95,71.74 381.14,86.43 381.07,76.87 381.10,77.38 381.16,79.65 381.00,62.41 381.25,82.28 381.26,80.44 381.26,77.83 381.12,61.14 381.65,108.43 381.18,61.54 381.30,69.49 381.48,83.17 381.48,80.42 381.33,63.08 381.49,75.21 381.31,55.57 381.74,93.12 381.48,66.01 381.88,100.71 381.32,44.23 381.64,71.45 381.69,73.99 381.66,67.27 381.75,73.21 381.79,73.88 381.85,76.97 381.75,64.39 381.88,74.02 382.08,89.88 381.93,72.43 381.95,71.65 381.85,59.08 382.13,82.76 382.09,75.57 382.23,86.18 381.96,57.25 382.19,76.09 382.18,72.52 382.22,72.89 382.21,68.93 382.50,94.24 382.31,72.83 382.32,70.64 382.28,63.38"/>
<polyline stroke="#ff7f0e" stroke-width="0.60" points="318.53,147.11 318.22,137.11 318.17,134.19 318.61,145.17 318.77,148.45 318.59,141.74 318.67,142.73 318.85,146.49 318.69,140.54 318.59,136.39 318.89,143.46 319.13,148.83 319.04,144.97 318.94,140.60 318.93,138.94 318.97,138.72 319.18,143.20 319.44,149.11 319.41,146.92 319.10,136.66 319.00,132.53 319.46,144.35 319.90,155.25 319.64,146.48 319.14,130.83 319.20,131.19 319.76,145.73 320.05,152.55 319.81,144.30 319.69,139.74 319.91,144.47 319.74,138.23 319.38,126.47 319.86,138.85 320.75,163.01 320.66,158.82 319.71,130.26 319.31,117.48 319.97,134.98 320.80,157.28 320.87,158.01 320.30,140.16 319.93,128.25 320.16,133.27 320.59,144.43 320.88,151.18 320.81,147.91 320.43,135.48 320.23,128.35 320.67,139.62 321.23,154.32 321.08,148.48 320.55,131.89 320.64,132.95 321.15,146.25 321.22,146.95 320.92,136.96 320.92,135.38 321.26,143.93 321.43,147.49 321.23,140.09 321.05,133.53 321.26,138.11 321.57,145.80 321.58,144.78 321.43,138.94 321.46,138.35 321.56,139.96 321.56,138.35 321.64,139.38 321.88,144.77 321.91,144.45 321.71,137.03 321.72,136.01 322.01,143.01 322.04,142.57 321.82,134.53 321.91,135.80 322.33,146.52 322.43,148.22 322.12,137.53 322.01,133.05 322.33,140.81 322.48,143.85 322.22,134.67 322.14,131.15 322.64,144.29 323.00,153.57 322.75,144.82 322.37,132.14 322.34,129.72 322.59,135.77 322.84,141.54 322.94,143.19 323.01,143.88 323.09,144.59 322.99,140.19 322.76,131.88 322.78,131.14 323.13,140.21 323.39,146.27 323.29,141.89 323.14,136.09 323.28,138.70 323.49,143.48 323.36,138.18 323.15,130.40 323.39,136.33 323.74,145.26 323.69,142.29 323.50,135.28 323.59,136.40 323.87,143.16 323.96,144.54 323.75,136.67 323.52,128.39 323.66,131.17 324.17,144.90 324.47,152.54 324.20,143.14 323.78,128.80 323.78,127.46 324.19,138.40 324.49,145.78 324.47,143.82 324.31,137.57 324.20,132.86 324.33,135.09 324.55,140.42 324.55,138.88 324.52,136.70 324.61,137.78 324.69,138.67 324.79,140.33 324.81,139.32 324.65,133.22 324.69,132.92 325.01,141.04 325.15,143.82 325.01,138.03 324.93,134.23 325.07,136.93 325.19,139.06 325.14,136.23 325.14,134.62 325.27,137.30 325.42,140.42 325.50,141.17 325.43,137.70 325.36,133.96 325.47,135.91 325.58,137.68 325.56,135.71 325.63,136.38 325.77,139.13 325.86,140.33 325.86,138.91 325.75,133.97 325.74,132.32 325.98,138.22 326.11,140.59 325.97,134.98 325.99,134.04 326.26,140.90 326.31,140.93 326.07,131.97 326.11,131.63 326.45,140.63 326.47,139.96 326.28,132.50 326.40,134.80 326.61,139.85 326.58,137.26 326.58,135.82 326.69,137.62 326.67,135.51 326.66,133.63 326.77,135.75 326.86,137.14 326.88,136.13 326.91,135.42 327.03,137.90 327.18,141.04 327.11,137.16 326.91,129.52 326.98,130.27 327.24,136.67 327.36,139.12 327.41,139.12 327.45,138.73 327.38,135.21 327.33,132.16 327.45,134.35 327.56,136.22 327.54,134.02 327.58,133.71 327.76,137.88 327.83,138.55 327.77,135.34 327.90,137.79 328.00,139.54 327.73,129.46 327.52,121.41 327.93,132.64 328.48,148.67 328.51,148.11 328.16,135.26 327.89,125.18 327.90,124.16 328.22,132.56 328.62,143.94 328.68,144.09 328.34,131.95 328.21,126.34 328.56,135.86 328.86,143.72 328.57,133.23 328.30,123.08 328.74,135.49 329.14,146.59 328.81,134.78 328.54,124.49 328.89,134.23 329.22,143.24 328.99,134.21 328.81,126.80 329.13,135.68 329.33,140.63 329.11,132.00 329.07,129.09 329.36,136.73 329.47,138.90 329.32,132.61 329.27,129.48 329.45,133.48 329.60,136.85 329.63,136.21 329.63,134.64 329.59,131.99 329.59,130.22 329.77,134.52 329.95,138.96 329.88,134.96 329.73,128.54 329.78,128.79 330.05,135.75 330.26,141.02 330.18,136.95 329.97,128.49 329.95,126.45 330.24,134.31 330.49,140.98 330.35,134.76 330.10,125.07 330.20,126.65 330.67,140.54 331.04,150.93 330.93,145.92 330.31,124.09 329.89,108.90 330.35,122.36 330.99,141.51 331.17,145.97 330.95,137.15 330.67,126.49 330.65,124.25 330.69,123.94 330.74,124.11 331.23,138.38 331.69,152.09 331.45,142.54 330.90,122.86 330.74,116.13 331.25,131.23 331.83,148.85 331.74,144.39 331.24,126.20 331.02,117.49 331.31,125.27 331.78,139.45 332.01,145.22 331.79,136.56 331.46,124.04 331.48,123.18 331.82,132.66 332.02,137.83 331.97,134.64 331.90,130.52 331.91,129.40 332.01,131.04 332.16,134.37 332.26,136.34 332.21,133.05 332.03,125.44 332.01,123.01 332.34,132.42 332.71,143.14 332.68,140.56 332.33,127.55 332.15,119.94 332.39,126.08 332.73,136.02 332.86,138.84 332.79,134.87 332.65,128.63 332.63,126.42 332.80,130.48 332.96,134.18 332.94,131.78 332.89,128.52 333.00,130.58 333.14,133.86 333.19,133.82 333.21,133.07 333.17,129.92 333.00,122.63 333.08,123.80 333.54,137.52 333.78,144.30 333.54,134.44 333.19,120.96 333.18,118.83 333.59,131.23 333.99,143.18 333.82,135.98 333.40,120.03 333.54,123.10 334.05,138.97 334.14,140.15 333.81,127.47 333.64,120.04 333.81,124.08 334.13,133.42 334.36,139.55 334.29,135.70 334.06,126.30 334.05,124.08 334.30,131.23 334.44,134.17 334.28,127.31 334.24,124.26 334.51,131.97 334.74,138.02 334.66,133.67 334.49,126.20 334.43,122.67 334.55,125.06 334.82,132.71 335.02,137.86 334.94,133.68 334.75,125.26 334.71,122.50 334.91,127.55 335.18,135.19 335.30,137.88 335.10,129.27 334.76,115.70 334.95,120.79 335.65,143.45 335.75,145.37 335.09,120.53 334.87,111.29 335.47,130.71 335.90,143.81 335.63,132.99 335.29,119.25 335.44,122.88 335.79,133.34 335.80,132.12 335.68,126.31 335.90,132.30 336.09,137.28 335.78,124.98 335.50,113.29 335.85,123.89 336.40,141.74 336.41,140.46 336.00,124.38 335.89,118.61 336.21,128.25 336.46,135.34 336.34,129.70 336.13,120.49 336.24,122.66 336.58,133.04 336.78,138.29 336.75,135.81 336.47,124.01 336.12,110.21 336.45,119.99 337.22,145.66 337.21,143.65 336.49,116.36 336.40,111.61 337.08,133.84 337.37,142.75 337.00,127.67 336.76,117.63 337.02,125.18 337.21,130.36 337.17,127.07 337.23,127.75 337.41,132.37 337.49,133.37 337.34,126.56 337.13,117.25 337.27,120.55 337.65,132.42 337.83,137.21 337.80,134.58 337.56,123.99 337.26,111.59 337.42,115.65 337.90,131.36 338.24,141.92 338.23,139.88 337.89,125.79 337.55,111.87 337.66,114.01 338.13,129.49 338.53,142.06 338.55,141.18 338.19,126.46 337.81,111.01 337.87,111.35 338.39,128.70 338.82,142.52 338.68,135.53 338.36,122.42 338.39,121.79 338.52,124.82 338.51,122.79 338.57,123.15 338.83,130.75 339.02,136.19 338.86,128.38 338.60,117.46 338.72,120.05 339.04,129.94 339.16,132.66 339.06,127.21 339.01,123.57 339.10,125.18 339.11,123.91 339.09,121.53 339.31,127.91 339.57,135.69 339.49,131.00 339.22,119.19 339.20,116.70 339.49,125.80 339.72,132.53 339.64,128.00 339.49,120.54 339.64,124.51 340.00,136.08 339.88,129.66 339.41,110.74 339.60,116.11 340.18,135.69 340.23,135.93 339.96,123.92 339.84,117.69 339.94,119.88 340.16,126.42 340.37,132.15 340.42,132.41 340.28,125.61 340.10,116.92 340.15,117.15 340.43,125.92 340.60,130.53 340.66,130.77 340.71,130.96 340.54,122.89 340.32,112.75 340.48,116.97 340.85,129.11 341.07,135.90 341.06,133.71 340.81,122.31 340.57,111.77 340.78,117.78 341.19,131.63 341.25,132.04 341.06,122.94 341.08,121.96 341.25,126.67 341.21,123.42 341.10,117.54 341.34,124.81 341.72,137.59 341.58,130.33 341.05,108.45 341.09,108.32 341.78,132.74 342.15,144.77 341.74,127.40 341.30,108.94 341.51,115.06 341.90,128.35 341.98,129.65 341.92,125.46 341.92,123.73 341.95,123.00 341.98,122.55 342.04,123.05 342.13,124.65 342.19,125.01 342.13,121.13 342.13,119.32 342.35,125.89 342.58,132.89 342.50,128.16 342.19,114.42 342.18,112.28 342.60,126.63 342.79,131.88 342.56,121.43 342.57,119.78 342.88,130.32 342.93,130.14 342.59,115.13 342.51,110.28 342.95,125.52 343.20,133.51 342.99,123.51 342.91,118.50 343.13,125.32 343.25,128.14 343.03,117.91 342.89,110.55 343.23,122.06 343.68,137.73 343.60,132.96 343.11,111.85 343.02,106.44 343.56,125.76 344.06,143.54 343.81,132.07 343.26,108.61 343.21,104.88 343.61,118.60 343.98,131.24 344.11,134.47 344.01,128.70 343.84,120.50 343.74,114.53 343.69,110.82 343.88,116.49 344.30,131.12 344.49,136.73 344.28,126.71 344.01,114.04 343.99,111.65 344.22,118.69 344.43,125.22 344.48,125.63 344.49,123.79 344.56,124.98 344.62,125.66 344.48,118.14 344.32,110.01 344.56,117.54 344.94,130.78 344.93,128.68 344.70,117.68 344.69,115.40 344.95,123.81 345.11,128.40 344.96,120.63 344.83,113.44 345.01,118.60 345.26,126.85 345.30,126.85 345.20,120.70 345.14,116.39 345.21,117.50 345.37,122.15 345.46,123.96 345.47,122.38 345.54,123.22 345.55,121.93 345.46,116.40 345.52,116.69 345.71,122.59 345.81,124.74 345.76,120.77 345.70,116.54 345.88,122.08 346.12,129.85 345.95,121.05 345.68,108.30 345.88,114.60 346.24,127.29 346.29,127.41 346.20,122.05 346.20,119.83 346.16,116.55 346.17,114.87 346.34,120.20 346.52,125.50 346.53,124.13 346.47,119.75 346.44,116.72 346.46,115.65 346.59,119.03 346.80,125.83 346.86,126.29 346.71,118.06 346.63,112.85 346.77,116.82 346.93,121.29 346.99,122.20 347.08,123.95 347.12,123.63 347.02,117.53 346.96,113.05 347.06,115.39 347.22,120.23 347.37,124.43 347.47,126.56 347.41,122.07 347.20,111.74 347.12,106.22 347.49,119.57 348.00,139.11 347.88,132.32 347.36,108.49 347.34,105.75 347.68,118.19 347.88,124.38 347.95,125.38 347.87,120.25 347.70,111.16 347.77,112.24 348.08,123.22 348.21,126.73 348.07,119.09 348.01,114.64 348.15,118.37 348.23,119.67 348.18,116.01 348.25,116.72 348.49,125.03 348.62,128.56 348.32,113.88 348.03,99.54 348.36,111.69 348.89,132.15 348.90,130.85 348.62,116.89 348.50,109.98 348.64,113.87 348.80,118.75 348.88,119.89 349.04,124.74 349.14,127.39 348.94,116.68 348.75,106.85 348.94,112.62 349.21,122.34 349.27,122.90 349.17,116.85 349.20,115.95 349.37,121.50 349.42,121.41 349.27,113.24 349.24,109.97 349.45,117.07 349.66,124.00 349.69,123.12 349.63,118.71 349.59,115.08 349.59,112.98 349.67,114.38 349.80,117.95 349.89,120.12 349.96,121.25 349.99,120.57 349.94,116.06 349.89,111.87 349.96,113.02 350.11,117.51 350.24,121.24 350.33,123.37 350.31,120.56 350.15,111.20 350.10,106.94 350.34,115.84 350.62,125.73 350.63,124.45 350.49,116.08 350.38,109.53 350.45,110.30 350.68,118.63 350.87,124.71 350.82,120.43 350.68,112.49 350.71,111.82 350.88,116.99 350.94,118.03 350.96,116.68 351.05,118.71 351.09,118.17 351.04,113.99 351.08,113.79 351.19,116.90 351.25,117.53 351.29,117.03 351.34,117.29 351.34,115.04 351.35,113.74 351.49,118.03 351.58,119.99 351.49,113.82 351.45,109.95 351.65,116.77 351.85,123.57 351.78,118.45 351.61,108.81 351.68,109.73 351.94,119.44 352.08,123.91 352.01,118.41 351.87,110.18 351.85,107.26 352.02,112.91 352.29,122.97 352.39,125.64 352.23,116.00 352.05,106.10 352.17,109.33 352.44,119.33 352.49,119.59 352.37,112.00 352.45,113.71 352.71,123.28 352.69,120.40 352.41,105.49 352.42,103.93 352.83,120.58 353.03,127.76 352.79,114.52 352.63,105.33 352.85,113.24 353.05,120.35 353.03,117.33 352.98,113.06 353.03,112.95 353.09,113.88 353.14,113.93 353.25,116.85 353.34,118.96 353.28,114.29 353.22,109.35 353.30,110.79 353.45,115.73 353.59,119.98 353.64,120.26 353.57,114.81 353.43,106.32 353.43,104.12 353.72,115.52 354.02,127.07 353.95,121.74 353.71,108.75 353.70,106.06 353.89,112.79 354.01,116.20 353.99,113.34 354.09,115.60 354.24,120.47 354.13,113.33 354.01,105.44 354.22,113.27 354.36,117.57 354.29,112.44 354.44,117.38 354.49,117.41 354.36,109.29 354.45,111.43 354.59,115.64 354.57,112.64 354.58,111.06 354.71,115.07 354.84,119.04 354.88,118.68 354.77,111.34 354.58,100.20 354.64,101.09 355.11,120.89 355.51,137.83 355.30,125.91 354.66,92.93 354.46,81.52 355.16,112.84 355.86,144.13 355.68,133.02 355.00,98.25 354.80,86.60 355.25,105.97 355.79,130.00 355.87,131.33 355.47,109.81 355.20,94.98 355.49,106.86 355.93,125.71 355.89,121.69 355.52,101.71 355.55,100.53 356.00,120.24 356.17,126.27 355.90,110.92 355.67,97.77 355.94,108.83 356.36,126.77 356.16,115.05 355.81,95.66 356.13,109.16 356.49,124.42 356.36,115.84 356.20,106.04 356.36,111.45 356.56,118.83 356.41,109.25 356.23,98.25 356.53,111.10 356.96,129.56 356.85,122.22 356.46,100.96 356.43,97.23 356.74,110.09 356.96,118.85 356.98,117.45 357.00,116.15 357.07,117.37 356.91,107.28 356.63,91.16 356.87,100.65 357.52,130.62 357.67,136.03 357.17,109.07 356.80,88.23 357.07,99.44 357.57,122.21 357.65,123.75 357.39,108.80 357.34,104.09 357.55,112.10 357.69,116.63 357.63,111.77 357.54,105.06 357.61,106.11 357.82,114.36 357.93,117.81 357.85,111.46 357.80,106.72 357.92,110.33 358.01,112.58 357.99,109.21 358.03,108.90 358.13,111.88 358.16,111.00 358.19,110.12 358.33,115.04 358.39,115.66 358.21,104.52 358.13,98.21 358.43,110.77 358.72,123.54 358.64,117.17 358.44,104.55 358.47,103.97 358.62,109.08 358.65,108.64 358.73,110.23 358.91,117.23 358.93,115.82 358.80,106.72 358.81,104.86 358.91,107.79 358.94,107.22 359.02,109.09 359.21,116.43 359.32,119.98 359.18,110.20 358.96,96.65 359.10,101.22 359.42,115.76 359.51,118.21 359.43,111.74 359.39,107.12 359.43,107.07 359.49,107.57 359.42,101.80 359.56,106.74 360.09,131.84 360.07,128.72 359.41,91.49 359.32,84.60 359.88,111.42 360.25,128.66 360.09,117.71 359.74,96.87 359.78,97.11 360.11,111.72 360.22,115.45 360.16,109.96 360.22,110.45 360.34,114.56 360.25,107.56 360.07,95.46 360.24,102.15 360.63,120.45 360.69,121.04 360.45,106.01 360.37,99.44 360.54,105.89 360.71,112.75 360.73,111.51 360.66,105.53 360.70,105.10 360.87,111.88 360.96,114.30 360.88,107.50 360.85,103.67 360.96,106.90 361.02,107.55 361.07,107.85 361.20,112.83 361.25,112.87 361.16,105.60 361.15,102.86 361.27,106.84 361.38,110.42 361.43,110.52 361.41,107.06 361.42,104.94 361.57,110.76 361.69,114.78 361.54,104.63 361.43,95.89 361.66,106.00 361.97,120.36 361.95,116.78 361.69,100.16 361.65,95.94 361.93,108.67 362.10,115.41 362.03,108.91 362.01,105.31 362.09,107.51 362.10,105.56 362.14,105.17 362.35,114.66 362.37,113.06 362.10,95.49 362.18,97.81 362.56,115.94 362.60,116.03 362.41,103.16 362.38,99.00 362.60,108.69 362.81,117.65 362.71,109.56 362.48,94.70 362.61,99.11 362.96,116.03 363.00,116.09 362.81,102.93 362.81,100.59 362.99,108.08 363.08,110.65 363.04,105.94 363.01,101.71 363.12,105.20 363.30,112.58 363.32,111.15 363.20,101.95 363.23,101.12 363.41,109.03 363.48,110.47 363.42,104.24 363.40,101.06 363.56,107.54 363.70,112.55 363.66,108.08 363.70,107.84 363.76,108.60 363.68,101.69 363.69,99.69 363.85,106.16 363.99,111.33 363.98,108.57 363.94,103.76 364.01,105.05 364.15,110.83 364.14,107.67 363.99,96.17 364.05,97.38 364.33,110.91 364.46,115.61 364.41,109.96 364.35,103.89 364.31,99.06 364.35,98.99 364.53,106.77 364.68,112.68 364.65,108.70 364.58,101.91 364.61,101.41 364.71,104.27 364.79,106.48 364.90,110.18 364.93,109.22 364.83,100.90 364.83,98.29 364.98,104.77 365.09,108.32 365.10,106.43 365.16,107.52 365.25,109.86 365.17,102.43 365.04,92.38 365.22,100.20 365.56,117.85 365.60,117.50 365.34,99.69 365.24,90.88 365.44,100.49 365.66,110.92 365.70,110.15 365.67,105.90 365.70,104.97 365.72,103.49 365.70,99.97 365.75,99.94 365.90,106.34 366.03,111.64 366.01,107.99 365.94,100.74 365.93,97.96 366.00,99.16 366.15,105.74 366.36,115.56 366.36,112.86 366.14,96.67 366.06,89.53 366.29,100.44 366.52,112.09 366.56,111.79 366.50,105.52 366.47,101.08 366.52,101.23 366.61,104.04 366.63,102.58 366.63,99.84 366.73,103.14 366.84,106.94 366.88,106.82 366.92,106.52 366.95,105.64 366.91,100.54 366.87,95.50 366.97,99.14 367.16,108.02 367.24,109.86 367.20,104.61 367.20,102.14 367.25,102.56 367.27,101.23 367.30,100.18 367.40,103.61 367.50,107.15 367.50,104.19 367.48,100.02 367.55,101.76 367.64,104.70 367.66,103.26 367.68,101.59 367.77,104.39 367.86,107.34 367.82,102.23 367.72,93.42 367.83,97.14 368.10,111.41 368.18,113.99 368.02,100.64 367.92,91.86 368.08,99.16 368.28,108.97 368.29,106.60 368.20,98.16 368.23,97.62 368.39,104.80 368.50,109.04 368.47,104.28 368.39,96.61 368.46,97.99 368.62,105.18 368.63,103.18 368.57,96.79 368.71,102.98 368.90,112.23 368.85,106.02 368.72,94.66 368.75,93.97 368.87,98.84 368.99,104.00 369.14,110.60 369.17,109.89 369.02,97.23 368.96,90.70 369.14,99.50 369.30,106.85 369.32,105.27 369.34,103.79 369.34,101.04 369.30,95.03 369.40,98.94 369.61,109.67 369.60,106.00 369.43,92.59 369.51,94.42 369.77,108.59 369.82,109.20 369.69,97.58 369.70,95.74 369.85,102.33 369.90,102.87 369.89,99.46 369.96,101.00 370.04,103.77 370.04,100.77 370.04,97.32 370.12,100.21 370.26,106.38 370.31,107.00 370.19,96.22 370.10,86.82 370.30,97.44 370.61,114.95 370.62,113.10 370.42,96.55 370.33,87.57 370.46,93.71 370.69,105.71 370.78,109.02 370.71,101.09 370.68,96.47 370.80,101.16 370.86,102.64 370.82,97.09 370.84,95.61 370.98,101.49 371.08,105.61 371.07,101.87 371.04,96.91 371.09,97.55 371.19,101.24 371.27,103.70 371.29,102.08 371.26,97.02 371.27,94.51 371.34,96.54 371.44,100.56 371.59,107.63 371.68,110.90 371.55,99.10 371.38,84.37 371.49,88.77 371.79,106.45 371.92,112.59 371.81,101.61 371.72,92.14 371.80,94.78 371.95,102.03 372.04,105.68 372.02,101.34 371.94,92.68 371.98,92.39 372.17,102.66 372.27,106.29 372.18,97.34 372.19,94.77 372.37,104.55 372.45,106.51 372.31,93.68 372.25,86.82 372.44,96.69 372.64,108.17 372.67,107.05 372.57,97.11 372.56,92.71 372.68,98.59 372.77,101.43 372.70,93.40 372.72,91.69 372.96,105.70 373.09,111.83 372.95,99.06 372.82,86.83 372.91,90.19 373.12,101.69 373.23,106.79 373.20,101.14 373.17,95.83 373.28,100.72 373.36,103.12 373.22,89.99 373.14,81.51 373.43,99.18 373.75,119.25 373.71,113.32 373.45,91.29 373.30,76.87 373.43,83.13 373.79,106.29 374.05,121.68 373.91,108.94 373.60,82.74 373.59,78.65 373.89,97.75 374.09,109.07 374.10,106.46 374.04,99.32 373.98,91.05 374.00,89.95 374.16,98.11 374.28,104.16 374.27,100.03 374.22,92.74 374.29,94.88 374.43,102.26 374.45,100.58 374.42,94.57 374.48,96.42 374.54,97.18 374.54,93.89 374.60,95.35 374.70,99.95 374.79,103.15 374.79,99.49 374.70,90.05 374.75,90.52 374.96,102.85 375.03,104.90 374.91,92.71 374.89,87.87 375.07,97.83 375.21,105.55 375.19,100.60 375.13,92.38 375.15,90.86 375.25,95.37 375.36,100.45 375.40,100.00 375.39,95.82 375.42,94.76 375.50,98.07 375.55,98.16 375.51,91.49 375.54,90.96 375.73,102.48 375.83,106.56 375.71,93.73 375.66,86.29 375.82,95.87 375.94,101.66 375.90,95.17 375.92,93.07 376.04,99.11 376.10,100.96 376.08,95.39 376.06,90.84 376.13,92.84 376.24,97.90 376.31,99.82 376.31,96.89 376.32,94.21 376.38,95.16 376.42,95.18 376.44,93.43 376.53,96.95 376.64,102.49 376.61,96.76 376.51,85.03 376.60,88.39 376.83,103.89 376.93,108.47 376.84,97.58 376.74,86.09 376.76,84.18 376.88,90.26 377.05,100.89 377.20,109.54 377.20,105.29 377.05,90.23 376.97,80.19 377.06,84.29 377.27,97.59 377.44,107.32 377.45,105.08 377.37,95.10 377.32,87.17 377.35,86.41 377.46,92.06 377.60,99.52 377.68,102.93 377.68,98.83 377.62,90.78 377.61,86.71 377.71,91.28 377.87,100.86 377.93,102.30 377.87,93.73 377.88,90.54 377.94,92.13 377.98,92.11 378.06,94.59 378.13,97.17 378.17,97.02 378.19,95.25 378.21,92.99 378.25,92.53 378.28,91.75 378.33,92.21 378.43,97.37 378.49,98.89 378.48,93.69 378.49,90.85 378.55,92.55 378.62,94.61 378.68,96.37 378.72,96.09 378.71,91.23 378.69,86.58 378.81,92.73 379.00,105.45 379.02,103.46 378.85,85.54 378.80,77.42 379.00,90.97 379.25,108.01 379.25,105.04 379.08,86.32 379.06,81.14 379.28,95.85 379.40,102.80 379.31,91.36 379.28,85.07 379.43,94.56 379.54,100.49 379.53,95.71 379.53,91.91 379.55,89.57 379.56,87.24 379.67,92.72 379.79,99.70 379.81,97.89 379.80,93.22 379.81,90.06 379.82,87.02 379.88,88.87 380.00,95.26 380.09,99.33 380.14,99.70 380.12,94.67 380.05,84.58 380.06,81.68 380.22,92.11 380.36,100.99 380.36,97.24 380.35,92.17 380.42,94.39 380.46,94.21 380.43,87.40 380.43,83.33 380.54,89.61 380.71,101.77 380.79,104.41 380.68,91.05 380.60,79.41 380.72,86.54 380.89,98.69 380.92,97.46 380.90,91.02 380.95,92.48 381.02,94.67 381.00,88.41 380.99,83.53 381.11,91.31 381.26,101.19 381.29,99.44 381.24,91.15 381.21,84.64 381.24,83.19 381.37,90.96 381.50,99.81 381.52,97.11 381.49,90.36 381.55,91.89 381.59,91.69 381.54,83.16 381.61,85.22 381.80,99.55 381.86,101.40 381.79,90.11 381.78,85.71 381.86,88.90 381.91,89.96 381.97,91.48 382.06,96.14 382.10,95.35 382.05,86.89 382.05,83.00 382.19,92.08 382.34,102.12 382.31,95.38 382.20,80.29 382.24,80.20 382.45,96.51 382.59,105.76 382.50,93.08 382.38,77.19 382.47,81.85 382.68,97.62 382.76,101.29 382.70,91.95 382.67,84.58 382.71,84.74 382.80,89.12 382.90,94.94 382.97,97.70 382.97,93.27 382.93,84.52 382.92,79.48 383.02,85.57 383.21,100.27 383.31,105.96 383.21,91.34 383.08,74.70 383.18,80.34 383.37,94.49 383.42,95.68 383.43,91.91 383.44,88.95 383.46,87.14 383.54,90.44 383.62,94.29 383.62,90.34 383.60,83.53 383.64,83.03 383.79,94.01 383.89,100.38 383.84,90.81 383.78,80.54 383.87,85.21 384.03,96.66 384.05,94.38 383.99,83.81 384.05,85.57 384.19,95.55 384.23,96.22 384.15,82.87 384.13,76.70 384.31,90.96 384.45,101.15 384.42,93.00 384.37,84.00 384.42,84.79 384.52,90.39 384.59,93.49 384.60,90.44 384.61,86.30 384.65,86.29 384.72,89.52 384.79,92.31 384.82,91.40 384.82,86.57 384.83,83.05 384.92,87.98 385.05,96.82 385.05,93.31 384.98,81.03 385.04,82.27 385.21,95.92 385.26,97.50 385.16,81.89 385.15,75.60 385.33,91.14 385.48,102.42 385.43,92.50 385.35,79.47 385.41,81.45 385.54,90.97 385.61,93.64 385.61,88.71 385.62,85.56 385.67,86.93 385.73,88.51 385.79,90.21 385.84,91.15 385.85,87.51 385.85,82.59 385.90,83.68 386.02,92.02 386.11,98.13 386.08,89.97 386.01,76.49 386.07,78.52 386.24,93.63 386.34,99.37 386.30,90.35 386.26,81.49 386.30,80.51 386.39,85.85 386.49,92.69 386.55,94.81 386.56,91.37 386.56,86.13 386.49,73.88 386.49,69.20 386.73,91.94 386.92,108.04 386.84,94.72 386.73,77.10 386.77,76.07 386.90,86.27 386.99,91.75 387.03,92.48 387.08,92.77 387.07,87.04 387.05,79.87 387.11,81.96 387.20,87.51 387.26,89.22 387.31,89.80 387.37,91.85 387.39,89.95 387.36,80.71 387.36,75.67 387.48,85.45 387.64,98.88 387.65,95.80 387.57,80.35 387.57,76.09 387.70,86.12 387.82,95.40 387.84,92.60 387.77,79.47 387.80,78.22 387.94,90.44 388.00,91.71 387.99,85.64 388.03,85.37 388.08,86.13 388.10,83.07 388.14,83.62 388.25,91.75 388.31,94.46 388.27,83.64 388.24,75.31 388.35,82.62 388.46,91.59 388.49,90.59 388.51,87.46 388.55,86.54 388.57,84.00 388.58,80.67 388.63,81.70 388.73,89.05 388.82,95.15 388.82,89.44 388.76,76.81 388.81,76.78 388.94,88.87 389.01,91.90 389.00,86.03 389.05,86.47 389.11,88.76 389.10,82.18 389.09,75.36 389.18,82.12 389.36,99.74 389.41,100.56 389.30,80.61 389.28,72.47 389.40,83.43 389.50,89.81 389.52,87.52 389.53,83.76 389.54,79.65 389.60,80.99 389.72,91.18 389.79,95.45 389.75,85.11 389.72,75.61 389.79,78.85 389.88,85.62 389.94,87.69 389.99,88.97 390.03,88.62 390.04,83.97 390.05,80.38 390.09,79.86 390.16,83.23 390.25,90.18 390.29,89.83 390.27,81.65 390.31,80.57 390.38,84.88 390.42,83.95 390.47,84.85 390.54,88.99 390.54,83.77 390.54,77.67 390.63,83.96 390.71,89.48 390.72,84.89 390.73,80.73 390.80,84.15 390.86,87.08 390.88,83.71 390.91,82.23 390.97,85.08 390.99,82.52 391.00,77.98 391.09,84.91 391.20,94.77 391.21,89.04 391.15,74.19 391.18,72.77 391.32,87.08 391.41,94.38 391.38,84.22 391.37,75.85 391.45,82.13 391.54,88.55 391.55,84.69 391.56,79.62 391.63,83.26 391.71,88.68 391.71,83.31 391.70,75.45 391.78,80.47 391.88,90.31 391.91,88.73 391.90,79.98 391.93,78.28 392.01,83.74 392.07,86.47 392.08,82.40 392.10,78.75 392.17,83.53 392.26,90.55 392.26,84.37 392.21,70.43 392.29,75.38 392.47,96.66 392.53,99.79 392.42,76.91 392.36,60.69 392.48,73.80 392.67,95.80 392.73,98.65 392.67,83.79 392.65,72.73 392.70,74.50 392.78,80.70 392.86,86.55 392.92,90.18 392.92,82.46 392.91,75.39 393.01,84.16 393.09,90.20 393.07,80.84 393.06,72.21 393.14,79.00 393.25,88.53 393.29,88.60 393.29,82.54 393.29,76.25 393.34,76.70 393.44,85.83 393.51,90.41 393.48,79.46 393.46,68.83 393.57,79.74 393.73,99.84 393.73,92.67 393.64,70.89 393.69,72.21 393.79,82.51 393.82,80.14 393.85,78.89 393.94,86.74 394.00,89.53 393.98,79.63 393.98,72.96 394.06,79.05 394.15,86.42 394.18,84.52 394.18,78.20 394.22,78.42 394.30,84.04 394.34,84.11 394.35,77.95 394.39,78.14 394.48,86.09 394.52,85.66 394.50,76.11 394.53,74.15 394.62,81.39 394.69,86.47 394.72,85.69 394.74,80.42 394.74,74.67 394.79,75.90 394.89,84.98 394.96,90.51 394.95,81.48 394.92,67.87 394.98,71.90 395.12,89.51 395.18,94.19 395.15,80.93 395.14,70.58 395.20,74.82 395.29,82.83 395.33,83.75 395.36,80.18 395.39,79.55 395.45,82.66 395.50,82.94 395.51,77.90 395.54,75.32 395.60,80.05 395.67,84.77 395.70,81.79 395.70,74.65 395.76,77.31 395.85,88.36 395.88,85.57 395.85,70.47 395.88,69.80 396.00,85.17 396.09,93.87 396.07,82.61 396.02,64.83 396.09,69.13 396.23,89.69 396.29,92.31 396.25,77.01 396.26,71.08 396.34,78.88 396.41,83.97 396.43,79.14 396.44,74.00 396.51,78.41 396.59,87.21 396.63,85.92 396.61,73.69 396.62,68.45 396.71,78.49 396.81,89.68 396.84,86.43 396.81,72.24 396.83,67.54 396.93,80.50 397.03,91.73 397.03,84.07 397.00,69.18 397.05,69.99 397.15,82.38 397.20,85.53 397.22,79.89 397.25,78.90 397.30,80.51 397.32,75.42 397.34,70.26 397.41,77.10 397.50,87.80 397.54,87.27 397.53,77.12 397.54,69.87 397.60,73.32 397.67,80.28 397.72,82.22 397.76,81.95 397.79,79.90 397.81,75.10 397.85,74.58 397.92,79.79 397.97,82.05 397.99,77.06 398.01,72.38 398.07,77.42 398.14,83.46"/>
<polyline stroke="#22a447" stroke-width="0.60" points="334.93,142.62 335.11,146.36 335.35,152.49 335.62,159.23 335.83,164.33 335.95,166.12 335.96,164.14 335.88,159.02 335.74,151.97 335.59,144.41 335.47,137.81 335.41,133.39 335.43,131.83 335.53,133.12 335.70,136.67 335.91,141.52 336.13,146.69 336.33,151.40 336.50,155.19 336.65,157.83 336.75,159.17 336.81,159.05 336.83,157.33 336.80,153.98 336.73,149.24 336.64,143.66 336.55,138.09 336.49,133.63 336.50,131.35 336.58,132.07 336.76,135.97 337.01,142.41 337.29,149.93 337.54,156.63 337.73,160.68 337.80,160.96 337.77,157.47 337.66,151.33 337.54,144.50 337.45,139.06 337.45,136.52 337.54,137.28 337.69,140.59 337.88,144.96 338.06,148.80 338.18,150.93 338.25,150.92 338.27,149.07 338.25,146.21 338.24,143.34 338.25,141.26 338.29,140.38 338.37,140.69 338.47,141.86 338.58,143.52 338.70,145.41 338.82,147.44 338.94,149.53 339.06,151.43 339.16,152.63 339.22,152.40 339.23,150.17 339.18,145.88 339.09,140.27 339.01,134.85 338.98,131.43 339.05,131.47 339.22,135.36 339.48,142.20 339.76,150.03 340.00,156.56 340.16,159.93 340.21,159.30 340.15,154.96 340.04,148.19 339.90,140.76 339.80,134.40 339.75,130.39 339.79,129.37 339.91,131.26 340.09,135.47 340.31,141.05 340.53,146.90 340.73,151.94 340.89,155.25 340.98,156.25 341.01,154.77 340.98,151.14 340.91,146.15 340.83,140.84 340.78,136.32 340.77,133.45 340.82,132.72 340.92,134.22 341.08,137.64 341.27,142.28 341.47,147.13 341.64,151.00 341.75,152.83 341.79,151.95 341.76,148.37 341.68,142.86 341.59,136.81 341.53,131.93 341.54,129.77 341.64,131.27 341.84,136.30 342.10,143.65 342.37,151.27 342.58,156.88 342.69,158.67 342.69,155.95 342.58,149.34 342.42,140.67 342.27,132.42 342.19,126.89 342.22,125.47 342.36,128.25 342.58,134.13 342.83,141.28 343.07,147.84 343.25,152.36 343.36,154.09 343.40,152.97 343.38,149.54 343.32,144.70 343.25,139.52 343.20,135.07 343.19,132.20 343.24,131.43 343.34,132.82 343.49,135.92 343.66,139.91 343.82,143.82 343.96,146.80 344.07,148.34 344.13,148.33 344.17,146.96 344.17,144.61 344.16,141.68 344.15,138.61 344.15,135.90 344.17,134.05 344.22,133.50 344.31,134.43 344.43,136.67 344.57,139.64 344.71,142.53 344.83,144.65 344.92,145.55 344.98,145.23 345.01,143.98 345.03,142.24 345.05,140.44 345.08,138.83 345.11,137.55 345.15,136.65 345.21,136.21 345.28,136.30 345.36,136.97 345.45,138.14 345.56,139.59 345.66,140.98 345.75,141.98 345.82,142.33 345.88,141.96 345.92,140.96 345.95,139.59 345.98,138.24 346.02,137.25 346.08,136.91 346.16,137.35 346.25,138.44 346.35,139.82 346.44,140.97 346.52,141.38 346.57,140.74 346.59,139.11 346.61,136.97 346.63,135.07 346.67,134.15 346.75,134.62 346.85,136.36 346.98,138.74 347.10,140.91 347.19,142.10 347.25,141.97 347.29,140.70 347.31,138.90 347.34,137.30 347.38,136.51 347.45,136.70 347.54,137.58 347.63,138.59 347.70,139.09 347.76,138.69 347.80,137.41 347.82,135.67 347.85,134.17 347.90,133.58 347.98,134.22 348.09,135.91 348.20,138.03 348.31,139.95 348.41,141.23 348.49,141.72 348.54,141.42 348.59,140.48 348.62,138.99 348.63,136.97 348.64,134.43 348.64,131.60 348.64,129.02 348.67,127.45 348.74,127.57 348.85,129.78 349.02,134.05 349.22,139.71 349.42,145.39 349.57,149.35 349.66,150.21 349.66,147.55 349.60,142.05 349.50,135.19 349.42,128.62 349.37,123.77 349.39,121.80 349.49,123.53 349.69,129.02 349.93,136.95 350.19,145.04 350.39,150.87 350.49,152.70 350.50,150.00 350.41,143.56 350.28,135.21 350.17,127.20 350.10,121.50 350.11,119.28 350.21,120.74 350.38,125.25 350.59,131.66 350.82,138.57 351.02,144.53 351.17,148.29 351.25,148.99 351.25,146.45 351.20,141.23 351.12,134.63 351.04,128.36 351.01,124.05 351.04,122.77 351.15,124.64 351.31,128.83 351.49,133.88 351.65,138.26 351.77,140.90 351.85,141.47 351.89,140.31 351.91,138.19 351.92,135.99 351.95,134.43 352.00,133.84 352.07,134.05 352.15,134.41 352.20,134.13 352.24,132.63 352.24,130.00 352.24,127.11 352.27,125.32 352.35,125.85 352.48,129.15 352.67,134.49 352.86,140.25 353.01,144.47 353.10,145.62 353.11,143.17 353.06,137.75 352.98,131.07 352.92,125.32 352.92,122.45 353.01,123.44 353.17,127.85 353.36,133.99 353.55,139.53 353.68,142.41 353.72,141.61 353.70,137.44 353.63,131.47 353.57,125.79 353.56,122.26 353.62,121.83 353.74,124.30 353.89,128.66 354.06,133.58 354.22,137.91 354.35,140.88 354.44,142.17 354.50,141.79 354.52,139.96 354.53,137.07 354.52,133.65 354.51,130.22 354.51,127.22 354.52,124.87 354.55,123.20 354.59,122.12 354.65,121.65 354.72,122.17 354.84,124.42 355.00,129.19 355.22,136.71 355.48,145.95 355.73,154.43 355.88,158.86 355.90,156.66 355.77,147.29 355.53,132.81 355.26,117.18 355.07,104.78 355.01,99.04 355.13,101.33 355.38,110.39 355.71,122.97 356.03,135.31 356.28,144.45 356.44,148.94 356.50,148.71 356.48,144.63 356.40,138.03 356.31,130.42 356.23,123.47 356.20,118.87 356.25,117.85 356.37,120.65 356.55,126.33 356.75,133.06 356.93,138.61 357.04,141.09 357.07,139.55 357.03,134.37 356.95,127.23 356.88,120.55 356.87,116.71 356.94,117.14 357.10,121.76 357.31,129.13 357.53,136.97 357.72,142.96 357.83,145.46 357.86,143.89 357.82,138.73 357.74,131.33 357.64,123.49 357.58,117.01 357.57,113.32 357.63,113.12 357.76,116.32 357.94,122.09 358.14,129.10 358.34,135.87 358.50,141.05 358.62,143.69 358.68,143.37 358.68,140.23 358.64,134.88 358.57,128.34 358.51,121.88 358.47,116.76 358.48,114.09 358.56,114.53 358.69,118.08 358.87,124.00 359.07,130.94 359.25,137.17 359.40,141.16 359.47,141.94 359.49,139.41 359.45,134.35 359.40,128.10 359.34,122.15 359.32,117.77 359.35,115.72 359.42,116.22 359.54,119.02 359.69,123.46 359.85,128.62 360.01,133.44 360.14,136.92 360.23,138.35 360.27,137.50 360.28,134.68 360.27,130.64 360.25,126.31 360.24,122.54 360.26,119.92 360.30,118.74 360.37,119.05 360.46,120.70 360.58,123.39 360.70,126.59 360.82,129.63 360.93,131.79 361.00,132.57 361.05,131.88 361.08,130.12 361.11,128.03 361.14,126.38 361.19,125.64 361.26,125.75 361.33,126.22 361.39,126.36 361.45,125.74 361.48,124.35 361.52,122.70 361.56,121.58 361.62,121.66 361.72,123.24 361.83,126.02 361.95,129.21 362.06,131.77 362.15,132.83 362.19,131.90 362.21,129.15 362.20,125.29 362.19,121.43 362.20,118.70 362.25,117.88 362.34,119.15 362.46,122.08 362.59,125.78 362.71,129.22 362.82,131.55 362.89,132.31 362.94,131.44 362.97,129.28 362.98,126.36 362.98,123.27 363.00,120.54 363.03,118.58 363.07,117.72 363.14,118.17 363.24,119.96 363.35,122.84 363.48,126.22 363.60,129.28 363.69,131.21 363.76,131.48 363.80,130.12 363.82,127.64 363.83,124.92 363.86,122.78 363.90,121.69 363.96,121.59 364.03,121.98 364.10,122.18 364.16,121.74 364.20,120.70 364.24,119.62 364.30,119.37 364.39,120.67 364.50,123.64 364.64,127.60 364.76,131.40 364.87,133.72 364.92,133.38 364.92,129.59 364.86,122.60 364.78,114.17 364.73,107.30 364.75,104.96 364.87,108.52 365.08,116.83 365.31,126.87 365.52,135.27 365.66,139.65 365.71,139.12 365.69,134.37 365.64,127.41 365.58,120.68 365.57,116.09 365.60,114.37 365.68,115.12 365.78,117.28 365.88,119.76 365.98,121.80 366.06,123.06 366.14,123.55 366.20,123.58 366.26,123.62 366.33,124.02 366.41,124.87 366.49,125.83 366.56,126.29 366.61,125.66 366.64,123.67 366.65,120.66 366.66,117.55 366.69,115.49 366.75,115.32 366.84,117.18 366.96,120.37 367.08,123.64 367.17,125.67 367.23,125.70 367.27,123.86 367.28,121.10 367.31,118.64 367.35,117.42 367.42,117.75 367.51,119.39 367.61,121.77 367.71,124.21 367.80,126.12 367.88,127.05 367.94,126.73 367.97,125.01 367.98,121.82 367.97,117.34 367.96,112.28 367.95,107.95 367.98,105.91 368.06,107.24 368.20,112.03 368.38,119.25 368.57,127.24 368.74,134.27 368.88,138.93 368.96,140.19 368.98,137.53 368.94,131.16 368.86,122.28 368.78,112.87 368.72,105.22 368.72,101.21 368.79,101.65 368.92,106.10 369.09,113.03 369.27,120.39 369.42,126.27 369.53,129.37 369.60,129.40 369.62,127.12 369.64,124.01 369.66,121.51 369.70,120.35 369.77,120.27 369.83,120.45 369.89,120.07 369.93,118.77 369.96,116.75 369.99,114.69 370.04,113.50 370.11,114.04 370.21,116.56 370.33,120.55 370.46,124.81 370.56,127.75 370.63,127.88 370.64,124.48 370.60,118.11 370.55,110.75 370.53,105.08 370.57,103.33 370.67,106.29 370.84,112.96 371.02,121.13 371.19,128.32 371.31,132.58 371.38,133.13 371.41,130.42 371.40,125.68 371.38,120.25 371.37,115.11 371.36,110.81 371.38,107.68 371.42,106.06 371.49,106.37 371.59,108.94 371.72,113.67 371.87,119.75 372.02,125.78 372.14,130.16 372.22,131.60 372.25,129.50 372.24,124.27 372.20,117.27 372.17,110.47 372.16,105.88 372.21,104.82 372.31,107.48 372.45,112.79 372.60,118.86 372.73,123.66 372.82,125.66 372.86,124.28 372.86,120.08 372.84,114.54 372.84,109.64 372.86,107.16 372.94,108.05 373.06,112.10 373.20,117.99 373.34,123.90 373.46,128.05 373.54,129.37 373.58,127.61 373.58,123.10 373.55,116.48 373.50,108.73 373.46,101.36 373.46,96.25 373.50,95.15 373.62,98.90 373.79,106.82 373.98,116.77 374.17,125.98 374.32,132.14 374.41,134.12 374.44,132.02 374.43,127.10 374.42,121.27 374.41,116.27 374.43,113.00 374.47,111.45 374.52,110.98 374.58,110.91 374.64,110.79 374.70,110.56 374.76,110.49 374.83,111.06 374.91,112.72 375.01,115.55 375.12,119.05 375.22,122.20 375.31,123.75 375.35,122.73 375.37,118.94 375.35,113.22 375.34,107.26 375.34,103.05 375.39,102.17 375.49,105.09 375.63,111.00 375.78,118.12 375.93,124.30 376.03,127.78 376.09,127.70 376.11,124.28 376.10,118.66 376.08,112.46 376.07,107.24 376.09,103.97 376.14,102.89 376.21,103.67 376.30,105.70 376.40,108.51 376.50,111.84 376.61,115.51 376.72,119.22 376.82,122.41 376.90,124.33 376.96,124.32 377.00,122.08 377.01,117.94 377.00,112.77 377.00,107.83 377.02,104.36 377.07,103.15 377.14,104.29 377.24,107.12 377.34,110.56 377.44,113.46 377.52,115.14 377.59,115.56 377.65,115.37 377.71,115.44 377.78,116.33 377.86,117.88 377.94,119.20 378.00,119.12 378.03,116.84 378.04,112.54 378.04,107.40 378.05,103.16 378.09,101.34 378.16,102.57 378.27,106.33 378.39,111.20 378.50,115.57 378.59,118.24 378.66,118.85 378.71,117.85 378.75,116.14 378.79,114.55 378.84,113.49 378.89,112.81 378.95,112.02 378.99,110.69 379.03,108.78 379.07,106.73 379.11,105.29 379.17,105.17 379.25,106.67 379.34,109.53 379.44,112.99 379.54,116.12 379.63,118.13 379.69,118.64 379.74,117.61 379.78,115.31 379.80,112.09 379.82,108.39 379.84,104.80 379.87,102.10 379.92,101.21 380.00,102.82 380.11,106.98 380.23,112.77 380.36,118.48 380.46,122.15 380.52,122.37 380.54,118.82 380.53,112.49 380.51,105.36 380.51,99.71 380.55,97.35 380.63,99.03 380.74,104.23 380.88,111.43 381.02,118.57 381.14,123.61 381.22,125.05 381.24,122.16 381.23,115.31 381.19,105.97 381.15,96.55 381.14,89.88 381.18,88.27 381.29,92.62 381.45,101.99 381.64,113.78 381.81,124.63 381.95,131.49 382.02,132.67 382.03,128.20 382.00,119.74 381.96,109.85 381.92,101.06 381.92,95.05 381.95,92.34 382.02,92.56 382.10,94.99 382.21,98.99 382.32,104.13 382.44,109.99 382.56,115.86 382.67,120.71 382.76,123.36 382.82,122.91 382.84,119.16 382.83,112.92 382.82,105.69 382.81,99.11 382.83,94.82 382.89,94.18 382.98,97.80 383.12,104.95 383.26,113.48 383.39,120.47 383.48,123.45 383.52,121.43 383.52,115.27 383.50,107.14 383.48,99.48 383.49,94.29 383.54,92.69 383.62,94.63 383.72,99.25 383.84,105.23 383.96,111.21 384.07,115.98 384.15,118.67 384.22,118.79 384.25,116.35 384.27,111.83 384.27,106.28 384.29,101.29 384.32,98.44 384.38,98.49 384.46,100.96 384.56,104.45 384.65,107.31 384.72,108.49 384.77,107.97 384.82,106.67 384.87,105.86 384.94,106.43 385.02,108.43 385.10,111.05 385.18,113.06 385.24,113.41 385.29,111.67 385.31,108.11 385.33,103.66 385.36,99.65 385.39,97.38 385.46,97.60 385.54,100.18 385.64,104.09 385.73,107.87 385.81,110.28 385.88,110.85 385.93,109.91 385.97,108.30 386.02,106.83 386.07,105.95 386.13,105.67 386.19,105.71 386.25,105.75 386.31,105.60 386.37,105.23 386.42,104.73 386.48,104.23 386.54,103.94 386.60,104.03 386.66,104.64 386.73,105.71 386.80,106.92 386.87,107.75 386.93,107.70 386.98,106.57 387.02,104.61 387.06,102.43 387.11,100.79 387.16,100.30 387.23,101.20 387.31,103.31 387.39,106.01 387.47,108.42 387.54,109.72 387.60,109.46 387.64,107.73 387.68,105.12 387.72,102.49 387.76,100.65 387.82,100.13 387.89,100.96 387.96,102.75 388.04,104.88 388.11,106.67 388.18,107.65 388.24,107.64 388.29,106.73 388.34,105.17 388.38,103.26 388.43,101.33 388.47,99.72 388.53,98.80 388.59,98.86 388.65,100.01 388.73,102.01 388.81,104.34 388.88,106.35 388.95,107.52 389.01,107.67 389.07,106.99 389.12,105.96 389.17,105.06 389.23,104.55 389.28,104.34 389.34,104.05 389.39,103.27 389.44,101.82 389.49,99.90 389.53,98.03 389.58,96.87 389.64,96.88 389.71,98.14 389.79,100.31 389.87,102.79 389.94,105.00 390.01,106.57 390.08,107.45 390.14,107.77 390.20,107.66 390.26,107.15 390.31,106.08 390.35,104.27 390.39,101.70 390.43,98.70 390.47,95.94 390.52,94.17 390.58,94.08 390.65,96.14 390.74,100.27 390.84,105.50 390.93,109.99 391.00,111.72 391.04,109.63 391.06,104.44 391.08,98.48 391.11,94.44 391.17,93.94 391.25,96.88 391.34,101.68 391.43,106.14 391.51,108.47 391.56,108.10 391.61,105.67 391.64,102.48 391.68,99.72 391.73,98.04 391.79,97.53 391.85,97.95 391.91,98.93 391.98,100.04 392.05,100.86 392.11,101.06 392.16,100.60 392.22,99.80 392.27,99.22 392.33,99.43 392.40,100.67 392.47,102.64 392.54,104.58 392.61,105.52 392.66,104.78 392.71,102.38 392.74,99.11 392.78,96.22 392.83,94.87 392.90,95.50 392.97,97.68 393.05,100.28 393.12,102.04 393.18,102.20 393.23,100.92 393.27,99.13 393.33,98.07 393.39,98.51 393.46,100.27 393.53,102.27 393.59,103.13 393.65,101.93 393.69,98.78 393.72,94.95 393.76,92.30 393.82,92.37 393.90,95.65 393.99,101.23 394.09,107.19 394.17,111.33 394.23,111.94 394.27,108.39 394.29,101.35 394.30,92.72 394.31,85.11 394.35,80.98 394.41,81.73 394.50,87.21 394.61,95.78 394.72,104.89 394.82,112.01 394.90,115.34 394.95,114.23 394.98,109.20 395.00,101.74 395.01,93.88 395.04,87.75 395.08,84.98 395.15,86.25 395.23,91.04 395.33,97.67 395.42,103.93 395.50,107.77 395.56,108.07 395.60,104.96 395.63,99.70 395.66,94.18 395.70,90.15 395.75,88.62 395.81,89.57 395.88,92.25 395.96,95.84 396.04,99.69 396.12,103.37 396.19,106.51 396.26,108.72 396.32,109.46 396.37,108.07 396.41,104.08 396.44,97.67 396.46,90.04 396.48,83.15 396.52,79.14 396.58,79.50 396.67,84.27 396.76,91.76 396.86,99.37 396.94,104.86 397.01,107.22 397.07,106.71 397.11,104.25 397.16,100.86 397.20,97.28 397.24,93.99 397.29,91.44 397.34,90.11 397.40,90.28 397.46,91.83 397.53,94.24 397.60,96.72 397.67,98.54 397.73,99.30 397.79,99.05 397.84,98.28 397.90,97.58 397.96,97.38 398.02,97.71 398.08,98.19 398.13,98.22 398.19,97.35 398.24,95.46 398.29,92.93 398.33,90.51 398.39,89.03 398.45,89.08 398.51,90.71 398.58,93.46 398.65,96.50 398.72,99.03 398.78,100.55 398.84,100.90 398.90,100.25 398.95,98.83 399.00,96.89 399.05,94.70 399.10,92.58 399.15,90.95 399.21,90.19 399.27,90.54 399.33,91.92 399.40,93.97 399.46,96.18 399.53,98.09 399.59,99.32 399.65,99.56 399.71,98.61 399.75,96.34 399.80,92.92 399.84,88.92 399.89,85.36 399.94,83.52 400.00,84.45 400.07,88.48 400.16,94.86 400.24,101.88 400.32,107.40 400.38,109.62 400.43,107.72 400.47,102.17 400.50,94.62 400.54,87.27 400.58,82.20 400.63,80.60 400.69,82.41 400.77,86.53 400.84,91.28 400.91,95.15 400.97,97.25 401.03,97.51 401.09,96.49 401.14,95.05 401.20,93.95 401.25,93.64 401.31,94.10 401.37,94.96 401.43,95.67 401.49,95.75 401.55,95.02 401.60,93.62 401.65,91.99 401.71,90.61 401.76,89.84 401.82,89.79 401.88,90.35 401.94,91.29 402.00,92.28 402.06,93.01 402.12,93.22 402.17,92.77 402.23,91.75 402.28,90.55 402.34,89.73 402.40,89.87 402.46,91.23 402.52,93.57 402.59,96.16 402.65,98.03 402.71,98.42 402.76,97.03 402.81,94.19 402.86,90.69 402.91,87.50 402.96,85.41 403.02,84.83 403.08,85.70 403.14,87.57 403.21,89.84 403.27,91.96 403.33,93.62 403.39,94.75 403.45,95.41 403.51,95.67 403.56,95.47 403.62,94.71 403.67,93.32 403.73,91.40 403.78,89.24 403.83,87.30 403.89,86.13 403.95,86.13 404.01,87.40 404.07,89.62 404.13,92.13 404.19,94.18 404.25,95.13 404.31,94.66 404.36,92.77 404.41,89.92 404.47,86.91 404.52,84.78 404.58,84.33 404.64,85.77 404.70,88.57 404.76,91.72 404.82,94.20 404.88,95.44 404.94,95.41 405.00,94.50 405.05,93.27 405.11,92.11 405.16,91.12 405.22,90.13 405.27,88.99 405.33,87.63 405.38,86.16 405.44,84.85 405.50,84.06 405.55,84.20 405.61,85.62 405.67,88.36 405.74,91.97 405.80,95.58 405.86,98.11 405.92,98.55 405.97,96.44 406.02,92.10 406.07,86.62 406.12,81.61 406.18,78.66 406.24,78.78 406.30,82.02 406.36,87.38 406.42,93.14 406.49,97.46 406.55,98.97 406.60,97.20 406.65,92.76 406.70,87.09 406.76,82.00 406.81,79.09 406.87,79.22 406.93,82.26 406.99,87.20 407.05,92.49 407.11,96.49 407.17,97.96 407.23,96.34 407.28,91.99 407.33,86.15 407.38,80.62 407.44,77.28 407.50,77.39 407.56,81.11 407.62,87.29 407.68,93.86 407.74,98.57 407.80,99.78 407.85,97.08 407.91,91.41 407.96,84.68 408.01,79.06 408.07,76.24 408.13,76.84 408.18,80.35 408.24,85.43 408.30,90.48 408.36,94.15 408.42,95.72 408.48,95.17 408.53,93.03 408.59,90.04 408.64,86.79 408.70,83.51 408.76,80.23 408.81,77.19 408.87,75.12 408.93,75.31 408.98,79.04 409.04,86.64 409.10,96.59 409.16,105.73 409.21,110.55 409.27,108.79 409.33,100.42 409.38,87.67 409.44,74.62 409.50,65.62 409.55,63.34 409.61,67.62 409.67,75.99 409.72,85.15 409.78,92.46 409.83,96.51 409.89,97.02 409.95,94.41 410.01,89.67 410.06,84.31 410.12,80.19 410.18,78.78 410.23,80.53 410.29,84.67 410.35,89.41 410.40,92.68 410.46,92.92 410.51,89.78 410.57,84.28 410.63,78.49 410.69,74.73 410.75,74.57 410.80,78.15 410.86,84.07 410.91,90.08 410.96,93.97 411.02,94.54 411.08,91.96 411.14,87.58 411.20,83.26 411.26,80.51 411.31,79.93 411.37,81.14 411.42,83.14 411.48,84.91 411.53,85.86 411.59,85.95 411.65,85.52 411.70,85.01 411.76,84.67 411.82,84.58 411.87,84.65 411.93,84.80 411.99,84.96 412.04,85.01 412.10,84.71 412.16,83.74 412.22,81.96 412.28,79.63 412.33,77.53 412.39,76.76 412.45,78.27 412.50,82.36 412.55,88.28 412.60,94.37 412.65,98.53 412.70,99.03 412.76,95.16 412.83,87.60 412.90,78.35 412.97,70.11 413.03,65.28 413.09,65.11 413.14,69.22 413.18,75.92 413.23,83.03 413.28,88.80 413.33,92.45 413.38,94.17 413.44,94.60 413.49,94.25 413.55,93.13 413.61,90.87 413.67,87.13 413.74,81.97 413.80,76.31 413.87,71.76 413.93,69.79 413.98,70.93 414.03,74.37"/>
<polyline stroke="#ec4346" stroke-width="0.85" points="351.79,144.20 351.91,144.01 352.04,144.14 352.17,144.55 352.31,145.24 352.45,146.15 352.60,147.25 352.75,148.49 352.90,149.84 353.06,151.23 353.21,152.62 353.36,153.97 353.51,155.22 353.66,156.34 353.80,157.30 353.94,158.07 354.08,158.63 354.21,158.98 354.33,159.11 354.45,159.02 354.57,158.72 354.68,158.23 354.79,157.57 354.89,156.76 354.99,155.81 355.09,154.76 355.19,153.61 355.28,152.40 355.38,151.14 355.48,149.86 355.57,148.57 355.67,147.30 355.76,146.08 355.86,144.92 355.96,143.85 356.06,142.90 356.17,142.10 356.28,141.47 356.39,141.05 356.51,140.84 356.63,140.89 356.76,141.18 356.89,141.74 357.03,142.55 357.17,143.61 357.32,144.89 357.47,146.36 357.63,147.98 357.78,149.69 357.94,151.44 358.10,153.17 358.25,154.82 358.40,156.31 358.55,157.57 358.69,158.57 358.82,159.23 358.95,159.51 359.07,159.40 359.18,158.87 359.28,157.92 359.37,156.58 359.46,154.87 359.54,152.86 359.62,150.59 359.69,148.16 359.76,145.64 359.84,143.13 359.91,140.71 359.99,138.48 360.07,136.51 360.16,134.88 360.26,133.65 360.36,132.84 360.48,132.48 360.60,132.58 360.73,133.12 360.87,134.07 361.02,135.38 361.17,137.00 361.33,138.87 361.48,140.90 361.64,143.03 361.80,145.18 361.96,147.29 362.12,149.28 362.27,151.10 362.42,152.68 362.57,153.99 362.71,155.00 362.84,155.67 362.96,155.99 363.08,155.96 363.19,155.59 363.30,154.90 363.40,153.90 363.50,152.65 363.59,151.18 363.68,149.53 363.77,147.77 363.86,145.93 363.94,144.08 364.03,142.27 364.12,140.53 364.21,138.92 364.31,137.46 364.40,136.20 364.51,135.14 364.61,134.32 364.72,133.72 364.83,133.36 364.95,133.22 365.07,133.31 365.20,133.60 365.33,134.07 365.46,134.71 365.59,135.49 365.72,136.38 365.86,137.36 366.00,138.40 366.13,139.48 366.27,140.58 366.41,141.68 366.55,142.75 366.68,143.77 366.82,144.74 366.95,145.62 367.08,146.41 367.21,147.08 367.34,147.63 367.47,148.03 367.59,148.28 367.71,148.34 367.82,148.21 367.94,147.88 368.05,147.32 368.15,146.54 368.25,145.52 368.35,144.27 368.45,142.80 368.54,141.12 368.63,139.27 368.71,137.29 368.80,135.21 368.89,133.11 368.97,131.05 369.06,129.11 369.15,127.35 369.25,125.85 369.35,124.69 369.45,123.93 369.57,123.61 369.69,123.76 369.82,124.40 369.95,125.51 370.10,127.07 370.24,129.01 370.40,131.27 370.55,133.76 370.71,136.39 370.87,139.04 371.02,141.62 371.18,144.03 371.33,146.17 371.47,147.98 371.61,149.39 371.74,150.36 371.87,150.87 371.98,150.92 372.09,150.50 372.20,149.67 372.30,148.45 372.39,146.90 372.48,145.08 372.57,143.05 372.66,140.88 372.74,138.64 372.83,136.39 372.91,134.18 373.00,132.08 373.09,130.13 373.18,128.36 373.28,126.83 373.38,125.55 373.48,124.55 373.59,123.85 373.70,123.47 373.82,123.41 373.94,123.69 374.07,124.29 374.20,125.20 374.33,126.41 374.47,127.89 374.61,129.59 374.75,131.48 374.89,133.50 375.04,135.58 375.18,137.66 375.33,139.65 375.47,141.50 375.61,143.13 375.74,144.47 375.87,145.48 375.99,146.10 376.11,146.30 376.22,146.08 376.33,145.42 376.43,144.36 376.53,142.91 376.62,141.14 376.71,139.10 376.80,136.86 376.89,134.51 376.97,132.13 377.06,129.80 377.15,127.60 377.24,125.60 377.34,123.86 377.44,122.43 377.54,121.34 377.65,120.60 377.76,120.22 377.87,120.18 377.99,120.46 378.12,121.02 378.24,121.81 378.37,122.80 378.50,123.93 378.63,125.15 378.76,126.42 378.89,127.69 379.02,128.93 379.15,130.11 379.28,131.20 379.41,132.19 379.53,133.07 379.66,133.82 379.78,134.44 379.90,134.94 380.02,135.30 380.14,135.53 380.26,135.62 380.37,135.58 380.48,135.41 380.59,135.11 380.71,134.67 380.81,134.12 380.92,133.44 381.03,132.66 381.13,131.78 381.24,130.82 381.34,129.81 381.45,128.77 381.55,127.71 381.65,126.67 381.76,125.69 381.86,124.77 381.97,123.96 382.08,123.27 382.19,122.73 382.30,122.34 382.41,122.13 382.52,122.08 382.64,122.21 382.76,122.50 382.88,122.95 383.00,123.52 383.12,124.20 383.24,124.96 383.37,125.78 383.49,126.62 383.61,127.46 383.73,128.26 383.86,129.00 383.98,129.65 384.10,130.18 384.21,130.59 384.33,130.84 384.45,130.93 384.56,130.85 384.67,130.59 384.78,130.16 384.89,129.56 385.00,128.81 385.10,127.92 385.21,126.92 385.31,125.83 385.41,124.69 385.52,123.53 385.62,122.38 385.72,121.29 385.83,120.29 385.94,119.42 386.04,118.71 386.15,118.18 386.26,117.87 386.38,117.77 386.49,117.90 386.61,118.25 386.73,118.83 386.85,119.60 386.97,120.55 387.09,121.63 387.22,122.82 387.34,124.06 387.47,125.31 387.59,126.52 387.71,127.63 387.83,128.61 387.95,129.39 388.07,129.95 388.19,130.25 388.30,130.27 388.41,130.01 388.52,129.45 388.62,128.63 388.73,127.55 388.83,126.25 388.93,124.78 389.03,123.19 389.13,121.54 389.23,119.88 389.33,118.29 389.44,116.82 389.54,115.52 389.64,114.44 389.75,113.63 389.86,113.12 389.97,112.91 390.09,113.02 390.20,113.43 390.32,114.12 390.44,115.06 390.56,116.20 390.68,117.49 390.81,118.88 390.93,120.29 391.05,121.68 391.17,122.97 391.29,124.13 391.41,125.08 391.53,125.81 391.65,126.27 391.76,126.46 391.87,126.35 391.98,125.97 392.09,125.33 392.19,124.47 392.30,123.43 392.40,122.25 392.51,121.00 392.61,119.73 392.72,118.49 392.82,117.35 392.93,116.34 393.03,115.51 393.14,114.88 393.25,114.47 393.36,114.27 393.47,114.27 393.59,114.47 393.70,114.81 393.82,115.27 393.93,115.81 394.05,116.37 394.16,116.93 394.28,117.44 394.39,117.87 394.50,118.20 394.62,118.41 394.73,118.48 394.84,118.42 394.95,118.24 395.06,117.94 395.17,117.55 395.28,117.08 395.39,116.57 395.50,116.04 395.60,115.51 395.71,115.01 395.82,114.55 395.93,114.17 396.04,113.87 396.15,113.66 396.26,113.56 396.37,113.56 396.48,113.67 396.60,113.88 396.71,114.18 396.82,114.55 396.94,114.99 397.05,115.47 397.16,115.97 397.28,116.48 397.39,116.97 397.50,117.41 397.61,117.78 397.73,118.06 397.84,118.24 397.95,118.29 398.06,118.20 398.17,117.97 398.28,117.58 398.39,117.03 398.49,116.33 398.60,115.49 398.71,114.52 398.81,113.45 398.92,112.31 399.02,111.13 399.13,109.95 399.24,108.82 399.34,107.77 399.45,106.87 399.56,106.14 399.67,105.64 399.78,105.39 399.89,105.42 400.00,105.74 400.11,106.36 400.23,107.26 400.34,108.40 400.45,109.74 400.57,111.24 400.69,112.82 400.80,114.40 400.92,115.93 401.03,117.32 401.14,118.51 401.26,119.45 401.37,120.08 401.48,120.39 401.59,120.35 401.70,119.97 401.80,119.26 401.91,118.25 402.02,116.98 402.12,115.49 402.23,113.84 402.33,112.09 402.44,110.30 402.54,108.53 402.65,106.84 402.75,105.28 402.86,103.91 402.96,102.76 403.07,101.87 403.18,101.26 403.29,100.96 403.40,100.98 403.51,101.31 403.62,101.95 403.73,102.87 403.84,104.04 403.96,105.42 404.07,106.96 404.18,108.60 404.29,110.27 404.41,111.91 404.52,113.43 404.63,114.77 404.74,115.88 404.85,116.69 404.96,117.18 405.07,117.31 405.18,117.07 405.29,116.49 405.39,115.57 405.50,114.37 405.61,112.94 405.71,111.34 405.82,109.65 405.92,107.93 406.03,106.25 406.14,104.70 406.24,103.32 406.35,102.16 406.46,101.25 406.57,100.63 406.68,100.28 406.79,100.22 406.89,100.41 407.00,100.83 407.11,101.46 407.22,102.25 407.33,103.15 407.44,104.14 407.55,105.16 407.66,106.19 407.77,107.18 407.88,108.09 407.99,108.91 408.09,109.60 408.20,110.13 408.31,110.49 408.42,110.65 408.53,110.61 408.63,110.34 408.74,109.86 408.85,109.16 408.96,108.25 409.06,107.17 409.17,105.94 409.28,104.59 409.39,103.18 409.50,101.77 409.60,100.41 409.71,99.16 409.82,98.09 409.93,97.24 410.04,96.67 410.14,96.42 410.25,96.50 410.36,96.93 410.47,97.70 410.58,98.78 410.68,100.13 410.79,101.69 410.90,103.40 411.00,105.17 411.11,106.93 411.21,108.57 411.32,110.02 411.43,111.20 411.53,112.05 411.64,112.51 411.75,112.56 411.85,112.16 411.96,111.34 412.07,110.10 412.18,108.51 412.29,106.61 412.40,104.48 412.51,102.20 412.62,99.88 412.73,97.61 412.84,95.48 412.95,93.59 413.06,92.01 413.16,90.81 413.27,90.05 413.38,89.75 413.49,89.92 413.59,90.56 413.70,91.65 413.80,93.13 413.91,94.96 414.01,97.05 414.11,99.33 414.22,101.70 414.32,104.06 414.42,106.33 414.52,108.40 414.63,110.17 414.73,111.58 414.83,112.54 414.94,113.00 415.04,112.91 415.15,112.26 415.26,111.05 415.37,109.32 415.48,107.10 415.59,104.49 415.71,101.57 415.82,98.47 415.93,95.32 416.05,92.25 416.16,89.40 416.28,86.90 416.39,84.87 416.50,83.41 416.61,82.59 416.71,82.45 416.82,83.01 416.92,84.24 417.02,86.08 417.12,88.46 417.22,91.26 417.32,94.36 417.41,97.63 417.51,100.91 417.60,104.07 417.70,106.96 417.80,109.45 417.90,111.44 418.00,112.84 418.10,113.58 418.20,113.63 418.31,112.98 418.42,111.65 418.53,109.70 418.65,107.21 418.76,104.27 418.88,101.00 419.00,97.56 419.12,94.06 419.23,90.68 419.35,87.54 419.47,84.78 419.58,82.50 419.70,80.81 419.81,79.75 419.91,79.37 420.02,79.66 420.12,80.59 420.22,82.10 420.32,84.11 420.41,86.51 420.51,89.17 420.60,91.97 420.69,94.77 420.79,97.44 420.88,99.88 420.98,101.97 421.07,103.65 421.17,104.86 421.27,105.58 421.38,105.79 421.48,105.54 421.59,104.85 421.70,103.80 421.81,102.46 421.92,100.90 422.03,99.22 422.15,97.61 422.26,95.98 422.37,94.26 422.49,92.50 422.60,90.76 422.71,89.09 422.82,87.56 422.94,86.21 423.05,85.09 423.16,84.23 423.26,83.67 423.37,83.41 423.47,83.47 423.58,83.85 423.68,84.52 423.78,85.47 423.88,86.67 423.97,88.06 424.07,89.61 424.16,91.25 424.26,92.93 424.35,94.59 424.45,96.17 424.54,97.61 424.64,98.86 424.74,99.86 424.84,100.59 424.94,101.01 425.04,101.09 425.15,100.84 425.25,100.25 425.36,99.34 425.47,98.13 425.59,96.66 425.70,94.98 425.82,93.14 425.93,91.20 426.05,89.24 426.16,87.31 426.28,85.49 426.39,83.83 426.51,82.40 426.62,81.25 426.73,80.42 426.84,79.81 426.94,79.42 427.05,79.42 427.15,79.81 427.25,80.59 427.34,81.72 427.44,83.17 427.53,84.87 427.62,86.75 427.71,88.74 427.80,90.76 427.89,92.72 427.98,94.54 428.07,96.15 428.16,97.48 428.26,98.47 428.35,99.08 428.46,99.30 428.56,99.11 428.67,98.52 428.78,97.56 428.89,96.27 429.00,94.70 429.12,92.92 429.24,91.00 429.35,89.02 429.47,87.04 429.59,85.13 429.71,83.37 429.82,81.79 429.94,80.46 430.05,79.39 430.16,78.62"/>
<polyline stroke="#9467bd" stroke-width="0.85" points="369.03,154.42 369.25,154.74 369.47,155.15 369.69,155.62 369.91,156.14 370.13,156.69 370.35,157.24 370.57,157.78 370.79,158.28 371.00,158.72 371.22,159.08 371.44,159.35 371.65,159.51 371.86,159.56 372.07,159.49 372.28,159.31 372.48,159.05 372.69,158.70 372.89,158.29 373.10,157.83 373.30,157.33 373.50,156.79 373.70,156.23 373.90,155.66 374.11,155.06 374.31,154.46 374.51,153.86 374.71,153.26 374.91,152.68 375.11,152.13 375.32,151.62 375.52,151.16 375.72,150.75 375.93,150.38 376.13,150.08 376.34,149.82 376.54,149.62 376.75,149.47 376.96,149.37 377.17,149.33 377.37,149.34 377.58,149.41 377.79,149.53 378.00,149.71 378.21,149.93 378.42,150.18 378.63,150.45 378.85,150.71 379.06,150.96 379.26,151.16 379.47,151.32 379.68,151.40 379.89,151.42 380.09,151.36 380.30,151.22 380.50,151.02 380.71,150.75 380.91,150.42 381.11,150.04 381.31,149.62 381.51,149.16 381.72,148.69 381.92,148.20 382.12,147.72 382.32,147.25 382.52,146.79 382.72,146.36 382.92,145.95 383.12,145.57 383.32,145.23 383.53,144.92 383.73,144.65 383.93,144.43 384.13,144.25 384.34,144.12 384.54,144.04 384.75,144.02 384.95,144.04 385.16,144.10 385.36,144.19 385.57,144.30 385.77,144.40 385.98,144.48 386.18,144.52 386.39,144.51 386.59,144.44 386.79,144.29 386.99,144.08 387.19,143.80 387.39,143.46 387.59,143.08 387.79,142.66 387.99,142.22 388.19,141.76 388.39,141.29 388.59,140.84 388.79,140.41 388.99,140.01 389.19,139.65 389.39,139.35 389.59,139.10 389.79,138.92 389.99,138.81 390.19,138.76 390.40,138.78 390.60,138.85 390.80,138.97 391.01,139.13 391.21,139.31 391.41,139.50 391.61,139.68 391.82,139.85 392.02,139.99 392.22,140.08 392.42,140.12 392.62,140.11 392.82,140.04 393.02,139.92 393.22,139.74 393.42,139.50 393.62,139.21 393.82,138.87 394.01,138.47 394.21,138.02 394.41,137.53 394.61,136.98 394.80,136.40 395.00,135.79 395.20,135.17 395.39,134.55 395.59,133.94 395.78,133.37 395.98,132.85 396.18,132.39 396.38,132.01 396.57,131.70 396.77,131.48 396.97,131.34 397.17,131.28 397.37,131.30 397.57,131.39 397.77,131.54 397.97,131.74 398.17,131.98 398.37,132.26 398.57,132.56 398.77,132.88 398.96,133.19 399.16,133.50 399.36,133.75 399.56,133.94 399.76,134.06 399.96,134.11 400.15,134.10 400.35,134.03 400.55,133.90 400.74,133.71 400.94,133.48 401.14,133.21 401.33,132.90 401.53,132.51 401.72,132.11 401.92,131.72 402.11,131.33 402.31,130.96 402.50,130.60 402.70,130.26 402.89,129.93 403.09,129.61 403.29,129.30 403.48,128.98 403.68,128.67 403.87,128.35 404.07,128.01 404.26,127.68 404.46,127.33 404.65,126.98 404.84,126.63 405.04,126.29 405.23,125.95 405.43,125.64 405.62,125.34 405.82,125.07 406.01,124.82 406.21,124.61 406.40,124.43 406.60,124.28 406.79,124.17 406.99,124.10 407.18,124.06 407.37,124.06 407.57,124.09 407.76,124.11 407.96,124.17 408.15,124.27 408.34,124.39 408.54,124.53 408.73,124.68 408.92,124.84 409.12,124.98 409.31,125.11 409.50,125.22 409.70,125.29 409.89,125.31 410.08,125.28 410.28,125.19 410.47,125.03 410.66,124.81 410.85,124.52 411.05,124.18 411.24,123.79 411.43,123.33 411.62,122.81 411.82,122.22 412.01,121.59 412.20,120.92 412.39,120.25 412.59,119.59 412.78,118.94 412.97,118.34 413.16,117.78 413.36,117.27 413.55,116.81 413.74,116.42 413.93,116.10 414.13,115.85 414.32,115.68 414.51,115.62 414.70,115.66 414.89,115.82 415.08,116.11 415.27,116.52 415.46,117.05 415.65,117.68 415.84,118.39 416.03,119.15 416.21,119.91 416.40,120.64 416.59,121.30 416.78,121.85 416.97,122.26 417.15,122.51 417.34,122.59 417.53,122.49 417.72,122.23 417.91,121.80 418.10,121.22 418.30,120.50 418.49,119.65 418.68,118.70 418.87,117.67 419.06,116.58 419.26,115.46 419.45,114.33 419.64,113.23 419.84,112.17 420.03,111.18 420.22,110.29 420.41,109.50 420.61,108.83 420.80,108.29 420.99,107.88 421.18,107.61 421.36,107.48 421.55,107.49 421.74,107.65 421.93,107.94 422.11,108.35 422.30,108.88 422.48,109.49 422.67,110.17 422.85,110.88 423.03,111.60 423.22,112.30 423.40,112.94 423.58,113.51 423.77,113.99 423.95,114.37 424.14,114.64 424.32,114.81 424.51,114.88 424.69,114.84 424.88,114.70 425.07,114.45 425.26,114.11 425.45,113.66 425.63,113.11 425.82,112.48 426.01,111.76 426.20,110.98 426.40,110.16 426.59,109.30 426.78,108.45 426.97,107.60 427.16,106.79 427.35,106.03 427.54,105.32 427.73,104.69 427.92,104.15 428.11,103.70 428.30,103.35 428.48,103.11 428.67,102.98 428.85,102.96 429.04,103.05 429.22,103.22 429.40,103.48 429.59,103.79 429.77,104.14 429.95,104.50 430.13,104.85 430.31,105.16 430.49,105.42 430.67,105.61 430.86,105.73 431.04,105.78 431.22,105.75 431.41,105.65 431.59,105.49 431.78,105.28 431.96,105.02 432.15,104.73 432.33,104.43 432.52,104.15 432.71,103.87 432.89,103.59 433.08,103.30 433.26,103.03 433.45,102.77 433.63,102.53 433.81,102.32 434.00,102.14 434.18,101.99 434.37,101.87 434.55,101.78 434.73,101.71 434.91,101.67 435.10,101.63 435.28,101.60 435.46,101.57 435.64,101.52 435.82,101.45 436.01,101.35 436.19,101.27 436.37,101.19 436.55,101.04 436.74,100.81 436.92,100.48 437.11,100.03 437.29,99.47 437.48,98.78 437.67,98.00 437.86,97.13 438.05,96.21 438.24,95.27 438.43,94.35 438.62,93.48 438.81,92.72 439.00,92.08 439.19,91.61 439.37,91.32 439.55,91.22 439.73,91.33 439.91,91.64 440.08,92.15 440.25,92.85 440.42,93.73 440.59,94.77 440.76,95.95 440.92,97.25 441.08,98.63 441.24,100.07 441.40,101.51 441.57,102.81 441.73,103.91 441.90,104.80 442.07,105.45 442.24,105.82 442.42,105.90 442.60,105.66 442.78,105.10 442.97,104.22 443.17,103.05 443.36,101.59 443.56,99.88 443.77,97.91 443.97,95.80 444.18,93.68 444.38,91.62 444.59,89.68 444.79,87.90 444.99,86.32 445.18,84.97 445.38,83.87 445.57,83.03 445.75,82.45 445.93,82.14 446.11,82.09 446.29,82.28 446.46,82.69"/>
<polyline stroke="#8c564b" stroke-width="0.85" points="386.38,162.03 386.66,162.05 386.94,162.06 387.22,162.04 387.50,162.00 387.77,161.93 388.05,161.83 388.32,161.71 388.60,161.57 388.88,161.41 389.15,161.25 389.43,161.09 389.70,160.93 389.98,160.78 390.25,160.63 390.53,160.49 390.80,160.34 391.08,160.19 391.35,160.03 391.62,159.84 391.90,159.61 392.17,159.35 392.44,159.03 392.71,158.67 392.98,158.26 393.26,157.82 393.53,157.35 393.80,156.86 394.07,156.37 394.34,155.87 394.61,155.39 394.88,154.92 395.15,154.46 395.42,154.02 395.69,153.59 395.96,153.19 396.23,152.81 396.50,152.45 396.77,152.12 397.04,151.80 397.31,151.49 397.58,151.20 397.85,150.90 398.12,150.61 398.39,150.31 398.66,150.02 398.93,149.73 399.20,149.46 399.47,149.21 399.74,148.97 400.01,148.77 400.28,148.59 400.55,148.44 400.82,148.31 401.09,148.20 401.35,148.11 401.62,148.03 401.89,147.96 402.16,147.88 402.43,147.81 402.70,147.73 402.96,147.64 403.23,147.54 403.50,147.43 403.77,147.32 404.03,147.20 404.30,147.06 404.57,146.92 404.83,146.76 405.10,146.59 405.37,146.40 405.63,146.20 405.90,145.97 406.16,145.72 406.43,145.45 406.69,145.16 406.96,144.86 407.22,144.53 407.49,144.19 407.75,143.85 408.02,143.49 408.28,143.14 408.55,142.78 408.81,142.42 409.08,142.05 409.34,141.69 409.60,141.32 409.87,140.95 410.13,140.59 410.39,140.23 410.66,139.89 410.92,139.56 411.18,139.25 411.45,138.96 411.71,138.69 411.97,138.45 412.24,138.23 412.50,138.03 412.76,137.84 413.02,137.67 413.28,137.51 413.55,137.35 413.81,137.20 414.07,137.05 414.33,136.89 414.59,136.74 414.85,136.57 415.11,136.40 415.37,136.22 415.63,136.04 415.90,135.87 416.16,135.69 416.42,135.51 416.68,135.32 416.94,135.13 417.20,134.94 417.45,134.74 417.71,134.54 417.97,134.38 418.23,134.22 418.49,134.06 418.75,133.90 419.01,133.72 419.27,133.53 419.53,133.31 419.78,133.08 420.04,132.83 420.30,132.56 420.56,132.27 420.82,131.96 421.08,131.63 421.33,131.29 421.59,130.94 421.85,130.58 422.11,130.23 422.37,129.87 422.62,129.51 422.88,129.16 423.14,128.82 423.40,128.49 423.65,128.16 423.91,127.85 424.17,127.55 424.42,127.26 424.68,126.98 424.94,126.70 425.19,126.44 425.45,126.19 425.70,125.94 425.96,125.69 426.22,125.45 426.47,125.21 426.73,124.97 426.98,124.74 427.24,124.51 427.49,124.28 427.74,124.06 428.00,123.84 428.25,123.62 428.51,123.40 428.76,123.18 429.01,122.97 429.27,122.77 429.52,122.58 429.77,122.40 430.03,122.22 430.28,122.06 430.53,121.90 430.78,121.76 431.04,121.61 431.29,121.47 431.54,121.32 431.79,121.18 432.04,121.03 432.30,120.88 432.55,120.72 432.80,120.56 433.05,120.39 433.30,120.20 433.55,120.02 433.80,119.83 434.05,119.63 434.30,119.43 434.55,119.23 434.80,119.04 435.05,118.84 435.30,118.64 435.56,118.45 435.80,118.25 436.05,118.05 436.30,117.84 436.55,117.62 436.80,117.38 437.05,117.13 437.30,116.87 437.55,116.59 437.80,116.31 438.05,116.02 438.30,115.73 438.55,115.43 438.80,115.13 439.05,114.82 439.30,114.50 439.55,114.19 439.80,113.87 440.05,113.54 440.30,113.22 440.55,112.89 440.80,112.56 441.05,112.22 441.29,111.88 441.54,111.54 441.79,111.19 442.04,110.84 442.29,110.49 442.54,110.13 442.79,109.76 443.04,109.38 443.29,108.99 443.53,108.59 443.78,108.19 444.03,107.78 444.28,107.36 444.53,106.94 444.78,106.52 445.03,106.10 445.27,105.70 445.52,105.33 445.77,105.14 446.01,105.03 446.25,104.94 446.50,104.89 446.74,104.86 446.98,104.86 447.22,104.88 447.46,104.93 447.70,104.99 447.94,105.08 448.18,105.17 448.42,105.28 448.66,105.39 448.90,105.51 449.14,105.62 449.38,105.73 449.61,105.77 449.86,105.73 450.10,105.63 450.34,105.49 450.58,105.31 450.82,105.09 451.07,104.83 451.31,104.55 451.55,104.25 451.80,103.92 452.04,103.57 452.28,103.21 452.53,102.94 452.77,102.69 453.01,102.42 453.25,102.14 453.50,101.84 453.74,101.53 453.98,101.21 454.22,100.87 454.47,100.52 454.71,100.17 454.95,99.80 455.20,99.43 455.44,99.05 455.68,98.67 455.93,98.29 456.17,97.90 456.41,97.50 456.66,97.09 456.90,96.66 457.14,96.22 457.39,95.78 457.63,95.32 457.88,94.86 458.12,94.40 458.36,93.95 458.61,93.51 458.85,93.10 459.09,92.72 459.33,92.36 459.57,92.05 459.81,91.77 460.05,91.54 460.29,91.34 460.53,91.18 460.76,91.05 461.00,90.96 461.23,90.90 461.47,90.86 461.70,90.85 461.93,90.86 462.17,90.89 462.40,90.92 462.63,90.97 462.86,91.01"/>
<polyline stroke="#e377c2" stroke-width="0.85" points="403.90,167.90 404.31,167.66 404.72,167.42 405.13,167.19 405.54,166.96 405.95,166.73 406.36,166.45 406.77,166.12 407.18,165.77 407.58,165.42 407.99,165.07 408.40,164.70 408.80,164.33 409.21,163.95 409.61,163.47 410.02,162.96 410.42,162.46 410.83,161.97 411.23,161.48 411.64,160.99 412.04,160.51 412.45,160.05 412.85,159.59 413.25,159.14 413.66,158.70 414.06,158.29 414.46,157.89 414.86,157.48 415.26,157.07 415.66,156.65 416.06,156.25 416.46,155.84 416.87,155.42 417.27,154.98 417.66,154.52 418.06,154.05 418.46,153.55 418.86,153.06 419.26,152.56 419.66,152.08 420.06,151.62 420.46,151.18 420.85,150.75 421.25,150.34 421.65,149.95 422.04,149.57 422.44,149.20 422.83,148.85 423.23,148.51 423.62,148.19 424.02,147.87 424.41,147.55 424.80,147.21 425.20,146.85 425.59,146.45 425.98,146.01 426.38,145.55 426.77,145.07 427.16,144.61 427.56,144.17 427.95,143.76 428.34,143.38 428.73,143.03 429.12,142.68 429.51,142.35 429.90,142.03 430.29,141.71 430.68,141.39 431.07,141.06 431.45,140.72 431.84,140.35 432.23,139.97 432.62,139.58 433.01,139.19 433.39,138.82 433.78,138.48 434.17,138.17 434.55,137.90 434.94,137.65 435.32,137.43 435.70,137.22 436.09,137.02 436.47,136.82 436.85,136.59 437.24,136.35 437.62,136.07 438.00,135.76 438.38,135.45 438.77,135.14 439.15,134.82 439.53,134.50 439.91,134.19 440.29,133.90 440.67,133.61 441.05,133.32 441.43,133.04 441.81,132.76 442.19,132.48 442.57,132.20 442.95,131.93 443.32,131.65 443.70,131.38 444.08,131.10 444.46,130.82 444.83,130.54 445.21,130.25 445.59,129.96 445.96,129.67 446.34,129.37 446.71,129.07 447.09,128.76 447.46,128.44 447.84,128.10 448.21,127.75 448.59,127.40 448.96,127.05 449.34,126.70 449.71,126.36 450.08,126.02 450.46,125.68 450.83,125.34 451.20,124.97 451.58,124.60 451.95,124.21 452.32,123.82 452.69,123.41 453.07,122.99 453.44,122.58 453.81,122.17 454.18,121.78 454.55,121.40 454.92,121.03 455.29,120.68 455.66,120.33 456.03,119.98 456.40,119.62 456.77,119.26 457.14,118.88 457.51,118.50 457.88,118.11 458.24,117.72 458.61,117.33 458.98,116.94 459.35,116.56 459.71,116.20 460.08,115.83 460.45,115.47 460.81,115.11 461.18,114.74 461.54,114.38 461.91,114.01 462.27,113.65 462.64,113.29 463.00,112.93 463.37,112.56 463.73,112.18 464.09,111.80 464.46,111.42 464.82,111.03 465.18,110.64 465.55,110.25 465.91,109.86 466.27,109.48 466.64,109.09 467.00,108.71 467.36,108.34 467.72,107.97 468.08,107.62 468.44,107.27 468.80,106.94 469.16,106.61 469.52,106.30 469.87,106.00 470.23,105.70 470.59,105.40 470.95,105.11 471.30,104.82 471.66,104.53 472.01,104.24 472.37,103.94 472.73,103.65 473.08,103.35 473.44,103.06 473.79,102.76 474.15,102.47 474.50,102.18 474.85,101.89 475.21,101.60 475.56,101.31 475.91,101.01 476.27,100.71 476.62,100.40 476.97,100.10 477.32,99.80 477.67,99.51 478.03,99.21 478.38,98.91 478.73,98.62 479.08,98.38 479.43,98.16"/>
<polyline stroke="#7f7f7f" stroke-width="0.80" points="421.63,172.60 423.00,171.31 424.36,170.02 425.72,168.74 427.07,167.46 428.42,166.19 429.77,164.92 431.11,163.65 432.45,162.39 433.79,161.13 435.12,159.87 436.45,158.62 437.78,157.37 439.10,156.12 440.42,154.88 441.73,153.64 443.04,152.40 444.35,151.17 445.65,149.94 446.96,148.71 448.25,147.49 449.55,146.27 450.84,145.05 452.12,143.84 453.41,142.63 454.69,141.42 455.96,140.22 457.23,139.02 458.50,137.82 459.77,136.62 461.03,135.43 462.29,134.25 463.55,133.06 464.80,131.88 466.05,130.70 467.30,129.53 468.54,128.35 469.78,127.18 471.02,126.02 472.25,124.86 473.48,123.70 474.70,122.54 475.93,121.39 477.15,120.23 478.36,119.09 479.58,117.94 480.79,116.80 482.00,115.66 483.20,114.53 484.40,113.39 485.60,112.26 486.80,111.14 487.99,110.01 489.18,108.89 490.36,107.77 491.54,106.66 492.72,105.54 493.90,104.43 495.07,103.33 496.25,102.22"/>
<polyline stroke="#bcbd22" points="439.57,178.07 442.31,175.46 445.04,172.86 447.75,170.28 450.44,167.71 453.12,165.15 455.78,162.61 458.43,160.08 461.07,157.57 463.69,155.07 466.29,152.59 468.89,150.12 471.46,147.66 474.03,145.22 476.57,142.79 479.11,140.37 481.63,137.97 484.14,135.58 486.63,133.20 489.11,130.84 491.58,128.48 494.03,126.14 496.47,123.82 498.90,121.50 501.31,119.20 503.72,116.91 506.10,114.63 508.48,112.37 510.84,110.12 513.20,107.87"/>
</g>
<g fill="none" stroke="#000" stroke-width="0.33" stroke-linecap="square">
<polyline points="288.48,193.03 443.54,243.65"/>
<polyline points="443.54,243.65 525.92,159.16"/>
<polyline points="525.92,159.16 531.14,45.23"/>
<line x1="296.95" y1="196.87" x2="299.54" y2="194.68"/>
<line x1="313.20" y1="202.19" x2="315.77" y2="199.96"/>
<line x1="329.64" y1="207.56" x2="332.19" y2="205.31"/>
<line x1="346.27" y1="212.99" x2="348.79" y2="210.71"/>
<line x1="363.08" y1="218.49" x2="365.58" y2="216.18"/>
<line x1="380.10" y1="224.05" x2="382.57" y2="221.71"/>
<line x1="397.31" y1="229.67" x2="399.75" y2="227.31"/>
<line x1="414.72" y1="235.36" x2="417.14" y2="232.97"/>
<line x1="432.34" y1="241.12" x2="434.73" y2="238.70"/>
<line x1="450.36" y1="238.20" x2="447.12" y2="237.15"/>
<line x1="461.96" y1="226.29" x2="458.72" y2="225.26"/>
<line x1="473.29" y1="214.67" x2="470.05" y2="213.65"/>
<line x1="484.35" y1="203.33" x2="481.10" y2="202.32"/>
<line x1="495.15" y1="192.25" x2="491.90" y2="191.26"/>
<line x1="505.70" y1="181.42" x2="502.44" y2="180.45"/>
<line x1="516.00" y1="170.85" x2="512.74" y2="169.89"/>
<line x1="527.33" y1="146.35" x2="525.25" y2="145.76"/>
<line x1="528.20" y1="127.21" x2="526.12" y2="126.63"/>
<line x1="529.10" y1="107.78" x2="527.01" y2="107.21"/>
<line x1="530.00" y1="88.06" x2="527.91" y2="87.50"/>
<line x1="530.92" y1="68.03" x2="528.83" y2="67.48"/>
</g>
<g font-size="6.30" text-anchor="middle" fill="#111">
<text x="295.16" y="205.48">1</text>
<text x="311.41" y="210.78">2</text>
<text x="327.84" y="216.14">3</text>
<text x="344.46" y="221.57">4</text>
<text x="361.27" y="227.05">5</text>
<text x="378.27" y="232.60">6</text>
<text x="395.47" y="238.22">7</text>
<text x="412.87" y="243.90">8</text>
<text x="430.48" y="249.65">9</text>
<text x="453.12" y="246.71">0</text>
<text x="464.72" y="234.81">20</text>
<text x="476.05" y="223.19">40</text>
<text x="487.10" y="211.85">60</text>
<text x="497.90" y="200.78">80</text>
<text x="508.45" y="189.96">100</text>
<text x="518.75" y="179.39">120</text>
<text x="532.02" y="149.00">-0.4</text>
<text x="532.89" y="129.86">-0.2</text>
<text x="533.78" y="110.44">0.0</text>
<text x="534.69" y="90.72">0.2</text>
<text x="535.61" y="70.70">0.4</text>
<text transform="translate(358.00 228.80) rotate(18.0)" y="1.93" font-size="5.85">IMF Number</text>
<text transform="translate(495.00 208.70) rotate(-46.0)" y="1.93" font-size="5.85">time (s)</text>
<text transform="translate(542.30 103.50) rotate(-88.0)" y="1.93" font-size="5.85">Amplitude</text>
</g>
</g>
</svg>
<div class="cap" style="left:117.1px"><span>(</span><b>a</b><span>)</span></div>
<div class="cap" style="left:398.1px"><span>(</span><b>b</b><span>)</span></div>
</body></html>
